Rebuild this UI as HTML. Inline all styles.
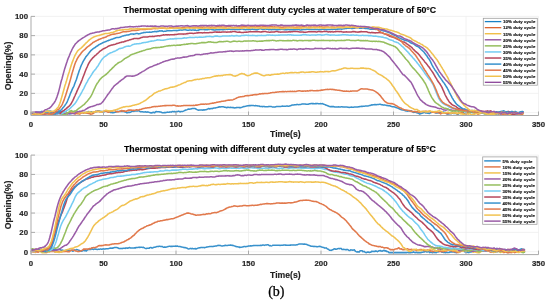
<!DOCTYPE html>
<html><head><meta charset="utf-8"><title>Thermostat opening</title>
<style>
html,body{margin:0;padding:0;background:#fff;width:550px;height:304px;overflow:hidden}
svg{display:block;filter:blur(0.35px)}
text{font-family:"Liberation Sans",Arial,sans-serif;font-weight:bold;fill:#222;stroke:#222;stroke-width:0.15px}
.tk{font-size:7.8px}
.ti{font-size:9.0px;fill:#000;stroke:#000}
.al{font-size:8.6px}
.lg{font-size:4.35px;fill:#111;stroke:#111;stroke-width:0.15px}
.cap{font-family:"Liberation Serif","Times New Roman",serif;font-weight:normal;font-size:14px;fill:#000;stroke:#000;stroke-width:0.25px}
</style></head><body>
<svg width="550" height="304" viewBox="0 0 550 304">
<path d="M103.50,16.40V115.50M176.00,16.40V115.50M248.50,16.40V115.50M321.00,16.40V115.50M393.50,16.40V115.50M466.00,16.40V115.50M538.50,16.40V115.50M31.00,112.60H538.50M31.00,93.36H538.50M31.00,74.12H538.50M31.00,54.88H538.50M31.00,35.64H538.50M31.00,16.40H538.50" stroke="#efefef" stroke-width="0.8" fill="none"/>
<path d="M31.0,112.6 31.7,112.8 32.4,112.8 33.2,112.9 33.9,113.8 34.6,113.9 35.3,114.0 36.0,113.8 36.8,113.5 37.5,113.6 38.2,113.4 38.9,113.4 39.6,113.6 40.4,113.8 41.1,113.6 41.8,112.9 42.5,112.6 43.2,112.8 44.0,112.3 44.7,112.3 45.4,112.2 46.1,111.9 46.8,112.2 47.6,111.9 48.3,111.9 49.0,111.6 49.7,111.3 50.4,111.0 51.2,111.6 51.9,111.5 52.6,112.0 53.3,112.5 54.0,112.7 54.8,112.5 55.5,112.9 56.2,112.2 56.9,112.1 57.6,111.9 58.4,110.9 59.1,111.0 59.8,111.2 60.5,111.3 61.2,111.6 62.0,111.7 62.7,111.6 63.4,112.0 64.1,112.0 64.8,111.8 65.6,111.7 66.3,112.2 67.0,112.5 67.7,112.7 68.4,113.1 69.2,113.1 69.9,113.9 70.6,113.8 71.3,113.3 72.0,112.8 72.8,112.5 73.5,112.0 74.2,112.2 74.9,111.6 75.6,111.7 76.4,112.2 77.1,112.3 77.8,112.2 78.5,112.4 79.2,112.3 80.0,112.2 80.7,112.3 81.4,112.2 82.1,112.3 82.8,112.5 83.6,112.8 84.3,112.5 85.0,112.7 85.7,112.6 86.4,112.7 87.2,112.3 87.9,112.1 88.6,111.5 89.3,111.8 90.0,111.9 90.8,112.2 91.5,111.7 92.2,112.3 92.9,112.5 93.6,112.6 94.4,112.5 95.1,112.2 95.8,111.4 96.5,111.8 97.2,111.1 98.0,111.1 98.7,111.0 99.4,110.8 100.1,111.2 100.8,111.6 101.6,111.4 102.3,111.9 103.0,112.0 103.7,111.6 104.4,111.8 105.2,111.3 105.9,110.7 106.6,111.3 107.3,111.5 108.0,111.8 108.8,111.9 109.5,112.0 110.2,112.1 110.9,112.6 111.6,112.5 112.4,112.7 113.1,112.8 113.8,112.5 114.5,112.4 115.2,112.3 116.0,112.1 116.7,111.5 117.4,111.6 118.1,111.6 118.8,111.5 119.6,111.3 120.3,111.3 121.0,111.4 121.7,111.4 122.4,111.4 123.2,111.2 123.9,111.5 124.6,111.8 125.3,112.1 126.0,112.2 126.8,112.8 127.5,112.7 128.2,112.6 128.9,112.2 129.6,112.5 130.4,112.3 131.1,111.9 131.8,111.4 132.5,111.2 133.2,111.3 134.0,111.4 134.7,110.9 135.4,110.9 136.1,111.0 136.8,110.9 137.6,111.0 138.3,110.8 139.0,110.7 139.7,111.4 140.4,111.7 141.2,111.7 141.9,111.7 142.6,111.8 143.3,112.0 144.0,112.0 144.8,111.9 145.5,111.8 146.2,111.9 146.9,112.3 147.6,111.9 148.4,112.1 149.1,112.4 149.8,112.5 150.5,112.7 151.2,113.0 152.0,112.6 152.7,112.6 153.4,112.3 154.1,112.6 154.8,112.6 155.6,111.8 156.3,111.6 157.0,111.7 157.7,111.8 158.4,111.8 159.2,111.7 159.9,111.9 160.6,112.0 161.3,112.2 162.0,112.7 162.8,112.8 163.5,112.7 164.2,112.6 164.9,112.6 165.6,112.6 166.4,112.4 167.1,112.1 167.8,112.2 168.5,112.2 169.2,112.3 170.0,111.9 170.7,112.0 171.4,112.1 172.1,111.6 172.8,111.5 173.6,111.7 174.3,111.6 175.0,111.6 175.7,112.0 176.4,111.6 177.2,111.6 177.9,111.4 178.6,111.1 179.3,111.4 180.0,111.9 180.8,111.6 181.5,111.4 182.2,111.4 182.9,111.4 183.6,111.1 184.4,110.6 185.1,110.4 185.8,110.0 186.5,109.9 187.2,109.6 188.0,109.2 188.7,109.1 189.4,109.2 190.1,109.1 190.8,109.0 191.6,108.8 192.3,108.4 193.0,108.4 193.7,108.4 194.4,108.4 195.2,108.6 195.9,109.0 196.6,109.4 197.3,109.7 198.0,109.9 198.8,110.2 199.5,110.1 200.2,110.0 200.9,110.0 201.6,109.9 202.4,110.1 203.1,110.1 203.8,109.8 204.5,110.0 205.2,109.8 206.0,109.7 206.7,109.6 207.4,109.2 208.1,108.8 208.8,108.6 209.6,108.9 210.3,108.7 211.0,108.5 211.7,108.6 212.4,108.6 213.2,108.3 213.9,108.1 214.6,108.0 215.3,107.9 216.0,107.7 216.8,107.6 217.5,107.4 218.2,107.1 218.9,107.1 219.6,106.8 220.4,106.9 221.1,106.7 221.8,106.8 222.5,106.8 223.2,106.8 224.0,106.9 224.7,107.3 225.4,107.3 226.1,107.5 226.8,107.7 227.6,107.3 228.3,107.3 229.0,107.4 229.7,107.4 230.4,107.3 231.2,107.5 231.9,107.5 232.6,107.6 233.3,107.6 234.0,107.7 234.8,107.9 235.5,107.8 236.2,107.7 236.9,107.4 237.6,107.5 238.4,107.5 239.1,107.6 239.8,107.6 240.5,107.7 241.2,107.4 242.0,107.2 242.7,106.9 243.4,106.6 244.1,106.6 244.8,106.4 245.6,106.3 246.3,106.1 247.0,105.9 247.7,105.8 248.4,105.7 249.2,105.6 249.9,105.6 250.6,105.6 251.3,105.4 252.0,105.5 252.8,105.5 253.5,105.6 254.2,105.7 254.9,105.8 255.6,105.6 256.4,105.7 257.1,105.7 257.8,105.9 258.5,105.9 259.2,106.1 260.0,106.4 260.7,106.5 261.4,106.4 262.1,106.6 262.8,106.6 263.6,106.4 264.3,106.5 265.0,106.8 265.7,106.8 266.4,106.8 267.2,106.8 267.9,106.8 268.6,106.5 269.3,106.4 270.0,106.5 270.8,106.5 271.5,106.6 272.2,106.9 272.9,107.0 273.6,106.9 274.4,107.1 275.1,107.0 275.8,106.8 276.5,106.6 277.2,106.5 278.0,106.5 278.7,106.5 279.4,106.5 280.1,106.5 280.8,106.4 281.6,106.3 282.3,106.1 283.0,106.2 283.7,106.3 284.4,106.3 285.2,106.2 285.9,106.2 286.6,106.1 287.3,106.0 288.0,106.2 288.8,106.2 289.5,106.1 290.2,105.8 290.9,105.7 291.6,105.2 292.4,104.9 293.1,104.9 293.8,105.0 294.5,104.8 295.2,104.8 296.0,104.8 296.7,104.5 297.4,104.4 298.1,104.6 298.8,104.7 299.6,104.6 300.3,104.5 301.0,104.4 301.7,104.1 302.4,103.9 303.2,104.0 303.9,103.9 304.6,104.0 305.3,104.1 306.0,104.3 306.8,104.2 307.5,104.3 308.2,104.2 308.9,104.0 309.6,103.8 310.4,103.7 311.1,103.5 311.8,103.6 312.5,103.6 313.2,103.6 314.0,103.8 314.7,103.7 315.4,103.6 316.1,103.6 316.8,103.6 317.6,103.5 318.3,103.7 319.0,103.8 319.7,103.7 320.4,103.6 321.2,103.7 321.9,103.7 322.6,103.6 323.3,104.0 324.0,104.3 324.8,104.6 325.5,104.8 326.2,105.3 326.9,105.3 327.6,105.8 328.4,106.0 329.1,106.4 329.8,106.6 330.5,106.8 331.2,106.6 332.0,106.6 332.7,106.6 333.4,106.6 334.1,106.8 334.8,107.0 335.6,107.0 336.3,106.9 337.0,107.0 337.7,106.9 338.4,106.8 339.2,106.9 339.9,106.9 340.6,106.9 341.3,106.8 342.0,106.8 342.8,107.0 343.5,106.9 344.2,107.0 344.9,107.1 345.6,107.0 346.4,107.0 347.1,107.1 347.8,107.2 348.5,107.2 349.2,107.4 350.0,107.3 350.7,107.2 351.4,107.1 352.1,107.2 352.8,107.2 353.6,107.2 354.3,107.1 355.0,107.0 355.7,107.0 356.4,107.0 357.2,106.9 357.9,107.0 358.6,106.8 359.3,106.8 360.0,106.5 360.8,106.4 361.5,106.3 362.2,106.5 362.9,106.3 363.6,106.2 364.4,106.2 365.1,106.1 365.8,105.9 366.5,105.9 367.2,105.9 368.0,105.9 368.7,105.8 369.4,105.6 370.1,105.5 370.8,105.3 371.6,104.8 372.3,104.9 373.0,104.7 373.7,104.7 374.4,104.6 375.2,104.7 375.9,104.5 376.6,104.7 377.3,104.6 378.0,104.4 378.8,104.4 379.5,104.3 380.2,104.3 380.9,104.5 381.6,104.7 382.4,104.8 383.1,105.0 383.8,105.1 384.5,104.9 385.2,105.1 386.0,105.3 386.7,105.5 387.4,105.4 388.1,105.8 388.8,105.7 389.6,105.8 390.3,106.0 391.0,106.3 391.7,106.5 392.4,106.7 393.2,106.8 393.9,106.8 394.6,106.9 395.3,107.2 396.0,107.5 396.8,107.8 397.5,108.0 398.2,108.2 398.9,108.5 399.6,109.0 400.4,109.4 401.1,109.6 401.8,109.9 402.5,110.0 403.2,110.1 404.0,110.3 404.7,110.4 405.4,110.8 406.1,111.0 406.8,111.1 407.6,111.2 408.3,111.1 409.0,110.9 409.7,111.1 410.4,110.9 411.2,110.8 411.9,111.4 412.6,111.9 413.3,112.2 414.0,112.4 414.8,112.0 415.5,112.1 416.2,112.5 416.9,112.7 417.6,112.9 418.4,113.3 419.1,113.7 419.8,114.1 420.5,113.6 421.2,113.4 422.0,113.2 422.7,112.9 423.4,112.7 424.1,112.5 424.8,112.1 425.6,112.9 426.3,113.0 427.0,113.1 427.7,113.2 428.4,113.3 429.2,113.5 429.9,113.2 430.6,112.7 431.3,112.6 432.0,112.2 432.8,112.1 433.5,112.2 434.2,112.0 434.9,112.2 435.6,112.9 436.4,112.9 437.1,112.9 437.8,112.9 438.5,112.8 439.2,112.7 440.0,113.1 440.7,112.1 441.4,112.1 442.1,112.4 442.8,112.3 443.6,112.0 444.3,112.6 445.0,112.3 445.7,113.3 446.4,113.6 447.2,114.1 447.9,113.8 448.6,113.9 449.3,113.8 450.0,113.8 450.8,113.4 451.5,113.6 452.2,113.2 452.9,113.3 453.6,113.5 454.4,113.4 455.1,113.5 455.8,113.4 456.5,113.6 457.2,114.2 458.0,114.3 458.7,113.8 459.4,113.3 460.1,112.4 460.8,112.6 461.6,112.2 462.3,112.2 463.0,112.2 463.7,113.0 464.4,113.4 465.2,113.7 465.9,113.0 466.6,113.3 467.3,113.2 468.0,113.1 468.8,112.7 469.5,113.0 470.2,112.8 470.9,112.5 471.6,112.3 472.4,112.4 473.1,112.8 473.8,112.8 474.5,113.0 475.2,113.1 476.0,113.3 476.7,113.3 477.4,113.2 478.1,113.0 478.8,112.5 479.6,112.3 480.3,112.6 481.0,112.7 481.7,113.0 482.4,112.9 483.2,112.4 483.9,113.4 484.6,113.9 485.3,113.9 486.0,113.3 486.8,112.9 487.5,113.0 488.2,113.9 488.9,113.7 489.6,113.6 490.4,113.6 491.1,113.2 491.8,114.1 492.5,113.8 493.2,113.1 494.0,113.0 494.7,113.2 495.4,113.0 496.1,113.4 496.8,112.8 497.6,112.7 498.3,112.7 499.0,112.5 499.7,111.9 500.4,111.6 501.2,111.4 501.9,111.2 502.6,111.2 503.3,110.8 504.0,110.9 504.8,111.4 505.5,112.2 506.2,112.3 506.9,112.6 507.6,113.2 508.4,113.6 509.1,113.5 509.8,113.6 510.5,112.8 511.2,112.9 512.0,112.7 512.7,112.4 513.4,112.3 514.1,112.1 514.8,111.5 515.6,111.6 516.3,112.0 517.0,112.4 517.7,112.6 518.4,112.6 519.2,112.6 519.9,112.7 520.6,112.6 521.3,112.2 522.0,112.0 522.8,111.8 523.5,111.8" stroke="#3891cc" stroke-width="1.55" fill="none" stroke-linejoin="round"/>
<path d="M31.0,113.1 31.7,113.2 32.4,113.8 33.2,113.8 33.9,113.9 34.6,113.8 35.3,114.3 36.0,113.9 36.8,114.3 37.5,113.9 38.2,114.1 38.9,114.3 39.6,115.0 40.4,114.9 41.1,114.7 41.8,114.4 42.5,115.0 43.2,114.4 44.0,113.4 44.7,112.6 45.4,112.7 46.1,113.1 46.8,113.3 47.6,112.9 48.3,113.6 49.0,114.7 49.7,114.7 50.4,115.0 51.2,114.7 51.9,114.5 52.6,114.5 53.3,114.3 54.0,113.5 54.8,113.7 55.5,113.1 56.2,113.4 56.9,113.7 57.6,113.7 58.4,113.5 59.1,113.6 59.8,113.1 60.5,113.9 61.2,113.8 62.0,113.9 62.7,113.8 63.4,114.2 64.1,113.7 64.8,113.6 65.6,113.4 66.3,113.3 67.0,113.3 67.7,113.6 68.4,112.7 69.2,112.9 69.9,112.3 70.6,112.3 71.3,113.1 72.0,112.6 72.8,112.6 73.5,113.3 74.2,113.4 74.9,113.9 75.6,113.9 76.4,113.0 77.1,113.6 77.8,113.6 78.5,113.7 79.2,114.1 80.0,113.9 80.7,113.3 81.4,113.2 82.1,112.5 82.8,112.8 83.6,113.2 84.3,112.4 85.0,112.4 85.7,113.0 86.4,113.0 87.2,113.0 87.9,113.4 88.6,113.2 89.3,113.7 90.0,113.8 90.8,114.2 91.5,113.9 92.2,113.9 92.9,113.5 93.6,113.0 94.4,112.4 95.1,111.8 95.8,111.2 96.5,111.5 97.2,111.5 98.0,111.2 98.7,111.4 99.4,111.7 100.1,112.0 100.8,111.9 101.6,112.0 102.3,111.6 103.0,111.8 103.7,111.5 104.4,111.3 105.2,111.1 105.9,111.4 106.6,111.5 107.3,111.7 108.0,112.2 108.8,112.2 109.5,111.8 110.2,111.6 110.9,111.2 111.6,111.0 112.4,111.2 113.1,110.7 113.8,110.6 114.5,110.5 115.2,110.9 116.0,111.4 116.7,111.8 117.4,111.6 118.1,111.8 118.8,111.7 119.6,111.6 120.3,111.4 121.0,110.7 121.7,110.5 122.4,110.8 123.2,111.3 123.9,110.7 124.6,111.2 125.3,111.2 126.0,111.1 126.8,111.1 127.5,110.8 128.2,110.1 128.9,110.5 129.6,110.0 130.4,110.1 131.1,110.1 131.8,110.3 132.5,110.3 133.2,110.5 134.0,110.1 134.7,110.4 135.4,110.2 136.1,109.8 136.8,109.7 137.6,109.9 138.3,110.0 139.0,109.8 139.7,109.5 140.4,109.5 141.2,109.4 141.9,109.0 142.6,108.8 143.3,108.5 144.0,108.4 144.8,108.3 145.5,108.0 146.2,108.1 146.9,107.9 147.6,107.8 148.4,107.7 149.1,107.7 149.8,107.5 150.5,107.5 151.2,107.3 152.0,107.0 152.7,106.8 153.4,106.7 154.1,106.5 154.8,106.6 155.6,106.6 156.3,106.4 157.0,106.5 157.7,106.4 158.4,106.3 159.2,106.3 159.9,106.3 160.6,106.0 161.3,106.0 162.0,105.9 162.8,105.8 163.5,105.8 164.2,105.8 164.9,105.6 165.6,105.6 166.4,105.6 167.1,105.5 167.8,105.5 168.5,105.6 169.2,105.5 170.0,105.4 170.7,105.5 171.4,105.6 172.1,105.4 172.8,105.2 173.6,105.3 174.3,105.3 175.0,105.4 175.7,105.7 176.4,105.9 177.2,105.8 177.9,106.1 178.6,106.1 179.3,106.0 180.0,106.0 180.8,106.1 181.5,105.8 182.2,105.8 182.9,105.8 183.6,105.6 184.4,105.5 185.1,105.6 185.8,105.5 186.5,105.4 187.2,105.5 188.0,105.5 188.7,105.5 189.4,105.4 190.1,105.6 190.8,105.5 191.6,105.4 192.3,105.5 193.0,105.4 193.7,105.3 194.4,105.4 195.2,105.3 195.9,105.1 196.6,105.1 197.3,105.2 198.0,104.8 198.8,104.7 199.5,104.6 200.2,104.4 200.9,104.1 201.6,104.2 202.4,104.2 203.1,104.1 203.8,104.2 204.5,104.2 205.2,104.1 206.0,104.0 206.7,104.2 207.4,104.1 208.1,103.9 208.8,103.9 209.6,103.7 210.3,103.4 211.0,103.4 211.7,103.3 212.4,103.1 213.2,103.2 213.9,103.0 214.6,102.8 215.3,102.7 216.0,102.5 216.8,102.2 217.5,102.3 218.2,102.1 218.9,102.0 219.6,101.8 220.4,101.7 221.1,101.4 221.8,101.2 222.5,101.3 223.2,101.2 224.0,101.1 224.7,101.0 225.4,100.9 226.1,100.5 226.8,100.5 227.6,100.3 228.3,100.3 229.0,100.0 229.7,100.2 230.4,100.1 231.2,100.0 231.9,99.9 232.6,99.9 233.3,99.6 234.0,99.2 234.8,98.9 235.5,98.6 236.2,98.3 236.9,97.8 237.6,97.6 238.4,97.3 239.1,97.0 239.8,96.9 240.5,96.7 241.2,96.7 242.0,96.7 242.7,96.6 243.4,96.5 244.1,96.4 244.8,96.0 245.6,95.8 246.3,95.7 247.0,95.6 247.7,95.6 248.4,95.7 249.2,95.5 249.9,95.5 250.6,95.3 251.3,95.2 252.0,95.1 252.8,95.1 253.5,94.8 254.2,94.7 254.9,94.6 255.6,94.6 256.4,94.6 257.1,94.6 257.8,94.5 258.5,94.3 259.2,94.1 260.0,93.8 260.7,93.9 261.4,93.8 262.1,93.7 262.8,93.5 263.6,93.7 264.3,93.5 265.0,93.6 265.7,93.5 266.4,93.5 267.2,93.5 267.9,93.4 268.6,93.3 269.3,93.2 270.0,93.1 270.8,92.8 271.5,92.7 272.2,92.6 272.9,92.4 273.6,92.4 274.4,92.4 275.1,92.4 275.8,92.1 276.5,92.2 277.2,92.1 278.0,92.0 278.7,91.9 279.4,91.8 280.1,91.8 280.8,91.7 281.6,91.8 282.3,91.5 283.0,91.8 283.7,91.6 284.4,91.7 285.2,91.5 285.9,91.6 286.6,91.7 287.3,91.6 288.0,91.4 288.8,91.5 289.5,91.4 290.2,91.3 290.9,91.5 291.6,91.4 292.4,91.3 293.1,91.4 293.8,91.4 294.5,91.3 295.2,91.4 296.0,91.5 296.7,91.3 297.4,91.1 298.1,90.9 298.8,90.8 299.6,90.8 300.3,91.0 301.0,91.1 301.7,91.2 302.4,91.1 303.2,91.3 303.9,91.1 304.6,91.0 305.3,91.1 306.0,91.1 306.8,90.9 307.5,90.7 308.2,90.9 308.9,90.9 309.6,90.6 310.4,90.6 311.1,90.6 311.8,90.5 312.5,90.5 313.2,90.7 314.0,90.8 314.7,90.7 315.4,90.7 316.1,90.7 316.8,90.6 317.6,90.6 318.3,90.7 319.0,90.6 319.7,90.5 320.4,90.4 321.2,90.1 321.9,90.1 322.6,90.1 323.3,89.9 324.0,89.8 324.8,89.8 325.5,89.6 326.2,89.5 326.9,89.5 327.6,89.3 328.4,89.4 329.1,89.4 329.8,89.3 330.5,89.3 331.2,89.4 332.0,89.2 332.7,89.5 333.4,89.6 334.1,89.6 334.8,89.7 335.6,90.0 336.3,89.9 337.0,90.1 337.7,90.2 338.4,90.3 339.2,90.2 339.9,90.4 340.6,90.5 341.3,90.7 342.0,90.7 342.8,91.1 343.5,91.2 344.2,91.1 344.9,91.2 345.6,91.2 346.4,91.1 347.1,91.3 347.8,91.3 348.5,91.2 349.2,91.4 350.0,91.3 350.7,91.1 351.4,91.2 352.1,91.1 352.8,91.0 353.6,91.0 354.3,91.0 355.0,91.0 355.7,91.0 356.4,91.1 357.2,90.9 357.9,90.7 358.6,90.2 359.3,89.9 360.0,89.4 360.8,89.0 361.5,88.8 362.2,88.8 362.9,88.9 363.6,88.9 364.4,89.0 365.1,88.9 365.8,89.0 366.5,89.0 367.2,89.0 368.0,89.2 368.7,89.5 369.4,89.5 370.1,89.7 370.8,89.8 371.6,90.0 372.3,90.1 373.0,90.3 373.7,90.6 374.4,90.9 375.2,91.4 375.9,91.8 376.6,92.3 377.3,92.8 378.0,93.4 378.8,94.2 379.5,94.9 380.2,95.6 380.9,96.5 381.6,97.4 382.4,98.4 383.1,99.3 383.8,100.3 384.5,101.0 385.2,101.7 386.0,102.1 386.7,102.7 387.4,102.9 388.1,103.3 388.8,103.5 389.6,103.5 390.3,103.5 391.0,103.7 391.7,103.6 392.4,103.8 393.2,104.1 393.9,104.3 394.6,104.5 395.3,105.2 396.0,105.5 396.8,105.9 397.5,106.5 398.2,106.9 398.9,107.3 399.6,107.6 400.4,108.0 401.1,108.1 401.8,108.6 402.5,108.9 403.2,109.3 404.0,109.7 404.7,109.8 405.4,109.9 406.1,109.9 406.8,110.2 407.6,110.2 408.3,110.4 409.0,110.5 409.7,110.8 410.4,111.1 411.2,111.4 411.9,111.2 412.6,111.7 413.3,111.8 414.0,111.4 414.8,111.4 415.5,111.8 416.2,112.0 416.9,111.8 417.6,111.8 418.4,112.1 419.1,112.4 419.8,112.0 420.5,111.7 421.2,111.7 422.0,111.5 422.7,111.5 423.4,111.5 424.1,111.5 424.8,111.6 425.6,111.3 426.3,111.2 427.0,111.5 427.7,111.4 428.4,111.7 429.2,111.6 429.9,111.3 430.6,111.6 431.3,111.7 432.0,112.3 432.8,112.3 433.5,111.9 434.2,112.4 434.9,112.6 435.6,112.0 436.4,112.6 437.1,112.2 437.8,112.3 438.5,112.6 439.2,113.0 440.0,113.3 440.7,114.0 441.4,113.0 442.1,112.7 442.8,112.9 443.6,113.1 444.3,112.9 445.0,113.2 445.7,112.8 446.4,112.8 447.2,113.7 447.9,113.5 448.6,113.2 449.3,113.2 450.0,113.4 450.8,113.3 451.5,113.4 452.2,112.9 452.9,112.8 453.6,113.2 454.4,113.1 455.1,113.0 455.8,113.1 456.5,113.3 457.2,113.9 458.0,113.3 458.7,113.0 459.4,112.8 460.1,112.7 460.8,112.6 461.6,112.3 462.3,112.3 463.0,113.7 463.7,113.7 464.4,114.3 465.2,114.5 465.9,114.2 466.6,113.9 467.3,113.4 468.0,112.2 468.8,111.8 469.5,111.8 470.2,111.8 470.9,111.6 471.6,111.4 472.4,111.7 473.1,111.7 473.8,112.0 474.5,112.5 475.2,112.8 476.0,113.4 476.7,113.4 477.4,114.0 478.1,114.3 478.8,113.9 479.6,113.3 480.3,113.5 481.0,112.8 481.7,112.9 482.4,112.6 483.2,112.5 483.9,112.4 484.6,113.0 485.3,112.6 486.0,113.3 486.8,113.5 487.5,113.1 488.2,113.1 488.9,112.9 489.6,113.2 490.4,113.4 491.1,113.8 491.8,113.9 492.5,114.4 493.2,113.8 494.0,113.6 494.7,113.2 495.4,113.3 496.1,112.6 496.8,113.3 497.6,112.8 498.3,113.0 499.0,113.7 499.7,113.7 500.4,112.7 501.2,113.6 501.9,113.6 502.6,113.6 503.3,113.6 504.0,113.3 504.8,112.6 505.5,113.2 506.2,112.7 506.9,112.0 507.6,112.0 508.4,112.7 509.1,113.0 509.8,113.5 510.5,113.8 511.2,114.1 512.0,114.5 512.7,114.5 513.4,113.7 514.1,113.4 514.8,113.5 515.6,113.0 516.3,112.9 517.0,112.8 517.7,113.0 518.4,113.3 519.2,113.6 519.9,113.1 520.6,113.2 521.3,112.8 522.0,112.4 522.8,112.0 523.5,111.7" stroke="#e1794c" stroke-width="1.55" fill="none" stroke-linejoin="round"/>
<path d="M31.0,113.0 31.7,113.1 32.4,113.5 33.2,113.2 33.9,113.4 34.6,113.3 35.3,113.9 36.0,114.3 36.8,114.6 37.5,114.4 38.2,114.9 38.9,115.0 39.6,115.0 40.4,115.0 41.1,115.0 41.8,115.0 42.5,115.0 43.2,115.0 44.0,115.0 44.7,114.9 45.4,114.0 46.1,113.2 46.8,113.3 47.6,113.6 48.3,113.7 49.0,113.2 49.7,113.6 50.4,113.6 51.2,114.4 51.9,114.2 52.6,113.6 53.3,113.0 54.0,112.9 54.8,112.3 55.5,111.9 56.2,112.1 56.9,112.2 57.6,112.6 58.4,112.8 59.1,113.3 59.8,113.6 60.5,113.9 61.2,113.7 62.0,113.9 62.7,113.5 63.4,113.2 64.1,113.2 64.8,112.9 65.6,113.1 66.3,113.3 67.0,113.2 67.7,113.6 68.4,113.0 69.2,113.0 69.9,112.9 70.6,112.0 71.3,111.5 72.0,112.0 72.8,112.0 73.5,112.5 74.2,112.1 74.9,112.5 75.6,112.2 76.4,111.9 77.1,112.3 77.8,112.6 78.5,112.8 79.2,113.1 80.0,112.5 80.7,112.8 81.4,112.9 82.1,112.1 82.8,112.3 83.6,112.6 84.3,113.1 85.0,113.0 85.7,112.7 86.4,111.9 87.2,112.3 87.9,112.3 88.6,112.3 89.3,111.7 90.0,112.1 90.8,112.4 91.5,112.7 92.2,112.0 92.9,111.9 93.6,111.8 94.4,112.1 95.1,112.1 95.8,111.6 96.5,111.5 97.2,111.6 98.0,111.6 98.7,111.4 99.4,111.1 100.1,111.5 100.8,112.1 101.6,112.0 102.3,111.7 103.0,111.4 103.7,111.3 104.4,110.9 105.2,110.5 105.9,110.2 106.6,110.5 107.3,110.6 108.0,111.0 108.8,110.7 109.5,110.9 110.2,110.8 110.9,110.9 111.6,110.9 112.4,110.9 113.1,110.5 113.8,110.5 114.5,110.2 115.2,110.1 116.0,109.8 116.7,109.6 117.4,109.3 118.1,109.0 118.8,108.7 119.6,108.3 120.3,108.2 121.0,107.8 121.7,107.5 122.4,107.4 123.2,107.1 123.9,106.8 124.6,106.9 125.3,106.7 126.0,106.6 126.8,106.5 127.5,106.5 128.2,106.5 128.9,106.6 129.6,106.2 130.4,106.3 131.1,106.0 131.8,105.8 132.5,105.4 133.2,105.3 134.0,105.2 134.7,105.0 135.4,104.8 136.1,104.7 136.8,104.5 137.6,104.3 138.3,104.2 139.0,103.8 139.7,103.5 140.4,103.2 141.2,102.7 141.9,102.3 142.6,101.9 143.3,101.6 144.0,101.1 144.8,100.8 145.5,100.2 146.2,99.9 146.9,99.2 147.6,98.7 148.4,97.9 149.1,97.3 149.8,96.7 150.5,96.3 151.2,95.9 152.0,95.4 152.7,94.7 153.4,94.1 154.1,93.4 154.8,93.0 155.6,92.7 156.3,92.3 157.0,91.9 157.7,91.7 158.4,91.3 159.2,91.0 159.9,90.9 160.6,90.7 161.3,90.4 162.0,90.1 162.8,89.7 163.5,89.5 164.2,89.2 164.9,88.9 165.6,88.7 166.4,88.8 167.1,88.5 167.8,88.4 168.5,88.1 169.2,87.9 170.0,87.5 170.7,87.3 171.4,87.2 172.1,87.1 172.8,87.1 173.6,87.0 174.3,86.8 175.0,86.6 175.7,86.3 176.4,86.0 177.2,85.8 177.9,85.3 178.6,85.1 179.3,84.9 180.0,84.6 180.8,84.2 181.5,83.9 182.2,83.4 182.9,83.2 183.6,82.9 184.4,82.5 185.1,82.4 185.8,82.2 186.5,81.7 187.2,81.2 188.0,81.0 188.7,80.9 189.4,80.7 190.1,80.7 190.8,80.8 191.6,80.8 192.3,80.5 193.0,80.3 193.7,80.1 194.4,79.8 195.2,79.6 195.9,79.6 196.6,79.5 197.3,79.3 198.0,79.3 198.8,79.4 199.5,79.2 200.2,78.9 200.9,78.9 201.6,78.9 202.4,78.6 203.1,78.5 203.8,78.6 204.5,78.4 205.2,78.1 206.0,77.9 206.7,77.9 207.4,77.7 208.1,77.7 208.8,77.7 209.6,77.7 210.3,77.5 211.0,77.4 211.7,77.1 212.4,76.8 213.2,76.6 213.9,76.4 214.6,76.1 215.3,76.1 216.0,76.1 216.8,75.8 217.5,76.0 218.2,75.6 218.9,75.6 219.6,75.7 220.4,75.7 221.1,75.4 221.8,75.6 222.5,75.6 223.2,75.2 224.0,75.1 224.7,75.0 225.4,75.0 226.1,74.7 226.8,74.8 227.6,74.8 228.3,74.8 229.0,74.6 229.7,74.6 230.4,74.6 231.2,74.8 231.9,75.0 232.6,75.5 233.3,75.8 234.0,75.9 234.8,76.1 235.5,76.1 236.2,75.8 236.9,75.6 237.6,75.4 238.4,74.9 239.1,74.5 239.8,74.1 240.5,74.0 241.2,73.6 242.0,73.6 242.7,73.8 243.4,73.9 244.1,73.8 244.8,74.6 245.6,74.8 246.3,75.3 247.0,75.6 247.7,75.7 248.4,75.5 249.2,75.4 249.9,75.1 250.6,74.7 251.3,74.4 252.0,74.0 252.8,73.8 253.5,73.5 254.2,73.2 254.9,73.1 255.6,73.1 256.4,73.1 257.1,73.1 257.8,73.3 258.5,73.6 259.2,73.9 260.0,74.3 260.7,74.5 261.4,75.0 262.1,75.2 262.8,75.6 263.6,75.7 264.3,75.8 265.0,75.6 265.7,75.3 266.4,75.0 267.2,74.9 267.9,75.0 268.6,74.8 269.3,75.2 270.0,75.1 270.8,75.1 271.5,74.6 272.2,74.7 272.9,74.4 273.6,74.4 274.4,74.2 275.1,74.2 275.8,74.2 276.5,74.2 277.2,74.1 278.0,74.1 278.7,74.2 279.4,74.0 280.1,73.8 280.8,73.5 281.6,73.4 282.3,73.3 283.0,73.3 283.7,73.3 284.4,73.4 285.2,73.2 285.9,73.0 286.6,72.9 287.3,73.1 288.0,73.1 288.8,73.0 289.5,72.8 290.2,72.8 290.9,72.6 291.6,72.6 292.4,72.6 293.1,72.7 293.8,72.7 294.5,72.5 295.2,72.5 296.0,72.5 296.7,72.7 297.4,72.7 298.1,72.7 298.8,72.6 299.6,72.6 300.3,72.2 301.0,72.1 301.7,72.1 302.4,72.0 303.2,72.0 303.9,72.2 304.6,72.4 305.3,72.4 306.0,72.3 306.8,72.3 307.5,72.2 308.2,72.2 308.9,72.1 309.6,72.1 310.4,72.1 311.1,71.9 311.8,71.7 312.5,71.8 313.2,71.8 314.0,71.9 314.7,72.0 315.4,72.2 316.1,72.2 316.8,72.3 317.6,72.0 318.3,72.0 319.0,71.9 319.7,71.7 320.4,71.6 321.2,71.7 321.9,71.7 322.6,71.8 323.3,71.9 324.0,71.8 324.8,71.6 325.5,71.6 326.2,71.4 326.9,71.4 327.6,71.6 328.4,71.6 329.1,71.7 329.8,71.6 330.5,71.4 331.2,71.1 332.0,70.9 332.7,70.8 333.4,70.7 334.1,70.9 334.8,70.8 335.6,70.7 336.3,70.4 337.0,70.3 337.7,69.9 338.4,69.7 339.2,69.4 339.9,69.2 340.6,69.2 341.3,69.0 342.0,68.7 342.8,68.6 343.5,68.3 344.2,68.0 344.9,68.0 345.6,68.0 346.4,68.2 347.1,68.6 347.8,68.4 348.5,68.5 349.2,68.5 350.0,68.4 350.7,68.2 351.4,68.3 352.1,68.3 352.8,68.3 353.6,68.4 354.3,68.4 355.0,68.5 355.7,68.4 356.4,68.4 357.2,68.6 357.9,68.5 358.6,68.5 359.3,68.4 360.0,68.3 360.8,68.1 361.5,68.1 362.2,68.1 362.9,68.1 363.6,68.1 364.4,68.3 365.1,68.4 365.8,68.3 366.5,68.6 367.2,68.6 368.0,68.5 368.7,68.5 369.4,68.7 370.1,68.8 370.8,69.2 371.6,69.6 372.3,69.9 373.0,70.3 373.7,70.5 374.4,70.9 375.2,71.3 375.9,71.9 376.6,72.5 377.3,73.1 378.0,73.6 378.8,74.2 379.5,74.4 380.2,74.7 380.9,75.1 381.6,75.5 382.4,75.9 383.1,76.5 383.8,77.0 384.5,77.4 385.2,77.9 386.0,78.4 386.7,79.0 387.4,79.6 388.1,80.1 388.8,80.7 389.6,81.6 390.3,82.4 391.0,83.3 391.7,84.3 392.4,85.5 393.2,86.4 393.9,87.3 394.6,88.5 395.3,89.7 396.0,90.7 396.8,91.6 397.5,92.8 398.2,93.8 398.9,94.8 399.6,96.0 400.4,97.2 401.1,98.4 401.8,99.3 402.5,100.5 403.2,101.3 404.0,102.3 404.7,103.0 405.4,103.7 406.1,104.1 406.8,104.6 407.6,105.0 408.3,105.7 409.0,106.4 409.7,107.0 410.4,107.3 411.2,107.8 411.9,108.1 412.6,108.4 413.3,108.7 414.0,109.2 414.8,109.5 415.5,109.6 416.2,109.6 416.9,109.4 417.6,110.0 418.4,110.5 419.1,110.7 419.8,111.1 420.5,111.4 421.2,111.7 422.0,111.5 422.7,111.4 423.4,111.3 424.1,111.4 424.8,111.2 425.6,111.9 426.3,111.7 427.0,111.7 427.7,111.8 428.4,111.3 429.2,110.9 429.9,111.3 430.6,111.1 431.3,111.4 432.0,111.5 432.8,111.6 433.5,111.7 434.2,111.7 434.9,111.6 435.6,111.6 436.4,111.5 437.1,111.6 437.8,111.1 438.5,111.0 439.2,110.8 440.0,111.2 440.7,111.3 441.4,111.6 442.1,112.0 442.8,112.7 443.6,113.0 444.3,113.0 445.0,112.8 445.7,112.6 446.4,112.5 447.2,112.4 447.9,112.1 448.6,112.3 449.3,112.7 450.0,112.9 450.8,113.2 451.5,113.2 452.2,112.8 452.9,112.7 453.6,113.1 454.4,112.9 455.1,112.9 455.8,112.8 456.5,113.4 457.2,113.0 458.0,113.4 458.7,113.4 459.4,112.9 460.1,113.1 460.8,114.0 461.6,113.6 462.3,114.1 463.0,114.2 463.7,114.0 464.4,114.6 465.2,114.5 465.9,113.8 466.6,113.6 467.3,113.9 468.0,114.0 468.8,114.2 469.5,113.4 470.2,113.8 470.9,114.6 471.6,114.8 472.4,114.5 473.1,114.2 473.8,114.1 474.5,114.2 475.2,114.1 476.0,113.2 476.7,113.2 477.4,113.7 478.1,113.6 478.8,113.5 479.6,113.8 480.3,113.1 481.0,113.1 481.7,112.7 482.4,112.6 483.2,112.7 483.9,113.1 484.6,113.6 485.3,114.2 486.0,114.4 486.8,114.6 487.5,113.7 488.2,114.4 488.9,114.0 489.6,114.0 490.4,114.3 491.1,114.6 491.8,114.7 492.5,115.0 493.2,114.8 494.0,114.6 494.7,114.2 495.4,113.5 496.1,113.6 496.8,113.4 497.6,113.4 498.3,114.2 499.0,114.9 499.7,115.0 500.4,115.0 501.2,115.0 501.9,115.0 502.6,114.6 503.3,114.3 504.0,114.0 504.8,114.6 505.5,114.8 506.2,114.4 506.9,114.6 507.6,114.4 508.4,114.5 509.1,114.1 509.8,113.7 510.5,113.7 511.2,114.3 512.0,114.1 512.7,113.9 513.4,114.4 514.1,114.7 514.8,114.6 515.6,114.5 516.3,114.7 517.0,115.0 517.7,115.0 518.4,115.0 519.2,115.0 519.9,115.0 520.6,115.0 521.3,114.8 522.0,114.1 522.8,114.1 523.5,114.3" stroke="#f1c251" stroke-width="1.55" fill="none" stroke-linejoin="round"/>
<path d="M31.0,113.0 31.7,112.7 32.4,112.5 33.2,112.8 33.9,112.7 34.6,112.8 35.3,112.5 36.0,112.1 36.8,112.1 37.5,112.1 38.2,111.7 38.9,112.7 39.6,112.9 40.4,113.0 41.1,113.1 41.8,113.3 42.5,113.5 43.2,114.2 44.0,114.5 44.7,114.5 45.4,114.2 46.1,114.1 46.8,112.9 47.6,112.5 48.3,112.0 49.0,111.6 49.7,111.7 50.4,112.1 51.2,112.2 51.9,113.1 52.6,113.9 53.3,114.3 54.0,114.2 54.8,114.2 55.5,114.3 56.2,114.0 56.9,114.0 57.6,113.7 58.4,113.0 59.1,113.1 59.8,113.6 60.5,113.5 61.2,113.8 62.0,114.0 62.7,113.8 63.4,114.1 64.1,113.6 64.8,114.1 65.6,113.5 66.3,113.5 67.0,113.8 67.7,114.0 68.4,113.7 69.2,113.7 69.9,112.9 70.6,113.3 71.3,113.6 72.0,113.4 72.8,113.3 73.5,113.6 74.2,113.8 74.9,113.1 75.6,112.6 76.4,112.0 77.1,112.0 77.8,111.8 78.5,111.7 79.2,111.3 80.0,111.6 80.7,111.2 81.4,111.2 82.1,110.8 82.8,110.6 83.6,110.5 84.3,110.2 85.0,109.8 85.7,109.3 86.4,108.8 87.2,108.5 87.9,108.0 88.6,107.5 89.3,107.4 90.0,107.0 90.8,106.7 91.5,106.6 92.2,106.4 92.9,106.2 93.6,106.0 94.4,105.8 95.1,105.4 95.8,105.2 96.5,104.8 97.2,104.5 98.0,104.4 98.7,104.5 99.4,104.1 100.1,104.0 100.8,103.7 101.6,103.0 102.3,102.3 103.0,101.6 103.7,100.5 104.4,99.4 105.2,98.4 105.9,97.4 106.6,96.4 107.3,95.3 108.0,94.3 108.8,93.4 109.5,92.3 110.2,91.4 110.9,90.4 111.6,89.4 112.4,88.3 113.1,87.4 113.8,86.4 114.5,85.7 115.2,85.2 116.0,84.5 116.7,83.9 117.4,83.5 118.1,82.9 118.8,82.1 119.6,81.5 120.3,81.0 121.0,80.4 121.7,79.9 122.4,79.4 123.2,78.9 123.9,78.3 124.6,77.5 125.3,77.0 126.0,76.5 126.8,76.1 127.5,75.9 128.2,75.9 128.9,75.9 129.6,75.9 130.4,76.0 131.1,76.1 131.8,76.2 132.5,76.1 133.2,76.1 134.0,75.9 134.7,75.7 135.4,75.4 136.1,75.2 136.8,75.0 137.6,74.6 138.3,74.3 139.0,73.7 139.7,73.3 140.4,72.7 141.2,72.4 141.9,71.9 142.6,71.6 143.3,71.2 144.0,70.8 144.8,70.3 145.5,69.9 146.2,69.4 146.9,68.9 147.6,68.5 148.4,68.0 149.1,67.6 149.8,67.3 150.5,67.1 151.2,66.8 152.0,66.5 152.7,66.2 153.4,65.8 154.1,65.6 154.8,65.3 155.6,65.1 156.3,64.8 157.0,64.5 157.7,64.0 158.4,63.9 159.2,63.7 159.9,63.3 160.6,63.1 161.3,62.7 162.0,62.4 162.8,62.0 163.5,61.7 164.2,61.4 164.9,61.3 165.6,61.0 166.4,60.8 167.1,60.7 167.8,60.6 168.5,60.3 169.2,60.1 170.0,59.7 170.7,59.4 171.4,59.2 172.1,59.2 172.8,59.1 173.6,59.1 174.3,59.0 175.0,58.6 175.7,58.3 176.4,58.2 177.2,58.1 177.9,57.9 178.6,58.0 179.3,58.1 180.0,58.0 180.8,57.8 181.5,57.7 182.2,57.4 182.9,57.2 183.6,57.1 184.4,57.1 185.1,57.1 185.8,57.0 186.5,56.9 187.2,56.7 188.0,56.5 188.7,56.2 189.4,56.1 190.1,56.0 190.8,55.8 191.6,55.8 192.3,55.7 193.0,55.5 193.7,55.4 194.4,55.2 195.2,54.8 195.9,54.6 196.6,54.5 197.3,54.4 198.0,54.5 198.8,54.5 199.5,54.6 200.2,54.7 200.9,54.7 201.6,54.5 202.4,54.4 203.1,54.2 203.8,54.0 204.5,54.0 205.2,54.0 206.0,53.8 206.7,53.8 207.4,53.9 208.1,53.5 208.8,53.4 209.6,53.2 210.3,53.0 211.0,52.8 211.7,53.0 212.4,52.9 213.2,52.9 213.9,52.8 214.6,52.7 215.3,52.5 216.0,52.4 216.8,52.4 217.5,52.2 218.2,52.2 218.9,52.1 219.6,52.0 220.4,52.0 221.1,52.0 221.8,52.0 222.5,51.9 223.2,51.8 224.0,51.7 224.7,51.8 225.4,51.6 226.1,51.6 226.8,51.5 227.6,51.3 228.3,51.2 229.0,51.2 229.7,51.0 230.4,51.0 231.2,51.1 231.9,51.1 232.6,51.2 233.3,51.4 234.0,51.2 234.8,51.2 235.5,51.1 236.2,51.0 236.9,50.9 237.6,51.0 238.4,51.1 239.1,51.2 239.8,51.1 240.5,51.0 241.2,51.1 242.0,50.9 242.7,50.8 243.4,51.0 244.1,51.0 244.8,50.8 245.6,50.8 246.3,50.7 247.0,50.5 247.7,50.7 248.4,50.7 249.2,50.7 249.9,50.8 250.6,50.7 251.3,50.5 252.0,50.6 252.8,50.5 253.5,50.3 254.2,50.3 254.9,50.2 255.6,49.8 256.4,50.0 257.1,49.9 257.8,49.9 258.5,49.9 259.2,50.0 260.0,49.8 260.7,49.8 261.4,50.1 262.1,50.1 262.8,50.3 263.6,50.2 264.3,50.2 265.0,49.8 265.7,49.8 266.4,49.7 267.2,49.8 267.9,49.8 268.6,49.8 269.3,49.6 270.0,49.7 270.8,49.5 271.5,49.4 272.2,49.4 272.9,49.5 273.6,49.4 274.4,49.6 275.1,49.7 275.8,49.8 276.5,49.8 277.2,49.8 278.0,49.6 278.7,49.6 279.4,49.4 280.1,49.3 280.8,49.2 281.6,49.3 282.3,49.3 283.0,49.5 283.7,49.4 284.4,49.4 285.2,49.5 285.9,49.6 286.6,49.6 287.3,49.8 288.0,49.6 288.8,49.3 289.5,49.3 290.2,49.2 290.9,49.1 291.6,49.2 292.4,49.3 293.1,49.1 293.8,49.0 294.5,49.1 295.2,49.3 296.0,49.3 296.7,49.6 297.4,49.6 298.1,49.3 298.8,48.9 299.6,49.0 300.3,48.8 301.0,49.0 301.7,49.1 302.4,49.3 303.2,49.0 303.9,49.2 304.6,48.9 305.3,48.8 306.0,48.6 306.8,48.8 307.5,48.8 308.2,48.7 308.9,48.7 309.6,49.0 310.4,48.9 311.1,48.9 311.8,49.0 312.5,49.0 313.2,48.9 314.0,48.8 314.7,48.5 315.4,48.3 316.1,48.4 316.8,48.4 317.6,48.4 318.3,48.6 319.0,48.5 319.7,48.4 320.4,48.4 321.2,48.5 321.9,48.4 322.6,48.7 323.3,48.9 324.0,48.8 324.8,48.8 325.5,48.7 326.2,48.4 326.9,48.3 327.6,48.3 328.4,48.3 329.1,48.4 329.8,48.5 330.5,48.5 331.2,48.7 332.0,48.7 332.7,48.6 333.4,48.7 334.1,48.7 334.8,48.6 335.6,48.6 336.3,49.0 337.0,48.9 337.7,48.9 338.4,48.6 339.2,48.6 339.9,48.3 340.6,48.3 341.3,48.3 342.0,48.4 342.8,48.6 343.5,48.5 344.2,48.5 344.9,48.5 345.6,48.5 346.4,48.3 347.1,48.5 347.8,48.5 348.5,48.7 349.2,48.8 350.0,48.8 350.7,48.6 351.4,48.5 352.1,48.3 352.8,48.2 353.6,48.2 354.3,48.3 355.0,48.3 355.7,48.2 356.4,48.1 357.2,48.2 357.9,48.1 358.6,48.3 359.3,48.3 360.0,48.5 360.8,48.4 361.5,48.5 362.2,48.3 362.9,48.6 363.6,48.5 364.4,48.6 365.1,48.8 365.8,49.0 366.5,48.9 367.2,48.9 368.0,49.0 368.7,48.9 369.4,48.9 370.1,49.0 370.8,49.0 371.6,49.1 372.3,49.2 373.0,49.4 373.7,49.4 374.4,49.4 375.2,49.5 375.9,49.6 376.6,49.4 377.3,49.8 378.0,50.0 378.8,49.9 379.5,50.2 380.2,50.5 380.9,50.5 381.6,50.8 382.4,51.2 383.1,51.4 383.8,51.9 384.5,52.5 385.2,53.0 386.0,53.6 386.7,54.4 387.4,55.0 388.1,55.7 388.8,56.3 389.6,57.1 390.3,58.0 391.0,59.0 391.7,59.9 392.4,60.9 393.2,61.7 393.9,62.6 394.6,63.4 395.3,64.4 396.0,65.3 396.8,66.3 397.5,67.2 398.2,68.1 398.9,68.9 399.6,69.9 400.4,71.2 401.1,72.1 401.8,73.1 402.5,73.9 403.2,74.7 404.0,74.9 404.7,75.6 405.4,76.3 406.1,77.0 406.8,77.7 407.6,78.6 408.3,79.4 409.0,80.1 409.7,80.9 410.4,81.6 411.2,82.5 411.9,83.8 412.6,85.2 413.3,86.7 414.0,88.2 414.8,89.7 415.5,91.0 416.2,92.5 416.9,94.0 417.6,95.4 418.4,96.6 419.1,97.7 419.8,98.9 420.5,99.8 421.2,100.4 422.0,101.1 422.7,101.9 423.4,102.5 424.1,102.8 424.8,103.5 425.6,104.0 426.3,104.6 427.0,104.9 427.7,105.3 428.4,105.5 429.2,105.9 429.9,106.0 430.6,106.2 431.3,106.5 432.0,106.6 432.8,106.7 433.5,106.7 434.2,106.9 434.9,107.1 435.6,107.3 436.4,107.6 437.1,107.9 437.8,108.2 438.5,108.3 439.2,108.7 440.0,108.6 440.7,108.5 441.4,108.7 442.1,109.1 442.8,109.4 443.6,110.0 444.3,110.0 445.0,109.9 445.7,110.2 446.4,110.0 447.2,109.7 447.9,109.4 448.6,109.4 449.3,109.7 450.0,110.0 450.8,109.9 451.5,110.1 452.2,110.3 452.9,110.7 453.6,110.2 454.4,110.4 455.1,110.2 455.8,110.0 456.5,110.3 457.2,110.6 458.0,110.5 458.7,110.8 459.4,110.4 460.1,110.6 460.8,110.4 461.6,110.6 462.3,110.5 463.0,110.1 463.7,110.4 464.4,110.9 465.2,110.8 465.9,110.8 466.6,110.6 467.3,110.5 468.0,110.9 468.8,110.6 469.5,110.6 470.2,110.9 470.9,111.2 471.6,111.1 472.4,111.7 473.1,111.5 473.8,111.4 474.5,111.5 475.2,111.1 476.0,111.5 476.7,111.0 477.4,111.0 478.1,111.5 478.8,111.7 479.6,111.3 480.3,111.4 481.0,111.6 481.7,112.0 482.4,112.0 483.2,112.1 483.9,112.0 484.6,112.4 485.3,112.0 486.0,111.9 486.8,111.9 487.5,111.6 488.2,111.7 488.9,111.6 489.6,111.4 490.4,111.7 491.1,112.1 491.8,112.0 492.5,112.4 493.2,112.1 494.0,112.8 494.7,112.7 495.4,112.7 496.1,113.2 496.8,113.2 497.6,113.5 498.3,114.1 499.0,113.2 499.7,113.3 500.4,114.2 501.2,114.1 501.9,113.8 502.6,113.1 503.3,112.6 504.0,113.2 504.8,112.4 505.5,112.1 506.2,112.0 506.9,112.0 507.6,113.1 508.4,112.8 509.1,112.5 509.8,113.2 510.5,112.9 511.2,112.7 512.0,113.1 512.7,112.9 513.4,113.5 514.1,113.0 514.8,112.9 515.6,113.2 516.3,113.2 517.0,112.7 517.7,113.1 518.4,112.9 519.2,113.2 519.9,113.1 520.6,113.0 521.3,113.1 522.0,113.0 522.8,112.7 523.5,112.8" stroke="#9a5da7" stroke-width="1.55" fill="none" stroke-linejoin="round"/>
<path d="M31.0,112.8 31.7,112.7 32.4,112.4 33.2,112.9 33.9,112.8 34.6,113.1 35.3,113.2 36.0,113.5 36.8,113.5 37.5,113.5 38.2,112.9 38.9,113.0 39.6,112.6 40.4,112.9 41.1,113.1 41.8,113.3 42.5,113.1 43.2,113.5 44.0,113.2 44.7,112.9 45.4,112.4 46.1,111.9 46.8,111.2 47.6,110.9 48.3,111.0 49.0,111.4 49.7,111.5 50.4,112.4 51.2,112.6 51.9,112.8 52.6,113.6 53.3,113.3 54.0,114.0 54.8,113.9 55.5,113.0 56.2,112.7 56.9,112.7 57.6,112.9 58.4,112.6 59.1,112.0 59.8,112.7 60.5,113.1 61.2,113.6 62.0,114.0 62.7,114.1 63.4,114.4 64.1,114.6 64.8,114.7 65.6,114.5 66.3,114.0 67.0,113.6 67.7,112.8 68.4,112.4 69.2,111.9 69.9,111.0 70.6,111.0 71.3,110.6 72.0,111.0 72.8,111.2 73.5,111.4 74.2,111.2 74.9,110.9 75.6,110.8 76.4,110.6 77.1,109.9 77.8,109.2 78.5,108.7 79.2,108.1 80.0,107.6 80.7,107.0 81.4,106.6 82.1,106.0 82.8,105.4 83.6,104.9 84.3,104.4 85.0,103.5 85.7,102.7 86.4,102.0 87.2,101.2 87.9,100.3 88.6,99.5 89.3,98.6 90.0,97.6 90.8,96.5 91.5,95.2 92.2,93.8 92.9,92.2 93.6,90.6 94.4,88.8 95.1,87.4 95.8,85.8 96.5,84.5 97.2,83.3 98.0,82.4 98.7,81.3 99.4,80.3 100.1,79.3 100.8,78.6 101.6,77.8 102.3,77.1 103.0,76.6 103.7,76.1 104.4,75.6 105.2,75.0 105.9,74.5 106.6,74.0 107.3,73.3 108.0,72.6 108.8,71.8 109.5,71.0 110.2,70.2 110.9,69.7 111.6,68.9 112.4,68.1 113.1,67.4 113.8,66.8 114.5,66.0 115.2,65.3 116.0,64.6 116.7,64.1 117.4,63.5 118.1,63.0 118.8,62.6 119.6,62.3 120.3,61.9 121.0,61.6 121.7,61.1 122.4,60.5 123.2,59.9 123.9,59.3 124.6,58.7 125.3,58.3 126.0,57.9 126.8,57.6 127.5,57.1 128.2,56.8 128.9,56.3 129.6,55.8 130.4,55.1 131.1,54.8 131.8,54.5 132.5,54.3 133.2,54.0 134.0,53.8 134.7,53.6 135.4,53.2 136.1,53.0 136.8,52.7 137.6,52.4 138.3,52.2 139.0,52.0 139.7,51.7 140.4,51.5 141.2,51.4 141.9,51.0 142.6,50.9 143.3,50.6 144.0,50.4 144.8,50.2 145.5,49.9 146.2,49.6 146.9,49.5 147.6,49.3 148.4,49.3 149.1,49.1 149.8,49.0 150.5,48.7 151.2,48.5 152.0,48.2 152.7,48.0 153.4,47.7 154.1,47.8 154.8,47.7 155.6,47.6 156.3,47.6 157.0,47.8 157.7,47.6 158.4,47.4 159.2,47.5 159.9,47.4 160.6,47.1 161.3,47.1 162.0,47.1 162.8,46.9 163.5,46.7 164.2,46.6 164.9,46.4 165.6,46.3 166.4,46.1 167.1,45.9 167.8,46.0 168.5,45.7 169.2,45.6 170.0,45.7 170.7,45.7 171.4,45.4 172.1,45.4 172.8,45.4 173.6,45.3 174.3,45.3 175.0,45.4 175.7,45.4 176.4,45.3 177.2,45.2 177.9,45.1 178.6,45.2 179.3,45.1 180.0,45.1 180.8,45.1 181.5,44.8 182.2,44.7 182.9,44.6 183.6,44.4 184.4,44.3 185.1,44.4 185.8,44.3 186.5,44.1 187.2,44.1 188.0,44.1 188.7,43.8 189.4,43.7 190.1,43.7 190.8,43.5 191.6,43.4 192.3,43.5 193.0,43.6 193.7,43.7 194.4,43.8 195.2,43.8 195.9,43.8 196.6,43.5 197.3,43.4 198.0,43.3 198.8,43.2 199.5,43.0 200.2,42.9 200.9,42.8 201.6,42.6 202.4,42.6 203.1,42.6 203.8,42.6 204.5,42.6 205.2,42.7 206.0,42.6 206.7,42.5 207.4,42.3 208.1,42.1 208.8,41.8 209.6,41.9 210.3,41.8 211.0,41.9 211.7,42.2 212.4,42.2 213.2,42.2 213.9,42.5 214.6,42.5 215.3,42.5 216.0,42.6 216.8,42.4 217.5,42.2 218.2,42.1 218.9,41.7 219.6,41.5 220.4,41.8 221.1,41.6 221.8,41.7 222.5,41.7 223.2,41.8 224.0,41.5 224.7,41.5 225.4,41.4 226.1,41.3 226.8,41.2 227.6,41.3 228.3,41.4 229.0,41.6 229.7,41.9 230.4,41.9 231.2,41.9 231.9,41.6 232.6,41.5 233.3,41.2 234.0,41.1 234.8,41.2 235.5,41.3 236.2,41.4 236.9,41.5 237.6,41.4 238.4,41.3 239.1,41.2 239.8,41.2 240.5,41.4 241.2,41.4 242.0,41.4 242.7,41.4 243.4,41.3 244.1,41.0 244.8,41.0 245.6,41.1 246.3,41.1 247.0,41.0 247.7,41.1 248.4,40.9 249.2,41.0 249.9,40.9 250.6,40.9 251.3,40.9 252.0,41.0 252.8,40.8 253.5,40.7 254.2,40.9 254.9,40.9 255.6,41.0 256.4,41.2 257.1,41.4 257.8,41.2 258.5,41.2 259.2,41.3 260.0,41.1 260.7,41.2 261.4,41.1 262.1,41.1 262.8,41.1 263.6,40.9 264.3,40.8 265.0,40.8 265.7,40.7 266.4,40.5 267.2,40.7 267.9,40.6 268.6,40.6 269.3,40.6 270.0,40.6 270.8,40.5 271.5,40.4 272.2,40.3 272.9,40.3 273.6,40.5 274.4,40.5 275.1,40.6 275.8,40.9 276.5,40.9 277.2,40.8 278.0,40.8 278.7,40.7 279.4,40.5 280.1,40.4 280.8,40.4 281.6,40.6 282.3,40.7 283.0,40.6 283.7,40.7 284.4,40.7 285.2,40.7 285.9,40.7 286.6,40.8 287.3,40.6 288.0,40.6 288.8,40.6 289.5,40.7 290.2,40.6 290.9,40.7 291.6,40.7 292.4,40.6 293.1,40.3 293.8,40.2 294.5,40.4 295.2,40.5 296.0,40.6 296.7,40.6 297.4,40.9 298.1,40.7 298.8,40.6 299.6,40.4 300.3,40.6 301.0,40.4 301.7,40.6 302.4,40.6 303.2,40.7 303.9,40.6 304.6,40.4 305.3,40.4 306.0,40.5 306.8,40.4 307.5,40.4 308.2,40.6 308.9,40.6 309.6,40.6 310.4,40.6 311.1,40.6 311.8,40.4 312.5,40.2 313.2,40.2 314.0,40.2 314.7,40.2 315.4,40.4 316.1,40.5 316.8,40.5 317.6,40.6 318.3,40.6 319.0,40.5 319.7,40.5 320.4,40.4 321.2,40.4 321.9,40.3 322.6,40.4 323.3,40.3 324.0,40.5 324.8,40.4 325.5,40.5 326.2,40.5 326.9,40.5 327.6,40.4 328.4,40.4 329.1,40.6 329.8,40.6 330.5,40.6 331.2,40.4 332.0,40.4 332.7,40.3 333.4,40.4 334.1,40.4 334.8,40.5 335.6,40.7 336.3,40.7 337.0,40.5 337.7,40.5 338.4,40.4 339.2,40.4 339.9,40.4 340.6,40.4 341.3,40.3 342.0,40.4 342.8,40.5 343.5,40.4 344.2,40.3 344.9,40.5 345.6,40.3 346.4,40.0 347.1,40.0 347.8,40.1 348.5,40.0 349.2,40.1 350.0,40.3 350.7,40.4 351.4,40.4 352.1,40.4 352.8,40.5 353.6,40.5 354.3,40.6 355.0,40.7 355.7,40.5 356.4,40.4 357.2,40.3 357.9,40.2 358.6,40.1 359.3,40.5 360.0,40.6 360.8,40.6 361.5,40.6 362.2,40.7 362.9,40.6 363.6,40.6 364.4,40.7 365.1,40.6 365.8,40.6 366.5,40.7 367.2,40.6 368.0,40.8 368.7,40.9 369.4,41.1 370.1,41.2 370.8,41.3 371.6,41.2 372.3,41.5 373.0,41.3 373.7,41.2 374.4,41.3 375.2,41.5 375.9,41.2 376.6,41.3 377.3,41.4 378.0,41.4 378.8,41.3 379.5,41.4 380.2,41.5 380.9,41.7 381.6,41.7 382.4,42.0 383.1,42.1 383.8,42.3 384.5,42.5 385.2,43.0 386.0,43.1 386.7,43.6 387.4,43.8 388.1,44.1 388.8,44.3 389.6,44.7 390.3,44.8 391.0,45.1 391.7,45.4 392.4,45.6 393.2,45.8 393.9,46.3 394.6,46.5 395.3,46.8 396.0,47.5 396.8,48.0 397.5,48.8 398.2,49.7 398.9,50.6 399.6,51.4 400.4,52.4 401.1,53.1 401.8,54.0 402.5,54.8 403.2,55.7 404.0,56.6 404.7,57.6 405.4,58.5 406.1,59.3 406.8,60.0 407.6,60.8 408.3,61.7 409.0,62.6 409.7,63.6 410.4,64.8 411.2,65.7 411.9,66.6 412.6,67.6 413.3,68.2 414.0,68.9 414.8,69.7 415.5,70.5 416.2,71.2 416.9,72.2 417.6,73.0 418.4,73.9 419.1,74.7 419.8,75.7 420.5,76.6 421.2,77.6 422.0,78.5 422.7,79.5 423.4,80.5 424.1,81.7 424.8,82.7 425.6,84.0 426.3,85.5 427.0,87.2 427.7,88.6 428.4,90.5 429.2,92.2 429.9,93.8 430.6,95.2 431.3,96.7 432.0,97.9 432.8,99.0 433.5,100.0 434.2,101.1 434.9,101.9 435.6,102.6 436.4,103.1 437.1,103.6 437.8,104.0 438.5,104.6 439.2,105.1 440.0,105.7 440.7,106.2 441.4,106.6 442.1,107.1 442.8,107.4 443.6,107.8 444.3,108.3 445.0,108.2 445.7,108.2 446.4,108.5 447.2,108.7 447.9,108.9 448.6,109.6 449.3,110.2 450.0,110.4 450.8,110.7 451.5,110.9 452.2,111.3 452.9,111.0 453.6,110.9 454.4,110.9 455.1,111.3 455.8,111.0 456.5,111.0 457.2,110.7 458.0,111.0 458.7,111.4 459.4,110.9 460.1,110.8 460.8,111.0 461.6,111.0 462.3,111.3 463.0,111.6 463.7,110.9 464.4,110.9 465.2,111.1 465.9,111.3 466.6,111.4 467.3,111.3 468.0,111.3 468.8,111.9 469.5,112.1 470.2,111.7 470.9,111.6 471.6,111.7 472.4,111.7 473.1,112.1 473.8,112.1 474.5,111.9 475.2,112.2 476.0,112.2 476.7,111.9 477.4,112.3 478.1,112.0 478.8,111.5 479.6,111.9 480.3,112.3 481.0,112.6 481.7,112.5 482.4,112.9 483.2,113.2 483.9,113.6 484.6,113.3 485.3,113.4 486.0,113.6 486.8,112.9 487.5,112.8 488.2,112.7 488.9,112.4 489.6,112.8 490.4,112.4 491.1,111.8 491.8,112.6 492.5,112.7 493.2,112.6 494.0,112.3 494.7,113.0 495.4,113.5 496.1,114.0 496.8,113.4 497.6,113.0 498.3,113.2 499.0,113.4 499.7,113.2 500.4,112.8 501.2,112.9 501.9,112.9 502.6,112.7 503.3,112.5 504.0,113.0 504.8,112.4 505.5,112.4 506.2,112.3 506.9,112.4 507.6,113.1 508.4,113.2 509.1,112.7 509.8,112.8 510.5,113.7 511.2,113.3 512.0,113.4 512.7,112.9 513.4,113.1 514.1,113.3 514.8,113.2 515.6,112.7 516.3,113.3 517.0,113.9 517.7,114.4 518.4,114.5 519.2,114.3 519.9,114.4 520.6,114.5 521.3,113.8 522.0,113.6 522.8,112.7 523.5,112.3" stroke="#95be5e" stroke-width="1.55" fill="none" stroke-linejoin="round"/>
<path d="M31.0,113.7 31.7,113.9 32.4,114.1 33.2,114.1 33.9,113.6 34.6,113.6 35.3,113.7 36.0,113.9 36.8,113.4 37.5,112.3 38.2,112.0 38.9,112.6 39.6,112.8 40.4,112.1 41.1,112.2 41.8,111.9 42.5,113.3 43.2,113.5 44.0,113.0 44.7,113.2 45.4,113.5 46.1,113.4 46.8,113.7 47.6,112.9 48.3,112.9 49.0,112.8 49.7,113.0 50.4,113.2 51.2,112.6 51.9,112.3 52.6,113.2 53.3,113.3 54.0,113.3 54.8,113.4 55.5,113.5 56.2,113.5 56.9,113.9 57.6,113.3 58.4,113.7 59.1,113.9 59.8,113.0 60.5,113.6 61.2,113.9 62.0,113.4 62.7,113.2 63.4,112.4 64.1,112.0 64.8,112.2 65.6,111.3 66.3,110.8 67.0,110.4 67.7,110.1 68.4,109.6 69.2,109.3 69.9,108.5 70.6,107.9 71.3,107.1 72.0,106.5 72.8,105.7 73.5,105.1 74.2,104.3 74.9,103.7 75.6,102.6 76.4,101.5 77.1,100.1 77.8,99.1 78.5,97.7 79.2,96.6 80.0,95.4 80.7,94.1 81.4,92.8 82.1,91.5 82.8,90.1 83.6,88.8 84.3,87.4 85.0,85.9 85.7,84.5 86.4,83.2 87.2,81.8 87.9,80.3 88.6,79.2 89.3,78.1 90.0,77.1 90.8,75.9 91.5,74.8 92.2,73.6 92.9,72.5 93.6,71.5 94.4,70.6 95.1,69.7 95.8,69.0 96.5,67.9 97.2,66.8 98.0,65.9 98.7,64.7 99.4,63.4 100.1,62.4 100.8,61.1 101.6,59.9 102.3,59.0 103.0,58.2 103.7,57.5 104.4,56.9 105.2,56.4 105.9,56.0 106.6,55.4 107.3,54.8 108.0,54.2 108.8,53.8 109.5,53.4 110.2,53.0 110.9,52.7 111.6,52.5 112.4,52.2 113.1,51.8 113.8,51.5 114.5,51.4 115.2,51.0 116.0,50.6 116.7,50.1 117.4,49.9 118.1,49.4 118.8,48.9 119.6,48.5 120.3,48.6 121.0,48.3 121.7,48.2 122.4,48.1 123.2,47.7 123.9,47.3 124.6,47.0 125.3,46.7 126.0,46.4 126.8,46.3 127.5,46.2 128.2,46.1 128.9,46.1 129.6,46.2 130.4,45.9 131.1,45.6 131.8,45.2 132.5,44.7 133.2,44.4 134.0,44.3 134.7,44.0 135.4,44.0 136.1,44.0 136.8,43.8 137.6,43.7 138.3,43.7 139.0,43.7 139.7,43.5 140.4,43.5 141.2,43.3 141.9,43.1 142.6,42.8 143.3,42.8 144.0,42.6 144.8,42.5 145.5,42.5 146.2,42.3 146.9,42.2 147.6,42.0 148.4,41.9 149.1,41.5 149.8,41.5 150.5,41.3 151.2,41.1 152.0,41.1 152.7,41.0 153.4,40.9 154.1,40.8 154.8,40.6 155.6,40.4 156.3,40.3 157.0,40.0 157.7,39.8 158.4,39.9 159.2,39.9 159.9,39.9 160.6,40.2 161.3,40.3 162.0,40.3 162.8,40.3 163.5,40.3 164.2,40.0 164.9,39.9 165.6,39.8 166.4,39.6 167.1,39.4 167.8,39.3 168.5,39.2 169.2,39.1 170.0,38.9 170.7,38.8 171.4,39.0 172.1,38.9 172.8,38.8 173.6,39.0 174.3,38.8 175.0,38.6 175.7,38.6 176.4,38.6 177.2,38.6 177.9,38.5 178.6,38.5 179.3,38.4 180.0,38.4 180.8,38.4 181.5,38.4 182.2,38.4 182.9,38.1 183.6,38.1 184.4,37.7 185.1,37.9 185.8,38.0 186.5,38.1 187.2,37.7 188.0,37.7 188.7,37.6 189.4,37.4 190.1,37.3 190.8,37.4 191.6,37.5 192.3,37.4 193.0,37.6 193.7,37.5 194.4,37.5 195.2,37.3 195.9,37.3 196.6,37.3 197.3,37.4 198.0,37.2 198.8,37.2 199.5,37.1 200.2,37.2 200.9,37.1 201.6,37.3 202.4,37.3 203.1,37.2 203.8,37.1 204.5,37.0 205.2,36.9 206.0,36.6 206.7,36.6 207.4,36.5 208.1,36.4 208.8,36.4 209.6,36.3 210.3,36.5 211.0,36.5 211.7,36.7 212.4,36.7 213.2,36.7 213.9,36.5 214.6,36.3 215.3,36.1 216.0,36.1 216.8,36.1 217.5,36.1 218.2,36.3 218.9,36.4 219.6,36.5 220.4,36.4 221.1,36.4 221.8,36.3 222.5,36.1 223.2,35.9 224.0,35.9 224.7,35.9 225.4,36.0 226.1,35.9 226.8,35.9 227.6,36.0 228.3,36.0 229.0,35.9 229.7,35.8 230.4,35.9 231.2,35.8 231.9,35.6 232.6,35.8 233.3,35.9 234.0,35.8 234.8,35.9 235.5,35.8 236.2,35.6 236.9,35.6 237.6,35.8 238.4,35.9 239.1,35.9 239.8,35.9 240.5,36.0 241.2,35.6 242.0,35.5 242.7,35.5 243.4,35.5 244.1,35.3 244.8,35.5 245.6,35.3 246.3,35.3 247.0,35.3 247.7,35.4 248.4,35.2 249.2,35.5 249.9,35.5 250.6,35.6 251.3,35.5 252.0,35.6 252.8,35.3 253.5,35.5 254.2,35.5 254.9,35.5 255.6,35.7 256.4,35.7 257.1,35.6 257.8,35.6 258.5,35.5 259.2,35.5 260.0,35.4 260.7,35.4 261.4,35.3 262.1,35.4 262.8,35.4 263.6,35.6 264.3,35.5 265.0,35.6 265.7,35.5 266.4,35.2 267.2,35.0 267.9,35.1 268.6,35.1 269.3,35.0 270.0,35.1 270.8,35.2 271.5,35.2 272.2,35.1 272.9,35.3 273.6,35.2 274.4,35.2 275.1,35.4 275.8,35.2 276.5,35.2 277.2,35.3 278.0,35.2 278.7,35.0 279.4,35.2 280.1,35.0 280.8,35.0 281.6,35.0 282.3,35.0 283.0,34.9 283.7,35.0 284.4,35.0 285.2,34.9 285.9,35.0 286.6,35.1 287.3,35.0 288.0,34.7 288.8,34.7 289.5,34.9 290.2,34.7 290.9,34.8 291.6,35.1 292.4,35.1 293.1,35.0 293.8,35.3 294.5,35.3 295.2,35.3 296.0,35.3 296.7,35.2 297.4,35.2 298.1,35.2 298.8,35.3 299.6,35.2 300.3,35.3 301.0,35.1 301.7,35.1 302.4,34.7 303.2,34.6 303.9,34.6 304.6,34.7 305.3,34.6 306.0,34.7 306.8,35.0 307.5,35.0 308.2,35.0 308.9,35.0 309.6,35.2 310.4,35.2 311.1,35.1 311.8,35.0 312.5,34.9 313.2,35.0 314.0,34.9 314.7,34.9 315.4,35.1 316.1,35.1 316.8,35.0 317.6,34.8 318.3,34.8 319.0,34.8 319.7,34.7 320.4,34.7 321.2,35.1 321.9,35.1 322.6,35.1 323.3,35.0 324.0,34.9 324.8,34.7 325.5,34.6 326.2,34.4 326.9,34.6 327.6,34.6 328.4,34.7 329.1,34.9 329.8,35.1 330.5,35.1 331.2,35.1 332.0,34.9 332.7,35.0 333.4,34.9 334.1,34.9 334.8,35.1 335.6,35.2 336.3,35.2 337.0,35.3 337.7,35.3 338.4,35.1 339.2,35.2 339.9,34.9 340.6,34.9 341.3,34.9 342.0,34.7 342.8,34.6 343.5,34.8 344.2,34.8 344.9,34.7 345.6,34.8 346.4,34.9 347.1,34.8 347.8,34.9 348.5,35.0 349.2,35.3 350.0,35.2 350.7,35.1 351.4,35.1 352.1,35.1 352.8,35.0 353.6,34.9 354.3,35.2 355.0,35.2 355.7,35.2 356.4,35.1 357.2,35.3 357.9,35.2 358.6,35.4 359.3,35.4 360.0,35.4 360.8,35.4 361.5,35.4 362.2,35.3 362.9,35.2 363.6,35.4 364.4,35.4 365.1,35.5 365.8,35.4 366.5,35.5 367.2,35.5 368.0,35.6 368.7,35.6 369.4,35.7 370.1,35.6 370.8,35.6 371.6,35.8 372.3,35.9 373.0,36.0 373.7,36.3 374.4,36.3 375.2,36.1 375.9,36.2 376.6,36.3 377.3,36.4 378.0,36.5 378.8,36.8 379.5,36.8 380.2,36.8 380.9,36.9 381.6,37.1 382.4,37.1 383.1,37.2 383.8,37.5 384.5,37.7 385.2,37.7 386.0,38.0 386.7,38.1 387.4,38.5 388.1,38.9 388.8,39.4 389.6,39.6 390.3,40.0 391.0,40.1 391.7,40.3 392.4,40.4 393.2,40.8 393.9,41.3 394.6,41.7 395.3,41.9 396.0,42.1 396.8,42.4 397.5,42.6 398.2,42.9 398.9,43.5 399.6,44.2 400.4,44.7 401.1,45.4 401.8,46.1 402.5,46.6 403.2,47.2 404.0,48.1 404.7,48.9 405.4,49.5 406.1,50.3 406.8,51.1 407.6,51.7 408.3,52.6 409.0,53.3 409.7,54.3 410.4,55.1 411.2,55.8 411.9,56.6 412.6,57.4 413.3,58.2 414.0,58.9 414.8,59.9 415.5,60.8 416.2,61.6 416.9,62.5 417.6,63.4 418.4,64.3 419.1,65.2 419.8,66.2 420.5,67.1 421.2,68.0 422.0,69.0 422.7,70.0 423.4,71.1 424.1,72.0 424.8,73.3 425.6,74.3 426.3,75.2 427.0,76.1 427.7,77.2 428.4,77.9 429.2,78.9 429.9,79.8 430.6,80.8 431.3,81.6 432.0,82.8 432.8,84.0 433.5,85.5 434.2,87.1 434.9,88.9 435.6,90.6 436.4,92.6 437.1,94.4 437.8,96.2 438.5,97.8 439.2,99.1 440.0,100.2 440.7,101.4 441.4,102.0 442.1,102.7 442.8,103.4 443.6,103.9 444.3,104.3 445.0,104.7 445.7,105.0 446.4,105.2 447.2,105.6 447.9,106.1 448.6,106.6 449.3,107.1 450.0,107.5 450.8,107.7 451.5,107.9 452.2,108.2 452.9,108.1 453.6,108.2 454.4,108.5 455.1,108.6 455.8,108.7 456.5,109.0 457.2,109.2 458.0,109.1 458.7,109.3 459.4,109.2 460.1,109.3 460.8,109.3 461.6,109.6 462.3,109.8 463.0,110.0 463.7,110.2 464.4,110.2 465.2,110.0 465.9,110.2 466.6,110.2 467.3,110.0 468.0,110.3 468.8,110.9 469.5,110.8 470.2,110.9 470.9,110.9 471.6,110.9 472.4,111.2 473.1,111.2 473.8,111.1 474.5,111.4 475.2,111.3 476.0,111.3 476.7,110.9 477.4,110.8 478.1,111.0 478.8,111.0 479.6,111.0 480.3,111.3 481.0,111.3 481.7,111.9 482.4,112.6 483.2,112.7 483.9,113.0 484.6,113.4 485.3,113.4 486.0,113.3 486.8,113.1 487.5,113.1 488.2,112.6 488.9,112.3 489.6,112.4 490.4,112.1 491.1,112.0 491.8,111.9 492.5,111.8 493.2,112.3 494.0,112.9 494.7,112.9 495.4,113.0 496.1,113.2 496.8,113.6 497.6,113.9 498.3,113.2 499.0,113.0 499.7,112.5 500.4,112.8 501.2,112.8 501.9,112.7 502.6,112.6 503.3,113.5 504.0,113.1 504.8,113.8 505.5,114.0 506.2,113.8 506.9,113.6 507.6,113.2 508.4,113.4 509.1,113.5 509.8,113.2 510.5,112.7 511.2,112.6 512.0,112.5 512.7,113.1 513.4,113.0 514.1,113.5 514.8,114.1 515.6,114.0 516.3,114.3 517.0,114.7 517.7,114.9 518.4,114.5 519.2,113.6 519.9,113.5 520.6,113.7 521.3,113.3 522.0,113.0 522.8,112.1 523.5,111.9" stroke="#74ccf2" stroke-width="1.55" fill="none" stroke-linejoin="round"/>
<path d="M31.0,112.5 31.7,112.9 32.4,113.4 33.2,112.8 33.9,112.6 34.6,113.5 35.3,113.8 36.0,114.4 36.8,114.3 37.5,113.9 38.2,113.8 38.9,114.1 39.6,113.3 40.4,113.1 41.1,112.8 41.8,112.6 42.5,112.4 43.2,112.6 44.0,112.5 44.7,112.4 45.4,112.4 46.1,113.0 46.8,113.2 47.6,112.9 48.3,112.7 49.0,113.2 49.7,113.1 50.4,113.2 51.2,112.6 51.9,112.9 52.6,112.9 53.3,113.2 54.0,112.5 54.8,112.5 55.5,111.7 56.2,112.0 56.9,112.2 57.6,112.6 58.4,112.2 59.1,112.9 59.8,113.0 60.5,113.3 61.2,112.3 62.0,111.7 62.7,110.9 63.4,110.7 64.1,110.3 64.8,109.7 65.6,109.1 66.3,108.6 67.0,107.9 67.7,107.3 68.4,106.7 69.2,106.1 69.9,105.3 70.6,104.5 71.3,103.3 72.0,102.1 72.8,100.7 73.5,99.2 74.2,97.4 74.9,96.0 75.6,94.3 76.4,92.6 77.1,90.9 77.8,89.4 78.5,87.8 79.2,86.3 80.0,84.7 80.7,83.1 81.4,81.4 82.1,79.7 82.8,77.8 83.6,75.8 84.3,74.0 85.0,72.1 85.7,70.2 86.4,68.5 87.2,66.8 87.9,65.2 88.6,63.7 89.3,62.5 90.0,61.3 90.8,60.3 91.5,59.3 92.2,58.6 92.9,57.7 93.6,57.1 94.4,56.3 95.1,55.6 95.8,55.1 96.5,54.5 97.2,53.7 98.0,53.1 98.7,52.5 99.4,51.7 100.1,51.1 100.8,50.6 101.6,50.2 102.3,49.5 103.0,49.1 103.7,48.7 104.4,48.4 105.2,48.1 105.9,47.7 106.6,47.3 107.3,46.9 108.0,46.4 108.8,46.0 109.5,45.8 110.2,45.6 110.9,45.3 111.6,45.0 112.4,44.9 113.1,44.7 113.8,44.5 114.5,44.4 115.2,44.2 116.0,43.9 116.7,43.5 117.4,43.4 118.1,43.2 118.8,43.0 119.6,42.7 120.3,42.6 121.0,42.5 121.7,42.1 122.4,42.0 123.2,42.1 123.9,41.8 124.6,41.3 125.3,41.4 126.0,41.0 126.8,40.8 127.5,40.6 128.2,40.4 128.9,40.2 129.6,39.8 130.4,39.7 131.1,39.4 131.8,39.2 132.5,38.9 133.2,38.9 134.0,38.6 134.7,38.5 135.4,38.5 136.1,38.5 136.8,38.4 137.6,38.6 138.3,38.6 139.0,38.5 139.7,38.2 140.4,37.9 141.2,37.6 141.9,37.4 142.6,37.2 143.3,37.1 144.0,37.0 144.8,37.1 145.5,37.0 146.2,37.0 146.9,37.0 147.6,37.0 148.4,36.7 149.1,36.6 149.8,36.4 150.5,36.4 151.2,36.4 152.0,36.4 152.7,36.3 153.4,36.4 154.1,36.5 154.8,36.3 155.6,36.1 156.3,35.9 157.0,35.9 157.7,35.8 158.4,35.7 159.2,35.8 159.9,35.9 160.6,35.6 161.3,35.4 162.0,35.2 162.8,35.0 163.5,34.8 164.2,34.9 164.9,34.9 165.6,34.8 166.4,34.8 167.1,35.0 167.8,34.8 168.5,34.8 169.2,34.9 170.0,34.8 170.7,34.7 171.4,34.8 172.1,34.8 172.8,34.8 173.6,34.7 174.3,34.6 175.0,34.6 175.7,34.5 176.4,34.4 177.2,34.3 177.9,34.2 178.6,34.1 179.3,34.0 180.0,34.0 180.8,34.0 181.5,34.0 182.2,34.0 182.9,34.1 183.6,34.1 184.4,34.0 185.1,34.0 185.8,34.0 186.5,33.8 187.2,33.6 188.0,33.6 188.7,33.4 189.4,33.2 190.1,33.2 190.8,33.2 191.6,33.2 192.3,33.3 193.0,33.4 193.7,33.4 194.4,33.2 195.2,33.2 195.9,33.1 196.6,32.9 197.3,32.8 198.0,32.9 198.8,32.6 199.5,32.7 200.2,32.8 200.9,32.8 201.6,32.8 202.4,32.9 203.1,32.7 203.8,32.7 204.5,32.6 205.2,32.7 206.0,32.8 206.7,32.8 207.4,32.8 208.1,32.8 208.8,32.7 209.6,32.5 210.3,32.4 211.0,32.5 211.7,32.6 212.4,32.4 213.2,32.3 213.9,32.2 214.6,32.1 215.3,32.0 216.0,32.1 216.8,32.1 217.5,32.1 218.2,32.2 218.9,32.1 219.6,32.1 220.4,32.2 221.1,32.2 221.8,32.0 222.5,32.0 223.2,31.9 224.0,32.0 224.7,32.0 225.4,32.0 226.1,32.0 226.8,32.2 227.6,31.9 228.3,31.9 229.0,32.1 229.7,31.9 230.4,31.8 231.2,31.9 231.9,31.9 232.6,31.5 233.3,31.5 234.0,31.5 234.8,31.6 235.5,31.6 236.2,31.9 236.9,32.1 237.6,32.2 238.4,32.2 239.1,32.1 239.8,32.1 240.5,32.2 241.2,32.4 242.0,32.4 242.7,32.5 243.4,32.6 244.1,32.3 244.8,32.3 245.6,32.2 246.3,32.1 247.0,32.2 247.7,32.1 248.4,31.9 249.2,31.8 249.9,31.8 250.6,31.6 251.3,31.7 252.0,31.7 252.8,31.8 253.5,31.8 254.2,31.7 254.9,31.7 255.6,31.6 256.4,31.7 257.1,31.6 257.8,31.8 258.5,31.8 259.2,31.8 260.0,31.9 260.7,32.0 261.4,31.8 262.1,31.9 262.8,31.6 263.6,31.6 264.3,31.5 265.0,31.6 265.7,31.5 266.4,31.7 267.2,31.9 267.9,31.9 268.6,32.1 269.3,32.2 270.0,32.2 270.8,32.0 271.5,32.1 272.2,32.0 272.9,31.9 273.6,31.9 274.4,31.9 275.1,31.7 275.8,31.6 276.5,31.5 277.2,31.5 278.0,31.7 278.7,31.9 279.4,32.0 280.1,32.1 280.8,32.2 281.6,32.1 282.3,32.0 283.0,32.0 283.7,32.0 284.4,32.0 285.2,32.1 285.9,32.0 286.6,31.9 287.3,32.0 288.0,31.9 288.8,31.7 289.5,31.8 290.2,32.0 290.9,31.8 291.6,31.7 292.4,31.7 293.1,31.5 293.8,31.5 294.5,31.5 295.2,31.6 296.0,31.5 296.7,31.6 297.4,31.5 298.1,31.7 298.8,31.8 299.6,31.9 300.3,31.9 301.0,32.1 301.7,32.0 302.4,32.0 303.2,32.0 303.9,32.2 304.6,32.2 305.3,32.2 306.0,32.2 306.8,32.1 307.5,31.9 308.2,31.8 308.9,31.8 309.6,31.7 310.4,31.8 311.1,31.8 311.8,31.8 312.5,31.7 313.2,31.7 314.0,31.8 314.7,31.7 315.4,31.8 316.1,31.9 316.8,31.9 317.6,31.7 318.3,31.6 319.0,31.5 319.7,31.6 320.4,31.6 321.2,31.7 321.9,31.7 322.6,31.7 323.3,31.6 324.0,31.5 324.8,31.3 325.5,31.4 326.2,31.5 326.9,31.4 327.6,31.7 328.4,32.0 329.1,31.7 329.8,31.7 330.5,31.9 331.2,31.7 332.0,31.6 332.7,31.9 333.4,31.9 334.1,31.7 334.8,31.7 335.6,31.6 336.3,31.6 337.0,31.4 337.7,31.6 338.4,31.5 339.2,31.7 339.9,31.5 340.6,31.6 341.3,31.6 342.0,31.8 342.8,31.9 343.5,32.1 344.2,32.1 344.9,32.0 345.6,32.0 346.4,31.8 347.1,31.9 347.8,32.0 348.5,32.0 349.2,32.0 350.0,32.1 350.7,32.0 351.4,31.9 352.1,31.7 352.8,31.6 353.6,31.6 354.3,31.7 355.0,31.6 355.7,32.0 356.4,32.0 357.2,32.1 357.9,32.2 358.6,32.0 359.3,31.8 360.0,31.9 360.8,31.6 361.5,31.6 362.2,31.8 362.9,31.8 363.6,31.7 364.4,31.8 365.1,31.8 365.8,31.8 366.5,31.8 367.2,31.9 368.0,32.4 368.7,32.5 369.4,32.6 370.1,32.7 370.8,32.7 371.6,32.4 372.3,32.6 373.0,32.6 373.7,32.7 374.4,32.7 375.2,32.9 375.9,32.7 376.6,32.7 377.3,32.7 378.0,32.8 378.8,32.5 379.5,32.6 380.2,32.6 380.9,32.7 381.6,32.7 382.4,32.9 383.1,33.2 383.8,33.5 384.5,33.7 385.2,34.0 386.0,34.3 386.7,34.7 387.4,35.0 388.1,35.3 388.8,35.7 389.6,36.3 390.3,36.5 391.0,36.6 391.7,36.9 392.4,37.1 393.2,37.3 393.9,37.4 394.6,37.8 395.3,38.1 396.0,38.5 396.8,38.9 397.5,39.3 398.2,39.5 398.9,39.9 399.6,40.3 400.4,40.7 401.1,41.2 401.8,41.3 402.5,41.7 403.2,41.9 404.0,42.1 404.7,42.3 405.4,42.8 406.1,43.2 406.8,43.8 407.6,44.3 408.3,44.9 409.0,45.4 409.7,46.0 410.4,46.4 411.2,47.0 411.9,47.6 412.6,48.4 413.3,49.2 414.0,49.9 414.8,50.7 415.5,51.4 416.2,52.0 416.9,52.5 417.6,53.2 418.4,53.9 419.1,54.7 419.8,55.6 420.5,56.6 421.2,57.4 422.0,58.3 422.7,59.2 423.4,59.9 424.1,60.9 424.8,61.9 425.6,62.8 426.3,63.6 427.0,64.4 427.7,65.4 428.4,66.3 429.2,67.3 429.9,68.3 430.6,69.4 431.3,70.4 432.0,71.4 432.8,72.5 433.5,73.6 434.2,74.9 434.9,76.1 435.6,77.4 436.4,78.5 437.1,79.9 437.8,81.0 438.5,82.1 439.2,82.9 440.0,84.0 440.7,85.2 441.4,86.3 442.1,87.6 442.8,89.4 443.6,91.1 444.3,92.8 445.0,94.5 445.7,95.9 446.4,97.2 447.2,98.7 447.9,99.7 448.6,100.8 449.3,101.9 450.0,102.7 450.8,103.4 451.5,104.1 452.2,104.8 452.9,105.1 453.6,105.6 454.4,105.7 455.1,106.1 455.8,106.4 456.5,107.0 457.2,107.7 458.0,108.2 458.7,108.5 459.4,108.9 460.1,109.4 460.8,109.2 461.6,109.3 462.3,109.3 463.0,109.6 463.7,109.8 464.4,109.9 465.2,109.8 465.9,110.2 466.6,110.3 467.3,110.3 468.0,110.4 468.8,110.5 469.5,110.5 470.2,110.8 470.9,110.7 471.6,110.8 472.4,111.1 473.1,111.1 473.8,111.3 474.5,111.4 475.2,111.0 476.0,111.3 476.7,111.6 477.4,111.5 478.1,111.7 478.8,111.3 479.6,111.3 480.3,111.8 481.0,111.5 481.7,111.1 482.4,111.3 483.2,111.4 483.9,111.5 484.6,111.4 485.3,111.3 486.0,111.2 486.8,111.1 487.5,110.9 488.2,111.2 488.9,111.7 489.6,111.5 490.4,110.9 491.1,111.1 491.8,111.8 492.5,112.4 493.2,112.3 494.0,112.2 494.7,112.8 495.4,113.2 496.1,113.7 496.8,113.6 497.6,112.9 498.3,112.9 499.0,112.4 499.7,112.4 500.4,112.6 501.2,112.0 501.9,112.1 502.6,112.8 503.3,113.1 504.0,113.1 504.8,113.0 505.5,112.8 506.2,112.7 506.9,112.0 507.6,111.6 508.4,111.4 509.1,111.8 509.8,112.0 510.5,112.8 511.2,113.5 512.0,114.2 512.7,114.1 513.4,114.7 514.1,114.2 514.8,115.0 515.6,114.5 516.3,114.1 517.0,113.9 517.7,114.8 518.4,114.5 519.2,114.6 519.9,114.1 520.6,113.7 521.3,113.8 522.0,114.0 522.8,113.1 523.5,112.9" stroke="#b6485d" stroke-width="1.55" fill="none" stroke-linejoin="round"/>
<path d="M31.0,112.8 31.7,112.8 32.4,112.7 33.2,113.3 33.9,114.2 34.6,114.3 35.3,114.7 36.0,114.0 36.8,113.4 37.5,113.3 38.2,113.0 38.9,112.9 39.6,112.5 40.4,112.0 41.1,111.9 41.8,111.4 42.5,112.1 43.2,112.3 44.0,112.0 44.7,112.8 45.4,112.6 46.1,112.2 46.8,113.2 47.6,112.8 48.3,113.1 49.0,112.9 49.7,112.6 50.4,113.5 51.2,113.8 51.9,113.1 52.6,113.4 53.3,113.6 54.0,113.9 54.8,113.6 55.5,113.7 56.2,113.1 56.9,113.0 57.6,113.0 58.4,112.6 59.1,111.9 59.8,111.2 60.5,110.3 61.2,109.8 62.0,109.1 62.7,108.1 63.4,107.2 64.1,106.4 64.8,105.5 65.6,104.4 66.3,103.4 67.0,102.1 67.7,100.5 68.4,98.7 69.2,96.9 69.9,95.0 70.6,93.1 71.3,91.7 72.0,89.9 72.8,88.2 73.5,86.8 74.2,85.3 74.9,83.2 75.6,81.5 76.4,79.5 77.1,77.3 77.8,75.1 78.5,72.9 79.2,70.7 80.0,68.8 80.7,66.8 81.4,65.0 82.1,63.6 82.8,62.1 83.6,60.6 84.3,59.5 85.0,58.3 85.7,57.1 86.4,56.2 87.2,55.3 87.9,54.4 88.6,53.4 89.3,52.6 90.0,51.7 90.8,50.7 91.5,50.1 92.2,49.5 92.9,48.9 93.6,48.2 94.4,47.9 95.1,47.5 95.8,47.0 96.5,46.3 97.2,46.0 98.0,45.5 98.7,44.9 99.4,44.4 100.1,44.2 100.8,43.7 101.6,43.4 102.3,43.0 103.0,42.6 103.7,42.4 104.4,42.0 105.2,41.8 105.9,41.5 106.6,41.2 107.3,40.8 108.0,40.7 108.8,40.3 109.5,40.2 110.2,39.8 110.9,39.6 111.6,39.3 112.4,39.2 113.1,38.8 113.8,38.5 114.5,38.4 115.2,38.0 116.0,37.7 116.7,37.6 117.4,37.5 118.1,37.4 118.8,37.4 119.6,37.3 120.3,37.0 121.0,36.8 121.7,36.4 122.4,36.1 123.2,36.0 123.9,35.8 124.6,35.6 125.3,35.4 126.0,35.2 126.8,35.1 127.5,35.0 128.2,34.9 128.9,34.7 129.6,34.5 130.4,34.1 131.1,34.0 131.8,33.9 132.5,33.9 133.2,34.1 134.0,34.1 134.7,33.9 135.4,33.8 136.1,33.6 136.8,33.5 137.6,33.5 138.3,33.9 139.0,33.8 139.7,33.8 140.4,33.5 141.2,33.3 141.9,32.9 142.6,32.9 143.3,32.6 144.0,32.6 144.8,32.4 145.5,32.4 146.2,32.3 146.9,32.3 147.6,32.2 148.4,32.2 149.1,32.3 149.8,32.1 150.5,32.2 151.2,32.3 152.0,32.1 152.7,31.8 153.4,31.7 154.1,31.7 154.8,31.4 155.6,31.6 156.3,31.6 157.0,31.6 157.7,31.3 158.4,31.4 159.2,31.0 159.9,30.8 160.6,30.9 161.3,31.0 162.0,30.8 162.8,31.2 163.5,31.4 164.2,31.3 164.9,31.2 165.6,31.3 166.4,31.1 167.1,30.8 167.8,30.7 168.5,30.7 169.2,30.7 170.0,30.8 170.7,30.8 171.4,30.7 172.1,30.7 172.8,30.6 173.6,30.4 174.3,30.4 175.0,30.5 175.7,30.5 176.4,30.6 177.2,30.6 177.9,30.5 178.6,30.3 179.3,30.3 180.0,30.1 180.8,30.0 181.5,30.1 182.2,30.1 182.9,29.9 183.6,29.7 184.4,29.7 185.1,29.6 185.8,29.9 186.5,30.0 187.2,30.2 188.0,30.2 188.7,30.3 189.4,30.1 190.1,30.0 190.8,30.0 191.6,30.2 192.3,30.1 193.0,30.0 193.7,30.0 194.4,30.3 195.2,30.0 195.9,30.3 196.6,30.4 197.3,30.4 198.0,30.1 198.8,30.2 199.5,29.7 200.2,29.6 200.9,29.3 201.6,29.4 202.4,29.3 203.1,29.5 203.8,29.6 204.5,29.7 205.2,29.6 206.0,29.7 206.7,29.6 207.4,29.6 208.1,29.6 208.8,29.5 209.6,29.4 210.3,29.3 211.0,29.3 211.7,29.5 212.4,29.7 213.2,29.8 213.9,30.0 214.6,30.0 215.3,30.0 216.0,29.8 216.8,29.8 217.5,29.7 218.2,29.7 218.9,29.7 219.6,29.6 220.4,29.6 221.1,29.5 221.8,29.6 222.5,29.6 223.2,29.7 224.0,29.4 224.7,29.5 225.4,29.5 226.1,29.2 226.8,29.2 227.6,29.4 228.3,29.1 229.0,29.1 229.7,29.3 230.4,29.4 231.2,29.3 231.9,29.4 232.6,29.3 233.3,29.3 234.0,29.2 234.8,29.4 235.5,29.5 236.2,29.4 236.9,29.5 237.6,29.6 238.4,29.4 239.1,29.4 239.8,29.4 240.5,29.3 241.2,29.0 242.0,29.0 242.7,29.1 243.4,29.4 244.1,29.4 244.8,29.5 245.6,29.7 246.3,29.6 247.0,29.5 247.7,29.5 248.4,29.5 249.2,29.5 249.9,29.3 250.6,29.4 251.3,29.2 252.0,29.3 252.8,29.1 253.5,29.4 254.2,29.3 254.9,29.5 255.6,29.6 256.4,29.7 257.1,29.7 257.8,29.4 258.5,29.2 259.2,28.9 260.0,28.8 260.7,28.8 261.4,29.0 262.1,29.2 262.8,29.4 263.6,29.3 264.3,29.2 265.0,29.0 265.7,29.1 266.4,29.3 267.2,29.2 267.9,29.3 268.6,29.6 269.3,29.6 270.0,29.5 270.8,29.6 271.5,29.7 272.2,29.5 272.9,29.3 273.6,29.4 274.4,29.3 275.1,29.4 275.8,29.6 276.5,29.7 277.2,29.6 278.0,29.8 278.7,29.6 279.4,29.5 280.1,29.4 280.8,29.4 281.6,29.3 282.3,29.3 283.0,29.5 283.7,29.6 284.4,29.8 285.2,29.7 285.9,29.6 286.6,29.6 287.3,29.6 288.0,29.4 288.8,29.6 289.5,29.7 290.2,29.6 290.9,29.6 291.6,29.6 292.4,29.6 293.1,29.7 293.8,29.6 294.5,29.6 295.2,29.7 296.0,29.5 296.7,29.4 297.4,29.3 298.1,29.5 298.8,29.4 299.6,29.7 300.3,29.9 301.0,29.9 301.7,29.7 302.4,29.7 303.2,29.6 303.9,29.4 304.6,29.4 305.3,29.5 306.0,29.5 306.8,29.3 307.5,29.2 308.2,29.3 308.9,29.4 309.6,29.3 310.4,29.5 311.1,29.6 311.8,29.5 312.5,29.4 313.2,29.5 314.0,29.6 314.7,29.5 315.4,29.5 316.1,29.6 316.8,29.5 317.6,29.4 318.3,29.6 319.0,29.7 319.7,29.5 320.4,29.5 321.2,29.6 321.9,29.3 322.6,29.0 323.3,29.2 324.0,29.3 324.8,29.4 325.5,29.4 326.2,29.6 326.9,29.6 327.6,29.4 328.4,29.4 329.1,29.4 329.8,29.4 330.5,29.4 331.2,29.3 332.0,29.3 332.7,29.5 333.4,29.3 334.1,29.3 334.8,29.3 335.6,29.5 336.3,29.3 337.0,29.3 337.7,29.1 338.4,29.1 339.2,29.0 339.9,29.1 340.6,28.9 341.3,29.1 342.0,29.1 342.8,28.9 343.5,28.8 344.2,28.8 344.9,28.5 345.6,28.4 346.4,28.4 347.1,28.3 347.8,28.2 348.5,28.2 349.2,28.2 350.0,28.2 350.7,28.3 351.4,28.5 352.1,28.4 352.8,28.5 353.6,28.3 354.3,28.1 355.0,28.1 355.7,27.8 356.4,27.6 357.2,27.6 357.9,27.7 358.6,27.7 359.3,28.1 360.0,28.1 360.8,28.1 361.5,28.2 362.2,28.1 362.9,28.0 363.6,28.1 364.4,28.3 365.1,28.4 365.8,28.5 366.5,28.5 367.2,28.6 368.0,28.7 368.7,28.6 369.4,28.9 370.1,29.3 370.8,29.3 371.6,29.2 372.3,29.2 373.0,29.2 373.7,29.1 374.4,29.3 375.2,29.3 375.9,29.5 376.6,29.3 377.3,29.2 378.0,29.1 378.8,29.1 379.5,29.3 380.2,29.6 380.9,30.0 381.6,30.2 382.4,30.5 383.1,30.7 383.8,30.9 384.5,31.1 385.2,31.3 386.0,31.6 386.7,31.8 387.4,32.0 388.1,32.2 388.8,32.6 389.6,32.8 390.3,33.2 391.0,33.4 391.7,34.0 392.4,34.3 393.2,34.7 393.9,34.9 394.6,35.3 395.3,35.5 396.0,35.8 396.8,36.5 397.5,36.8 398.2,37.3 398.9,37.7 399.6,38.0 400.4,38.2 401.1,38.7 401.8,39.0 402.5,39.4 403.2,39.6 404.0,39.9 404.7,40.2 405.4,40.4 406.1,40.6 406.8,40.8 407.6,41.0 408.3,41.1 409.0,41.6 409.7,42.1 410.4,42.7 411.2,43.0 411.9,43.4 412.6,43.6 413.3,43.8 414.0,44.2 414.8,44.8 415.5,45.3 416.2,45.9 416.9,46.2 417.6,46.4 418.4,46.9 419.1,47.4 419.8,48.1 420.5,48.8 421.2,49.6 422.0,50.2 422.7,50.9 423.4,51.5 424.1,52.2 424.8,53.2 425.6,54.2 426.3,55.2 427.0,56.1 427.7,57.4 428.4,58.3 429.2,59.3 429.9,60.5 430.6,61.9 431.3,63.3 432.0,64.8 432.8,66.3 433.5,67.6 434.2,68.7 434.9,69.9 435.6,70.7 436.4,71.9 437.1,72.8 437.8,74.0 438.5,75.2 439.2,76.3 440.0,77.4 440.7,78.4 441.4,79.4 442.1,80.4 442.8,81.5 443.6,82.4 444.3,83.4 445.0,84.5 445.7,85.6 446.4,86.8 447.2,88.0 447.9,89.5 448.6,90.7 449.3,92.3 450.0,93.6 450.8,95.2 451.5,96.4 452.2,97.8 452.9,98.9 453.6,100.2 454.4,101.2 455.1,102.2 455.8,103.2 456.5,104.0 457.2,104.7 458.0,105.4 458.7,105.8 459.4,106.3 460.1,107.0 460.8,107.5 461.6,108.0 462.3,108.5 463.0,108.9 463.7,109.0 464.4,108.9 465.2,109.3 465.9,110.1 466.6,110.6 467.3,110.9 468.0,110.6 468.8,111.2 469.5,111.0 470.2,111.1 470.9,110.8 471.6,110.6 472.4,110.6 473.1,110.7 473.8,110.7 474.5,111.2 475.2,111.4 476.0,111.3 476.7,111.3 477.4,111.1 478.1,111.4 478.8,111.7 479.6,111.7 480.3,112.0 481.0,112.0 481.7,112.4 482.4,112.7 483.2,112.9 483.9,112.9 484.6,112.3 485.3,112.3 486.0,112.5 486.8,112.3 487.5,111.9 488.2,111.6 488.9,111.7 489.6,112.1 490.4,112.3 491.1,112.8 491.8,112.4 492.5,112.8 493.2,113.0 494.0,112.6 494.7,112.4 495.4,112.3 496.1,111.8 496.8,111.8 497.6,111.9 498.3,111.9 499.0,112.0 499.7,112.0 500.4,112.2 501.2,112.4 501.9,112.9 502.6,112.4 503.3,112.6 504.0,112.5 504.8,112.1 505.5,112.0 506.2,112.1 506.9,111.7 507.6,112.0 508.4,112.5 509.1,112.3 509.8,112.5 510.5,112.0 511.2,111.6 512.0,111.4 512.7,111.9 513.4,111.8 514.1,111.7 514.8,112.4 515.6,113.2 516.3,113.4 517.0,113.8 517.7,113.5 518.4,113.1 519.2,112.9 519.9,112.0 520.6,111.8 521.3,111.9 522.0,111.5 522.8,111.6 523.5,111.9" stroke="#3891cc" stroke-width="1.55" fill="none" stroke-linejoin="round"/>
<path d="M31.0,114.5 31.7,114.3 32.4,114.6 33.2,114.1 33.9,114.1 34.6,114.0 35.3,114.5 36.0,114.2 36.8,114.3 37.5,114.0 38.2,113.9 38.9,114.0 39.6,114.3 40.4,113.7 41.1,114.0 41.8,113.9 42.5,114.0 43.2,113.9 44.0,113.8 44.7,113.6 45.4,113.8 46.1,113.6 46.8,113.9 47.6,114.0 48.3,113.7 49.0,113.3 49.7,113.7 50.4,113.9 51.2,114.4 51.9,113.9 52.6,113.7 53.3,113.6 54.0,113.1 54.8,112.6 55.5,111.6 56.2,110.4 56.9,110.2 57.6,109.7 58.4,109.4 59.1,109.0 59.8,108.1 60.5,107.1 61.2,106.2 62.0,104.8 62.7,103.3 63.4,101.6 64.1,99.9 64.8,97.7 65.6,95.6 66.3,93.2 67.0,91.0 67.7,88.7 68.4,86.5 69.2,83.8 69.9,81.4 70.6,78.9 71.3,76.2 72.0,73.5 72.8,71.1 73.5,68.6 74.2,66.3 74.9,64.1 75.6,62.2 76.4,60.6 77.1,59.0 77.8,57.8 78.5,56.8 79.2,55.7 80.0,54.7 80.7,53.8 81.4,52.8 82.1,51.9 82.8,51.2 83.6,50.5 84.3,49.9 85.0,49.4 85.7,48.6 86.4,47.9 87.2,47.1 87.9,46.7 88.6,46.0 89.3,45.7 90.0,45.0 90.8,44.5 91.5,43.8 92.2,43.3 92.9,42.5 93.6,42.2 94.4,41.8 95.1,41.4 95.8,41.0 96.5,40.7 97.2,40.3 98.0,40.0 98.7,39.5 99.4,39.2 100.1,39.0 100.8,38.7 101.6,38.4 102.3,38.1 103.0,38.0 103.7,37.8 104.4,37.6 105.2,37.2 105.9,37.1 106.6,36.6 107.3,36.2 108.0,35.8 108.8,35.6 109.5,35.4 110.2,35.0 110.9,34.7 111.6,34.6 112.4,34.3 113.1,34.2 113.8,34.1 114.5,34.1 115.2,33.9 116.0,33.7 116.7,33.4 117.4,33.4 118.1,33.3 118.8,33.2 119.6,33.0 120.3,32.8 121.0,32.4 121.7,32.2 122.4,31.9 123.2,31.8 123.9,31.7 124.6,31.7 125.3,31.7 126.0,31.6 126.8,31.6 127.5,31.4 128.2,31.4 128.9,31.3 129.6,31.2 130.4,31.0 131.1,30.8 131.8,30.5 132.5,30.6 133.2,30.4 134.0,30.4 134.7,30.4 135.4,30.4 136.1,30.4 136.8,30.2 137.6,30.1 138.3,30.1 139.0,29.9 139.7,29.5 140.4,29.5 141.2,29.4 141.9,29.3 142.6,29.4 143.3,29.3 144.0,29.4 144.8,29.5 145.5,29.5 146.2,29.3 146.9,29.1 147.6,29.1 148.4,28.9 149.1,28.7 149.8,28.9 150.5,29.0 151.2,28.9 152.0,28.7 152.7,28.8 153.4,28.6 154.1,28.5 154.8,28.6 155.6,28.6 156.3,28.4 157.0,28.5 157.7,28.5 158.4,28.3 159.2,28.2 159.9,28.3 160.6,28.2 161.3,28.1 162.0,28.2 162.8,28.1 163.5,28.3 164.2,28.2 164.9,28.1 165.6,28.2 166.4,28.4 167.1,28.2 167.8,28.2 168.5,28.2 169.2,28.1 170.0,27.8 170.7,27.7 171.4,27.8 172.1,28.0 172.8,27.9 173.6,28.0 174.3,28.2 175.0,28.2 175.7,28.0 176.4,28.0 177.2,27.9 177.9,27.9 178.6,27.9 179.3,27.9 180.0,27.9 180.8,27.9 181.5,27.8 182.2,27.6 182.9,27.7 183.6,27.7 184.4,27.5 185.1,27.5 185.8,27.6 186.5,27.3 187.2,27.2 188.0,27.1 188.7,27.1 189.4,27.1 190.1,27.3 190.8,27.3 191.6,27.4 192.3,27.4 193.0,27.4 193.7,27.1 194.4,27.2 195.2,27.2 195.9,27.1 196.6,27.2 197.3,27.3 198.0,27.1 198.8,27.1 199.5,27.2 200.2,27.2 200.9,27.1 201.6,27.1 202.4,27.2 203.1,27.0 203.8,27.1 204.5,27.2 205.2,27.3 206.0,27.2 206.7,27.1 207.4,26.9 208.1,27.1 208.8,27.0 209.6,27.1 210.3,27.2 211.0,27.2 211.7,27.0 212.4,27.1 213.2,27.2 213.9,27.2 214.6,27.2 215.3,27.1 216.0,27.0 216.8,26.6 217.5,26.7 218.2,26.5 218.9,26.7 219.6,26.9 220.4,27.0 221.1,26.8 221.8,27.0 222.5,26.9 223.2,26.9 224.0,26.9 224.7,26.9 225.4,26.9 226.1,26.9 226.8,26.7 227.6,26.6 228.3,26.5 229.0,26.5 229.7,26.5 230.4,26.6 231.2,27.0 231.9,27.3 232.6,27.4 233.3,27.5 234.0,27.4 234.8,27.2 235.5,27.3 236.2,27.1 236.9,26.9 237.6,26.9 238.4,27.1 239.1,26.8 239.8,27.0 240.5,27.0 241.2,26.9 242.0,26.8 242.7,26.9 243.4,26.7 244.1,26.7 244.8,26.7 245.6,26.8 246.3,26.8 247.0,26.9 247.7,27.0 248.4,27.1 249.2,27.0 249.9,26.9 250.6,26.8 251.3,26.7 252.0,26.8 252.8,26.7 253.5,26.9 254.2,26.8 254.9,26.9 255.6,26.9 256.4,26.8 257.1,26.7 257.8,26.8 258.5,26.8 259.2,26.8 260.0,26.8 260.7,26.9 261.4,26.9 262.1,26.9 262.8,26.7 263.6,26.8 264.3,26.6 265.0,26.7 265.7,26.6 266.4,26.8 267.2,26.9 267.9,27.1 268.6,27.0 269.3,27.0 270.0,26.8 270.8,26.7 271.5,26.6 272.2,26.7 272.9,26.9 273.6,26.9 274.4,26.8 275.1,26.9 275.8,26.9 276.5,26.9 277.2,27.0 278.0,27.1 278.7,26.9 279.4,27.2 280.1,27.1 280.8,27.1 281.6,27.2 282.3,27.2 283.0,27.1 283.7,27.1 284.4,27.0 285.2,27.1 285.9,27.1 286.6,27.1 287.3,27.0 288.0,27.0 288.8,27.0 289.5,27.1 290.2,27.1 290.9,27.2 291.6,27.1 292.4,27.0 293.1,27.1 293.8,27.1 294.5,27.2 295.2,27.2 296.0,27.3 296.7,27.1 297.4,27.1 298.1,26.9 298.8,27.0 299.6,26.9 300.3,27.0 301.0,26.9 301.7,26.9 302.4,26.7 303.2,26.6 303.9,26.6 304.6,26.8 305.3,26.9 306.0,27.0 306.8,27.1 307.5,27.2 308.2,27.1 308.9,26.9 309.6,27.0 310.4,27.1 311.1,27.1 311.8,27.1 312.5,27.2 313.2,27.1 314.0,27.1 314.7,27.0 315.4,27.0 316.1,26.9 316.8,26.9 317.6,26.9 318.3,27.0 319.0,27.0 319.7,26.8 320.4,26.9 321.2,26.8 321.9,26.9 322.6,27.0 323.3,27.2 324.0,27.1 324.8,27.2 325.5,27.0 326.2,27.0 326.9,27.1 327.6,27.1 328.4,27.1 329.1,27.3 329.8,27.3 330.5,27.3 331.2,27.0 332.0,26.9 332.7,26.9 333.4,27.1 334.1,27.2 334.8,27.2 335.6,27.4 336.3,27.2 337.0,27.1 337.7,27.1 338.4,27.1 339.2,27.1 339.9,27.0 340.6,26.9 341.3,26.9 342.0,27.0 342.8,27.0 343.5,27.0 344.2,27.1 344.9,27.1 345.6,27.2 346.4,27.3 347.1,27.2 347.8,27.2 348.5,27.2 349.2,27.1 350.0,27.0 350.7,27.0 351.4,27.2 352.1,27.1 352.8,27.1 353.6,27.2 354.3,27.4 355.0,27.3 355.7,27.5 356.4,27.6 357.2,27.5 357.9,27.4 358.6,27.3 359.3,27.2 360.0,27.2 360.8,27.2 361.5,27.3 362.2,27.4 362.9,27.5 363.6,27.4 364.4,27.3 365.1,27.3 365.8,27.1 366.5,27.2 367.2,27.2 368.0,27.2 368.7,27.3 369.4,27.6 370.1,27.7 370.8,27.9 371.6,28.1 372.3,28.3 373.0,28.4 373.7,28.6 374.4,28.7 375.2,28.8 375.9,29.1 376.6,29.3 377.3,29.6 378.0,30.0 378.8,30.6 379.5,31.1 380.2,31.6 380.9,32.1 381.6,32.4 382.4,32.8 383.1,33.1 383.8,33.5 384.5,33.7 385.2,34.0 386.0,34.1 386.7,34.2 387.4,34.3 388.1,34.5 388.8,34.9 389.6,35.1 390.3,35.5 391.0,35.8 391.7,36.0 392.4,36.4 393.2,36.8 393.9,37.0 394.6,37.3 395.3,37.7 396.0,38.0 396.8,38.1 397.5,38.7 398.2,39.2 398.9,39.5 399.6,39.8 400.4,40.5 401.1,41.1 401.8,41.8 402.5,42.7 403.2,43.6 404.0,44.3 404.7,44.8 405.4,45.5 406.1,46.1 406.8,46.5 407.6,46.9 408.3,47.6 409.0,48.0 409.7,48.5 410.4,49.4 411.2,50.5 411.9,51.3 412.6,52.0 413.3,52.8 414.0,53.6 414.8,54.3 415.5,55.2 416.2,56.3 416.9,57.3 417.6,58.4 418.4,59.5 419.1,60.6 419.8,61.7 420.5,62.9 421.2,64.1 422.0,65.4 422.7,66.6 423.4,67.8 424.1,69.0 424.8,70.2 425.6,71.1 426.3,72.4 427.0,73.5 427.7,74.6 428.4,75.6 429.2,76.9 429.9,77.9 430.6,79.1 431.3,80.3 432.0,81.5 432.8,82.8 433.5,84.1 434.2,85.7 434.9,87.2 435.6,88.8 436.4,90.6 437.1,92.5 437.8,94.0 438.5,95.7 439.2,97.3 440.0,98.8 440.7,99.7 441.4,100.8 442.1,101.6 442.8,102.3 443.6,102.8 444.3,103.4 445.0,103.9 445.7,104.2 446.4,104.5 447.2,104.9 447.9,105.2 448.6,105.5 449.3,105.9 450.0,106.3 450.8,106.8 451.5,107.1 452.2,107.6 452.9,108.0 453.6,108.2 454.4,108.4 455.1,108.6 455.8,109.0 456.5,109.2 457.2,109.3 458.0,109.6 458.7,109.7 459.4,109.7 460.1,109.8 460.8,110.1 461.6,110.0 462.3,110.3 463.0,110.5 463.7,110.3 464.4,110.5 465.2,110.7 465.9,110.6 466.6,111.0 467.3,111.1 468.0,110.9 468.8,111.1 469.5,111.0 470.2,110.9 470.9,110.8 471.6,111.0 472.4,111.4 473.1,111.8 473.8,111.9 474.5,112.0 475.2,111.8 476.0,112.1 476.7,111.5 477.4,112.0 478.1,111.9 478.8,111.9 479.6,111.6 480.3,111.1 481.0,111.6 481.7,111.8 482.4,111.6 483.2,112.0 483.9,112.6 484.6,113.0 485.3,113.4 486.0,113.1 486.8,113.0 487.5,112.7 488.2,112.2 488.9,112.3 489.6,112.4 490.4,112.6 491.1,112.3 491.8,112.6 492.5,113.0 493.2,113.2 494.0,112.5 494.7,112.5 495.4,112.9 496.1,112.8 496.8,112.8 497.6,112.4 498.3,112.4 499.0,113.2 499.7,113.3 500.4,113.1 501.2,113.4 501.9,113.1 502.6,114.2 503.3,114.5 504.0,113.9 504.8,113.9 505.5,114.0 506.2,114.6 506.9,114.6 507.6,114.3 508.4,113.7 509.1,113.3 509.8,113.8 510.5,114.0 511.2,113.4 512.0,113.1 512.7,112.7 513.4,112.6 514.1,112.4 514.8,112.5 515.6,112.7 516.3,113.2 517.0,113.5 517.7,113.9 518.4,114.0 519.2,114.8 519.9,114.7 520.6,114.5 521.3,114.1 522.0,113.9 522.8,113.6 523.5,113.4" stroke="#e1794c" stroke-width="1.55" fill="none" stroke-linejoin="round"/>
<path d="M31.0,114.4 31.7,114.4 32.4,114.2 33.2,113.9 33.9,113.5 34.6,113.7 35.3,114.0 36.0,113.8 36.8,113.9 37.5,114.1 38.2,113.6 38.9,114.4 39.6,114.4 40.4,114.0 41.1,113.9 41.8,113.4 42.5,113.2 43.2,113.3 44.0,112.3 44.7,111.8 45.4,111.6 46.1,111.4 46.8,111.6 47.6,111.3 48.3,111.4 49.0,111.8 49.7,111.9 50.4,111.4 51.2,111.4 51.9,111.3 52.6,111.4 53.3,111.3 54.0,111.0 54.8,110.4 55.5,110.0 56.2,109.5 56.9,108.6 57.6,107.8 58.4,106.9 59.1,105.2 59.8,103.5 60.5,101.4 61.2,99.1 62.0,96.2 62.7,93.7 63.4,91.3 64.1,88.8 64.8,86.1 65.6,83.8 66.3,81.6 67.0,79.1 67.7,76.6 68.4,74.3 69.2,72.0 69.9,69.5 70.6,67.2 71.3,65.0 72.0,62.9 72.8,60.9 73.5,59.0 74.2,57.3 74.9,55.6 75.6,54.3 76.4,52.9 77.1,51.8 77.8,50.8 78.5,50.1 79.2,49.5 80.0,48.9 80.7,48.3 81.4,47.8 82.1,47.1 82.8,46.4 83.6,45.5 84.3,45.0 85.0,44.1 85.7,43.5 86.4,42.6 87.2,42.1 87.9,41.3 88.6,40.6 89.3,39.9 90.0,39.4 90.8,38.8 91.5,38.2 92.2,37.9 92.9,37.5 93.6,37.1 94.4,36.8 95.1,36.6 95.8,36.2 96.5,36.1 97.2,35.8 98.0,35.6 98.7,35.4 99.4,35.4 100.1,35.0 100.8,34.9 101.6,34.6 102.3,34.5 103.0,34.2 103.7,34.1 104.4,33.8 105.2,33.6 105.9,33.5 106.6,33.6 107.3,33.5 108.0,33.4 108.8,33.3 109.5,33.2 110.2,32.8 110.9,32.7 111.6,32.5 112.4,32.5 113.1,32.3 113.8,32.0 114.5,31.7 115.2,31.5 116.0,31.0 116.7,30.6 117.4,30.6 118.1,30.3 118.8,30.2 119.6,30.1 120.3,30.1 121.0,30.0 121.7,30.0 122.4,29.8 123.2,29.9 123.9,29.7 124.6,29.6 125.3,29.5 126.0,29.6 126.8,29.5 127.5,29.6 128.2,29.4 128.9,29.3 129.6,28.9 130.4,29.0 131.1,28.8 131.8,28.9 132.5,29.0 133.2,29.1 134.0,29.0 134.7,29.1 135.4,29.0 136.1,28.8 136.8,28.8 137.6,28.8 138.3,28.8 139.0,28.9 139.7,28.8 140.4,28.8 141.2,28.9 141.9,28.7 142.6,28.7 143.3,28.7 144.0,28.6 144.8,28.7 145.5,28.7 146.2,28.6 146.9,28.6 147.6,28.6 148.4,28.6 149.1,28.4 149.8,28.4 150.5,28.4 151.2,28.2 152.0,28.2 152.7,28.1 153.4,28.1 154.1,28.0 154.8,28.1 155.6,28.0 156.3,28.2 157.0,28.4 157.7,28.5 158.4,28.4 159.2,28.4 159.9,28.1 160.6,28.0 161.3,27.9 162.0,28.0 162.8,28.0 163.5,28.1 164.2,28.3 164.9,28.4 165.6,28.5 166.4,28.6 167.1,28.7 167.8,28.5 168.5,28.6 169.2,28.5 170.0,28.4 170.7,28.3 171.4,28.3 172.1,28.2 172.8,28.2 173.6,28.2 174.3,28.3 175.0,28.3 175.7,28.3 176.4,28.3 177.2,28.1 177.9,28.0 178.6,27.9 179.3,28.1 180.0,28.1 180.8,28.4 181.5,28.5 182.2,28.7 182.9,28.5 183.6,28.6 184.4,28.5 185.1,28.3 185.8,28.0 186.5,27.9 187.2,28.0 188.0,28.0 188.7,28.1 189.4,28.2 190.1,28.2 190.8,28.1 191.6,28.0 192.3,28.1 193.0,28.2 193.7,28.1 194.4,28.1 195.2,28.2 195.9,28.1 196.6,28.0 197.3,28.1 198.0,28.2 198.8,28.1 199.5,28.2 200.2,28.3 200.9,28.3 201.6,28.3 202.4,28.4 203.1,28.4 203.8,28.3 204.5,28.1 205.2,28.1 206.0,27.9 206.7,27.9 207.4,28.1 208.1,28.3 208.8,28.3 209.6,28.5 210.3,28.4 211.0,28.3 211.7,28.2 212.4,28.1 213.2,28.1 213.9,28.2 214.6,28.1 215.3,28.2 216.0,28.3 216.8,28.1 217.5,28.0 218.2,28.1 218.9,28.0 219.6,27.9 220.4,27.9 221.1,28.0 221.8,28.0 222.5,28.1 223.2,28.1 224.0,28.3 224.7,28.3 225.4,28.4 226.1,28.2 226.8,28.3 227.6,28.2 228.3,28.0 229.0,27.9 229.7,27.9 230.4,27.9 231.2,27.9 231.9,27.9 232.6,28.0 233.3,28.1 234.0,27.9 234.8,27.9 235.5,28.0 236.2,27.8 236.9,27.9 237.6,28.0 238.4,27.9 239.1,28.1 239.8,28.3 240.5,28.1 241.2,28.2 242.0,28.3 242.7,28.2 243.4,27.9 244.1,28.0 244.8,27.8 245.6,27.8 246.3,27.7 247.0,28.0 247.7,28.0 248.4,28.3 249.2,28.0 249.9,28.2 250.6,28.1 251.3,27.7 252.0,27.5 252.8,27.7 253.5,27.8 254.2,27.7 254.9,28.0 255.6,28.0 256.4,28.1 257.1,27.9 257.8,28.1 258.5,28.1 259.2,28.0 260.0,28.1 260.7,28.0 261.4,27.9 262.1,28.0 262.8,28.1 263.6,28.0 264.3,28.2 265.0,28.2 265.7,28.1 266.4,28.0 267.2,28.0 267.9,28.0 268.6,28.0 269.3,28.0 270.0,28.2 270.8,28.1 271.5,27.9 272.2,27.9 272.9,28.0 273.6,28.0 274.4,27.9 275.1,27.9 275.8,28.0 276.5,27.9 277.2,27.8 278.0,28.0 278.7,28.1 279.4,28.2 280.1,28.2 280.8,28.4 281.6,28.4 282.3,28.6 283.0,28.4 283.7,28.4 284.4,28.4 285.2,28.2 285.9,28.0 286.6,28.0 287.3,28.0 288.0,27.8 288.8,27.9 289.5,27.9 290.2,27.9 290.9,27.8 291.6,27.9 292.4,28.0 293.1,28.1 293.8,28.1 294.5,28.1 295.2,28.2 296.0,28.1 296.7,28.2 297.4,28.2 298.1,28.2 298.8,28.3 299.6,28.2 300.3,28.3 301.0,28.3 301.7,28.3 302.4,28.0 303.2,28.1 303.9,27.8 304.6,27.7 305.3,27.6 306.0,27.8 306.8,27.8 307.5,27.8 308.2,27.9 308.9,28.1 309.6,28.0 310.4,28.0 311.1,28.0 311.8,27.8 312.5,27.8 313.2,27.8 314.0,27.8 314.7,27.9 315.4,28.0 316.1,27.7 316.8,27.8 317.6,27.8 318.3,27.6 319.0,27.6 319.7,27.9 320.4,27.7 321.2,27.7 321.9,28.0 322.6,28.2 323.3,28.1 324.0,28.3 324.8,28.1 325.5,28.0 326.2,27.8 326.9,27.7 327.6,27.6 328.4,27.8 329.1,27.8 329.8,27.8 330.5,27.8 331.2,28.0 332.0,28.0 332.7,27.9 333.4,28.0 334.1,28.1 334.8,28.0 335.6,27.7 336.3,27.7 337.0,27.6 337.7,27.5 338.4,27.4 339.2,27.4 339.9,27.5 340.6,27.6 341.3,27.6 342.0,27.8 342.8,27.8 343.5,27.7 344.2,27.5 344.9,27.5 345.6,27.3 346.4,27.2 347.1,27.1 347.8,27.4 348.5,27.3 349.2,27.3 350.0,27.5 350.7,27.4 351.4,27.2 352.1,27.0 352.8,26.9 353.6,26.7 354.3,26.9 355.0,27.0 355.7,27.2 356.4,27.5 357.2,27.5 357.9,27.4 358.6,27.4 359.3,27.2 360.0,27.0 360.8,27.1 361.5,27.0 362.2,27.0 362.9,27.2 363.6,27.1 364.4,26.9 365.1,27.0 365.8,26.9 366.5,26.8 367.2,26.9 368.0,27.1 368.7,27.3 369.4,27.4 370.1,27.4 370.8,27.4 371.6,27.2 372.3,26.9 373.0,26.8 373.7,26.9 374.4,27.0 375.2,27.2 375.9,27.3 376.6,27.3 377.3,27.2 378.0,27.3 378.8,27.3 379.5,27.6 380.2,27.7 380.9,28.0 381.6,28.1 382.4,28.5 383.1,28.6 383.8,28.8 384.5,28.8 385.2,28.9 386.0,28.9 386.7,29.1 387.4,29.3 388.1,29.6 388.8,29.8 389.6,30.0 390.3,30.3 391.0,30.3 391.7,30.6 392.4,30.8 393.2,31.0 393.9,31.1 394.6,31.5 395.3,31.7 396.0,31.8 396.8,32.0 397.5,32.4 398.2,32.5 398.9,32.9 399.6,33.4 400.4,33.8 401.1,34.1 401.8,34.4 402.5,34.5 403.2,34.7 404.0,35.0 404.7,35.2 405.4,35.6 406.1,36.0 406.8,36.4 407.6,36.5 408.3,36.9 409.0,37.2 409.7,37.5 410.4,37.8 411.2,38.4 411.9,39.1 412.6,39.6 413.3,40.1 414.0,40.4 414.8,40.9 415.5,41.1 416.2,41.5 416.9,41.9 417.6,42.4 418.4,42.8 419.1,43.1 419.8,43.3 420.5,43.8 421.2,44.2 422.0,44.5 422.7,44.9 423.4,45.8 424.1,46.1 424.8,46.4 425.6,46.9 426.3,47.5 427.0,47.8 427.7,48.4 428.4,49.3 429.2,50.0 429.9,50.8 430.6,51.7 431.3,52.5 432.0,53.4 432.8,54.3 433.5,55.3 434.2,56.2 434.9,57.3 435.6,58.1 436.4,59.1 437.1,59.8 437.8,61.0 438.5,62.1 439.2,63.4 440.0,64.4 440.7,65.7 441.4,66.8 442.1,67.9 442.8,69.1 443.6,70.4 444.3,71.6 445.0,72.8 445.7,74.1 446.4,75.3 447.2,76.6 447.9,77.9 448.6,79.4 449.3,80.8 450.0,82.2 450.8,83.7 451.5,85.2 452.2,86.6 452.9,88.0 453.6,89.3 454.4,90.8 455.1,92.3 455.8,93.7 456.5,95.1 457.2,96.6 458.0,97.8 458.7,98.8 459.4,99.9 460.1,100.7 460.8,101.5 461.6,102.4 462.3,103.1 463.0,103.9 463.7,104.9 464.4,105.6 465.2,106.2 465.9,107.1 466.6,107.6 467.3,108.1 468.0,108.7 468.8,109.5 469.5,109.8 470.2,110.4 470.9,110.6 471.6,110.6 472.4,110.5 473.1,110.6 473.8,110.6 474.5,110.2 475.2,110.4 476.0,110.7 476.7,111.1 477.4,111.0 478.1,111.2 478.8,111.4 479.6,112.2 480.3,112.1 481.0,112.2 481.7,112.6 482.4,112.7 483.2,112.9 483.9,113.0 484.6,112.6 485.3,113.2 486.0,113.0 486.8,113.2 487.5,113.6 488.2,113.1 488.9,113.4 489.6,113.9 490.4,113.6 491.1,113.6 491.8,113.3 492.5,112.7 493.2,113.0 494.0,113.2 494.7,112.8 495.4,113.1 496.1,113.4 496.8,113.6 497.6,113.4 498.3,113.5 499.0,113.4 499.7,113.8 500.4,113.2 501.2,112.5 501.9,112.2 502.6,113.0 503.3,113.0 504.0,113.1 504.8,112.3 505.5,113.2 506.2,113.7 506.9,113.8 507.6,113.4 508.4,113.8 509.1,114.0 509.8,114.2 510.5,113.5 511.2,113.0 512.0,112.9 512.7,112.7 513.4,113.0 514.1,112.4 514.8,112.9 515.6,113.3 516.3,113.9 517.0,114.0 517.7,113.8 518.4,113.2 519.2,114.0 519.9,113.8 520.6,113.4 521.3,113.0 522.0,112.9 522.8,113.2 523.5,113.1" stroke="#f1c251" stroke-width="1.55" fill="none" stroke-linejoin="round"/>
<path d="M31.0,112.8 31.7,113.0 32.4,112.9 33.2,112.6 33.9,112.2 34.6,112.4 35.3,112.0 36.0,112.0 36.8,112.5 37.5,112.1 38.2,112.6 38.9,112.1 39.6,112.3 40.4,112.7 41.1,112.6 41.8,112.2 42.5,112.1 43.2,111.3 44.0,111.1 44.7,110.1 45.4,109.8 46.1,109.7 46.8,109.4 47.6,108.9 48.3,108.6 49.0,108.4 49.7,108.0 50.4,107.2 51.2,106.6 51.9,105.6 52.6,104.7 53.3,103.8 54.0,103.0 54.8,101.8 55.5,100.5 56.2,98.9 56.9,97.1 57.6,95.0 58.4,92.6 59.1,89.9 59.8,87.1 60.5,84.1 61.2,81.3 62.0,78.7 62.7,76.0 63.4,73.4 64.1,70.9 64.8,68.4 65.6,66.0 66.3,63.8 67.0,61.8 67.7,59.6 68.4,57.8 69.2,56.1 69.9,54.2 70.6,52.5 71.3,51.1 72.0,49.5 72.8,48.0 73.5,46.8 74.2,45.8 74.9,44.6 75.6,43.7 76.4,43.0 77.1,42.2 77.8,41.5 78.5,41.0 79.2,40.4 80.0,39.9 80.7,39.3 81.4,38.9 82.1,38.4 82.8,38.0 83.6,37.4 84.3,37.1 85.0,36.7 85.7,36.1 86.4,35.7 87.2,35.3 87.9,34.8 88.6,34.5 89.3,34.2 90.0,33.8 90.8,33.5 91.5,33.4 92.2,33.2 92.9,33.0 93.6,32.9 94.4,32.8 95.1,32.5 95.8,32.3 96.5,32.2 97.2,32.0 98.0,31.9 98.7,32.0 99.4,31.9 100.1,31.5 100.8,31.4 101.6,31.2 102.3,30.9 103.0,30.7 103.7,30.7 104.4,30.7 105.2,30.6 105.9,30.4 106.6,30.3 107.3,30.3 108.0,30.1 108.8,30.0 109.5,29.9 110.2,29.7 110.9,29.3 111.6,28.9 112.4,28.8 113.1,28.7 113.8,28.7 114.5,28.9 115.2,28.8 116.0,28.6 116.7,28.8 117.4,28.4 118.1,28.2 118.8,28.2 119.6,28.0 120.3,27.6 121.0,27.6 121.7,27.5 122.4,27.4 123.2,27.4 123.9,27.3 124.6,27.2 125.3,27.1 126.0,27.0 126.8,27.0 127.5,26.9 128.2,26.7 128.9,26.8 129.6,26.6 130.4,26.6 131.1,26.7 131.8,26.7 132.5,26.7 133.2,26.9 134.0,26.7 134.7,26.7 135.4,26.8 136.1,26.6 136.8,26.5 137.6,26.7 138.3,26.6 139.0,26.3 139.7,26.4 140.4,26.3 141.2,26.1 141.9,26.1 142.6,26.0 143.3,26.0 144.0,26.1 144.8,26.0 145.5,26.1 146.2,26.2 146.9,26.2 147.6,26.0 148.4,26.2 149.1,26.2 149.8,26.2 150.5,26.1 151.2,26.1 152.0,26.2 152.7,26.1 153.4,26.2 154.1,26.3 154.8,26.1 155.6,26.1 156.3,26.2 157.0,26.4 157.7,26.5 158.4,26.6 159.2,26.5 159.9,26.4 160.6,26.1 161.3,26.0 162.0,26.0 162.8,26.0 163.5,26.0 164.2,26.2 164.9,26.2 165.6,26.2 166.4,26.2 167.1,26.2 167.8,26.4 168.5,26.1 169.2,26.0 170.0,26.0 170.7,26.0 171.4,25.9 172.1,26.2 172.8,26.5 173.6,26.4 174.3,26.4 175.0,26.3 175.7,26.2 176.4,26.1 177.2,26.2 177.9,26.1 178.6,26.1 179.3,26.0 180.0,25.9 180.8,25.8 181.5,25.8 182.2,25.8 182.9,25.9 183.6,26.0 184.4,26.0 185.1,25.9 185.8,25.7 186.5,25.7 187.2,25.6 188.0,25.8 188.7,26.1 189.4,26.2 190.1,26.3 190.8,26.2 191.6,26.1 192.3,26.0 193.0,25.8 193.7,25.7 194.4,25.7 195.2,25.8 195.9,25.8 196.6,25.8 197.3,25.9 198.0,25.9 198.8,25.9 199.5,25.7 200.2,25.7 200.9,25.4 201.6,25.5 202.4,25.4 203.1,25.5 203.8,25.6 204.5,25.6 205.2,25.5 206.0,25.6 206.7,25.6 207.4,25.7 208.1,25.7 208.8,25.6 209.6,25.5 210.3,25.5 211.0,25.4 211.7,25.3 212.4,25.5 213.2,25.5 213.9,25.4 214.6,25.5 215.3,25.7 216.0,25.7 216.8,25.7 217.5,25.5 218.2,25.4 218.9,25.4 219.6,25.3 220.4,25.4 221.1,25.5 221.8,25.3 222.5,25.3 223.2,25.3 224.0,25.3 224.7,25.6 225.4,25.8 226.1,25.8 226.8,25.7 227.6,25.7 228.3,25.6 229.0,25.6 229.7,25.6 230.4,25.6 231.2,25.5 231.9,25.6 232.6,25.7 233.3,25.4 234.0,25.5 234.8,25.7 235.5,25.6 236.2,25.4 236.9,25.7 237.6,25.9 238.4,25.7 239.1,25.7 239.8,25.7 240.5,25.5 241.2,25.2 242.0,25.1 242.7,25.2 243.4,25.3 244.1,25.3 244.8,25.4 245.6,25.4 246.3,25.4 247.0,25.4 247.7,25.3 248.4,25.3 249.2,25.4 249.9,25.4 250.6,25.4 251.3,25.5 252.0,25.6 252.8,25.5 253.5,25.5 254.2,25.4 254.9,25.3 255.6,25.3 256.4,25.4 257.1,25.4 257.8,25.5 258.5,25.4 259.2,25.4 260.0,25.2 260.7,25.2 261.4,25.2 262.1,25.2 262.8,25.2 263.6,25.3 264.3,25.4 265.0,25.3 265.7,25.4 266.4,25.5 267.2,25.6 267.9,25.6 268.6,25.6 269.3,25.5 270.0,25.2 270.8,25.2 271.5,25.0 272.2,25.1 272.9,24.9 273.6,25.0 274.4,25.0 275.1,25.1 275.8,25.0 276.5,25.1 277.2,25.4 278.0,25.5 278.7,25.5 279.4,25.4 280.1,25.3 280.8,25.1 281.6,25.1 282.3,25.1 283.0,25.4 283.7,25.5 284.4,25.5 285.2,25.4 285.9,25.5 286.6,25.4 287.3,25.4 288.0,25.4 288.8,25.6 289.5,25.5 290.2,25.5 290.9,25.5 291.6,25.5 292.4,25.3 293.1,25.2 293.8,25.3 294.5,25.2 295.2,25.1 296.0,25.1 296.7,25.1 297.4,25.2 298.1,25.3 298.8,25.3 299.6,25.4 300.3,25.2 301.0,25.2 301.7,25.1 302.4,25.3 303.2,25.5 303.9,25.8 304.6,25.7 305.3,25.6 306.0,25.4 306.8,25.1 307.5,25.1 308.2,25.2 308.9,25.3 309.6,25.3 310.4,25.5 311.1,25.3 311.8,25.3 312.5,25.2 313.2,25.2 314.0,25.1 314.7,25.2 315.4,25.1 316.1,25.4 316.8,25.4 317.6,25.4 318.3,25.3 319.0,25.2 319.7,25.1 320.4,25.0 321.2,25.0 321.9,25.2 322.6,25.3 323.3,25.3 324.0,25.3 324.8,25.4 325.5,25.3 326.2,25.2 326.9,25.1 327.6,25.1 328.4,24.9 329.1,24.9 329.8,25.0 330.5,25.0 331.2,25.1 332.0,25.2 332.7,25.1 333.4,25.3 334.1,25.4 334.8,25.5 335.6,25.5 336.3,25.6 337.0,25.4 337.7,25.4 338.4,25.3 339.2,25.3 339.9,25.3 340.6,25.2 341.3,25.3 342.0,25.4 342.8,25.4 343.5,25.3 344.2,25.4 344.9,25.2 345.6,25.1 346.4,25.0 347.1,25.1 347.8,25.2 348.5,25.3 349.2,25.2 350.0,25.4 350.7,25.4 351.4,25.3 352.1,25.3 352.8,25.4 353.6,25.5 354.3,25.7 355.0,25.8 355.7,25.8 356.4,26.0 357.2,26.2 357.9,26.2 358.6,26.2 359.3,26.4 360.0,26.4 360.8,26.3 361.5,26.4 362.2,26.5 362.9,26.6 363.6,26.5 364.4,26.6 365.1,26.6 365.8,26.7 366.5,26.8 367.2,26.9 368.0,27.0 368.7,27.2 369.4,27.3 370.1,27.5 370.8,27.6 371.6,27.9 372.3,28.0 373.0,28.2 373.7,28.3 374.4,28.6 375.2,28.4 375.9,28.5 376.6,28.6 377.3,28.6 378.0,28.8 378.8,29.1 379.5,29.4 380.2,29.5 380.9,29.7 381.6,29.6 382.4,29.7 383.1,29.7 383.8,29.9 384.5,30.1 385.2,30.5 386.0,30.8 386.7,31.0 387.4,31.3 388.1,31.5 388.8,31.7 389.6,31.9 390.3,32.3 391.0,32.7 391.7,33.0 392.4,33.5 393.2,33.8 393.9,34.1 394.6,34.5 395.3,34.9 396.0,35.1 396.8,35.5 397.5,35.8 398.2,36.0 398.9,36.0 399.6,36.1 400.4,36.3 401.1,36.6 401.8,37.0 402.5,37.5 403.2,37.9 404.0,38.4 404.7,38.7 405.4,38.9 406.1,39.3 406.8,39.5 407.6,39.8 408.3,40.2 409.0,40.3 409.7,40.6 410.4,40.9 411.2,41.3 411.9,41.9 412.6,42.4 413.3,43.0 414.0,43.3 414.8,43.7 415.5,44.0 416.2,44.5 416.9,44.7 417.6,45.3 418.4,45.5 419.1,45.8 419.8,46.1 420.5,46.6 421.2,46.9 422.0,47.4 422.7,47.8 423.4,48.5 424.1,49.1 424.8,49.9 425.6,50.6 426.3,51.4 427.0,52.3 427.7,53.3 428.4,54.4 429.2,55.5 429.9,56.6 430.6,57.6 431.3,58.5 432.0,59.3 432.8,60.3 433.5,61.4 434.2,62.4 434.9,63.7 435.6,65.0 436.4,66.3 437.1,67.5 437.8,68.9 438.5,70.0 439.2,71.4 440.0,72.4 440.7,73.4 441.4,74.3 442.1,75.2 442.8,76.2 443.6,77.2 444.3,78.1 445.0,79.1 445.7,79.9 446.4,80.7 447.2,81.3 447.9,82.1 448.6,82.9 449.3,83.6 450.0,84.2 450.8,85.2 451.5,86.1 452.2,87.0 452.9,88.1 453.6,89.3 454.4,90.3 455.1,91.5 455.8,92.6 456.5,93.7 457.2,94.8 458.0,95.9 458.7,96.9 459.4,98.2 460.1,99.5 460.8,100.6 461.6,101.6 462.3,102.4 463.0,102.9 463.7,103.3 464.4,103.7 465.2,104.0 465.9,104.3 466.6,104.8 467.3,105.2 468.0,105.4 468.8,105.7 469.5,106.2 470.2,106.3 470.9,106.6 471.6,106.7 472.4,106.8 473.1,106.8 473.8,106.9 474.5,107.2 475.2,107.8 476.0,108.2 476.7,108.8 477.4,109.3 478.1,109.8 478.8,110.1 479.6,110.6 480.3,110.8 481.0,111.1 481.7,111.3 482.4,111.8 483.2,111.4 483.9,111.6 484.6,111.7 485.3,111.7 486.0,111.8 486.8,112.3 487.5,112.4 488.2,112.6 488.9,112.7 489.6,112.2 490.4,111.7 491.1,111.7 491.8,111.7 492.5,111.7 493.2,111.6 494.0,111.4 494.7,111.9 495.4,112.4 496.1,112.3 496.8,112.4 497.6,112.4 498.3,112.6 499.0,112.9 499.7,113.0 500.4,112.9 501.2,113.3 501.9,112.8 502.6,112.8 503.3,112.5 504.0,112.7 504.8,112.8 505.5,112.7 506.2,113.2 506.9,113.7 507.6,113.7 508.4,113.5 509.1,113.0 509.8,112.8 510.5,113.2 511.2,112.4 512.0,112.5 512.7,113.1 513.4,112.9 514.1,112.6 514.8,112.7 515.6,112.9 516.3,113.7 517.0,114.0 517.7,113.3 518.4,113.5 519.2,113.6 519.9,113.8 520.6,113.4 521.3,112.9 522.0,113.0 522.8,112.6 523.5,112.8" stroke="#9a5da7" stroke-width="1.55" fill="none" stroke-linejoin="round"/>
<path d="M31.00,16.40V115.50H538.50 M31.00,115.50v-4M103.50,115.50v-4M176.00,115.50v-4M248.50,115.50v-4M321.00,115.50v-4M393.50,115.50v-4M466.00,115.50v-4M538.50,115.50v-4M31.00,112.60h4M31.00,93.36h4M31.00,74.12h4M31.00,54.88h4M31.00,35.64h4M31.00,16.40h4" stroke="#ababab" stroke-width="1.0" fill="none"/>
<text x="31.00" y="127.00" text-anchor="middle" class="tk">0</text>
<text x="103.50" y="127.00" text-anchor="middle" class="tk">50</text>
<text x="176.00" y="127.00" text-anchor="middle" class="tk">100</text>
<text x="248.50" y="127.00" text-anchor="middle" class="tk">150</text>
<text x="321.00" y="127.00" text-anchor="middle" class="tk">200</text>
<text x="393.50" y="127.00" text-anchor="middle" class="tk">250</text>
<text x="466.00" y="127.00" text-anchor="middle" class="tk">300</text>
<text x="538.50" y="127.00" text-anchor="middle" class="tk">350</text>
<text x="28.0" y="115.40" text-anchor="end" class="tk">0</text>
<text x="28.0" y="96.16" text-anchor="end" class="tk">20</text>
<text x="28.0" y="76.92" text-anchor="end" class="tk">40</text>
<text x="28.0" y="57.68" text-anchor="end" class="tk">60</text>
<text x="28.0" y="38.44" text-anchor="end" class="tk">80</text>
<text x="28.0" y="19.20" text-anchor="end" class="tk">100</text>
<rect x="483.3" y="18.3" width="54.00" height="66.90" fill="#fff" stroke="#a0a0a0" stroke-width="0.8"/>
<path d="M484.8,21.60H501.3" stroke="#1980c4" stroke-width="1.3"/>
<text x="503.0" y="23.40" class="lg" textLength="32.3" lengthAdjust="spacing">10% duty cycle</text>
<path d="M484.8,27.67H501.3" stroke="#dd6430" stroke-width="1.3"/>
<text x="503.0" y="29.47" class="lg" textLength="32.3" lengthAdjust="spacing">12% duty cycle</text>
<path d="M484.8,33.74H501.3" stroke="#efb936" stroke-width="1.3"/>
<text x="503.0" y="35.54" class="lg" textLength="32.3" lengthAdjust="spacing">15% duty cycle</text>
<path d="M484.8,39.81H501.3" stroke="#8b4499" stroke-width="1.3"/>
<text x="503.0" y="41.61" class="lg" textLength="32.3" lengthAdjust="spacing">20% duty cycle</text>
<path d="M484.8,45.88H501.3" stroke="#85b445" stroke-width="1.3"/>
<text x="503.0" y="47.68" class="lg" textLength="32.3" lengthAdjust="spacing">25% duty cycle</text>
<path d="M484.8,51.95H501.3" stroke="#5fc4f0" stroke-width="1.3"/>
<text x="503.0" y="53.75" class="lg" textLength="32.3" lengthAdjust="spacing">30% duty cycle</text>
<path d="M484.8,58.02H501.3" stroke="#ab2b44" stroke-width="1.3"/>
<text x="503.0" y="59.82" class="lg" textLength="32.3" lengthAdjust="spacing">35% duty cycle</text>
<path d="M484.8,64.09H501.3" stroke="#1980c4" stroke-width="1.3"/>
<text x="503.0" y="65.89" class="lg" textLength="32.3" lengthAdjust="spacing">40% duty cycle</text>
<path d="M484.8,70.16H501.3" stroke="#dd6430" stroke-width="1.3"/>
<text x="503.0" y="71.96" class="lg" textLength="32.3" lengthAdjust="spacing">45% duty cycle</text>
<path d="M484.8,76.23H501.3" stroke="#efb936" stroke-width="1.3"/>
<text x="503.0" y="78.03" class="lg" textLength="32.3" lengthAdjust="spacing">50% duty cycle</text>
<path d="M484.8,82.30H501.3" stroke="#8b4499" stroke-width="1.3"/>
<text x="503.0" y="84.10" class="lg" textLength="32.3" lengthAdjust="spacing">55% duty cycle</text>
<text x="123.6" y="12.7" class="ti" textLength="312.6" lengthAdjust="spacingAndGlyphs">Thermostat opening with different duty cycles at water temperature of 50°C</text>
<text x="270.0" y="136.8" class="al" textLength="30.6" lengthAdjust="spacingAndGlyphs">Time(s)</text>
<text transform="translate(11.2,90.3) rotate(-90)" class="al" textLength="48.6" lengthAdjust="spacingAndGlyphs">Opening(%)</text>
<path d="M103.50,155.10V254.60M176.00,155.10V254.60M248.50,155.10V254.60M321.00,155.10V254.60M393.50,155.10V254.60M466.00,155.10V254.60M538.50,155.10V254.60M31.00,251.70H538.50M31.00,232.38H538.50M31.00,213.06H538.50M31.00,193.74H538.50M31.00,174.42H538.50M31.00,155.10H538.50" stroke="#efefef" stroke-width="0.8" fill="none"/>
<path d="M31.0,250.3 31.7,250.5 32.4,250.3 33.2,251.1 33.9,251.0 34.6,250.3 35.3,250.6 36.0,251.2 36.8,250.9 37.5,250.7 38.2,250.5 38.9,250.8 39.6,250.8 40.4,251.0 41.1,250.4 41.8,250.5 42.5,250.7 43.2,250.2 44.0,249.6 44.7,249.9 45.4,249.2 46.1,249.4 46.8,249.0 47.6,249.0 48.3,249.2 49.0,249.5 49.7,249.3 50.4,249.6 51.2,248.9 51.9,249.0 52.6,249.7 53.3,249.6 54.0,249.7 54.8,249.7 55.5,249.4 56.2,250.1 56.9,249.8 57.6,249.5 58.4,249.4 59.1,249.4 59.8,249.2 60.5,249.9 61.2,250.2 62.0,250.1 62.7,250.3 63.4,250.5 64.1,250.5 64.8,250.9 65.6,250.4 66.3,250.1 67.0,250.9 67.7,250.3 68.4,250.4 69.2,250.2 69.9,250.3 70.6,250.4 71.3,250.6 72.0,250.4 72.8,251.3 73.5,250.8 74.2,250.1 74.9,250.0 75.6,250.1 76.4,249.6 77.1,249.7 77.8,249.8 78.5,250.2 79.2,250.3 80.0,250.9 80.7,250.9 81.4,251.2 82.1,251.1 82.8,250.6 83.6,250.3 84.3,250.7 85.0,250.5 85.7,250.7 86.4,251.0 87.2,250.0 87.9,249.7 88.6,249.5 89.3,249.6 90.0,249.4 90.8,249.5 91.5,248.4 92.2,249.0 92.9,249.3 93.6,249.5 94.4,249.1 95.1,249.0 95.8,249.3 96.5,249.2 97.2,249.5 98.0,249.4 98.7,249.1 99.4,249.4 100.1,249.1 100.8,249.0 101.6,249.2 102.3,249.2 103.0,248.8 103.7,249.0 104.4,249.1 105.2,248.9 105.9,248.8 106.6,248.7 107.3,248.8 108.0,248.7 108.8,248.5 109.5,248.3 110.2,248.3 110.9,248.1 111.6,248.2 112.4,248.1 113.1,248.1 113.8,247.7 114.5,247.5 115.2,247.4 116.0,247.5 116.7,247.6 117.4,247.8 118.1,248.0 118.8,248.4 119.6,248.6 120.3,248.4 121.0,248.6 121.7,248.4 122.4,248.6 123.2,248.3 123.9,248.3 124.6,248.3 125.3,248.4 126.0,247.9 126.8,248.1 127.5,248.1 128.2,248.1 128.9,247.7 129.6,247.6 130.4,247.9 131.1,248.0 131.8,247.9 132.5,247.9 133.2,248.0 134.0,247.9 134.7,247.8 135.4,248.0 136.1,247.5 136.8,247.5 137.6,247.4 138.3,247.4 139.0,247.1 139.7,247.5 140.4,247.2 141.2,247.2 141.9,247.3 142.6,247.4 143.3,247.3 144.0,247.6 144.8,248.1 145.5,248.4 146.2,248.6 146.9,248.2 147.6,248.2 148.4,248.2 149.1,248.3 149.8,247.7 150.5,247.5 151.2,247.5 152.0,248.1 152.7,248.0 153.4,247.4 154.1,247.2 154.8,247.2 155.6,246.9 156.3,246.8 157.0,246.6 157.7,246.5 158.4,246.6 159.2,246.3 159.9,246.3 160.6,246.4 161.3,246.6 162.0,246.4 162.8,246.9 163.5,247.2 164.2,247.1 164.9,247.1 165.6,247.2 166.4,246.9 167.1,246.9 167.8,246.6 168.5,246.4 169.2,246.3 170.0,246.3 170.7,246.5 171.4,246.3 172.1,246.5 172.8,246.3 173.6,246.2 174.3,246.3 175.0,246.2 175.7,246.1 176.4,246.3 177.2,246.1 177.9,246.3 178.6,246.4 179.3,246.5 180.0,246.5 180.8,246.7 181.5,246.9 182.2,247.1 182.9,247.2 183.6,247.5 184.4,247.6 185.1,247.6 185.8,247.7 186.5,248.0 187.2,248.2 188.0,248.8 188.7,248.9 189.4,248.8 190.1,248.6 190.8,248.4 191.6,248.7 192.3,248.4 193.0,248.7 193.7,248.8 194.4,248.7 195.2,248.5 195.9,249.0 196.6,248.8 197.3,248.4 198.0,248.1 198.8,248.0 199.5,247.7 200.2,247.7 200.9,247.5 201.6,247.4 202.4,247.6 203.1,247.4 203.8,247.4 204.5,247.7 205.2,247.4 206.0,247.3 206.7,247.0 207.4,246.9 208.1,246.8 208.8,246.8 209.6,246.6 210.3,246.5 211.0,246.5 211.7,246.4 212.4,246.6 213.2,246.4 213.9,246.2 214.6,246.3 215.3,246.1 216.0,245.9 216.8,245.9 217.5,245.5 218.2,245.4 218.9,245.3 219.6,245.4 220.4,245.5 221.1,245.8 221.8,245.9 222.5,245.9 223.2,245.8 224.0,245.8 224.7,245.5 225.4,245.3 226.1,245.4 226.8,245.5 227.6,245.5 228.3,245.3 229.0,245.3 229.7,245.3 230.4,245.1 231.2,245.1 231.9,245.4 232.6,245.3 233.3,245.6 234.0,245.8 234.8,246.0 235.5,246.4 236.2,246.5 236.9,246.7 237.6,246.8 238.4,246.9 239.1,247.0 239.8,247.5 240.5,247.3 241.2,247.3 242.0,247.1 242.7,246.9 243.4,246.7 244.1,246.5 244.8,246.5 245.6,246.7 246.3,246.5 247.0,246.4 247.7,246.3 248.4,246.0 249.2,245.9 249.9,245.9 250.6,245.7 251.3,245.9 252.0,245.8 252.8,245.8 253.5,245.5 254.2,245.6 254.9,245.4 255.6,245.4 256.4,245.4 257.1,245.6 257.8,245.4 258.5,245.4 259.2,245.4 260.0,245.4 260.7,245.2 261.4,245.4 262.1,245.2 262.8,245.0 263.6,245.1 264.3,245.4 265.0,245.1 265.7,245.0 266.4,245.0 267.2,244.8 267.9,244.7 268.6,245.2 269.3,245.6 270.0,245.6 270.8,245.8 271.5,245.9 272.2,245.6 272.9,245.2 273.6,245.3 274.4,245.2 275.1,245.2 275.8,245.2 276.5,245.2 277.2,245.3 278.0,245.3 278.7,245.3 279.4,245.2 280.1,245.4 280.8,245.3 281.6,245.3 282.3,245.2 283.0,245.3 283.7,245.1 284.4,245.0 285.2,245.1 285.9,245.1 286.6,245.2 287.3,245.3 288.0,245.3 288.8,245.2 289.5,245.2 290.2,245.1 290.9,245.1 291.6,245.0 292.4,245.0 293.1,245.0 293.8,244.9 294.5,245.0 295.2,245.1 296.0,244.9 296.7,244.8 297.4,244.7 298.1,244.4 298.8,244.1 299.6,244.0 300.3,243.9 301.0,243.9 301.7,244.0 302.4,244.1 303.2,244.2 303.9,244.1 304.6,244.1 305.3,244.2 306.0,244.3 306.8,244.5 307.5,244.9 308.2,245.1 308.9,245.4 309.6,245.6 310.4,245.9 311.1,246.2 311.8,246.2 312.5,246.3 313.2,246.4 314.0,246.3 314.7,246.4 315.4,246.5 316.1,246.5 316.8,246.7 317.6,246.7 318.3,246.5 319.0,246.4 319.7,246.3 320.4,246.4 321.2,246.9 321.9,247.1 322.6,247.2 323.3,247.4 324.0,247.6 324.8,248.1 325.5,248.0 326.2,247.9 326.9,248.5 327.6,249.1 328.4,249.2 329.1,249.8 329.8,250.3 330.5,250.3 331.2,250.4 332.0,250.0 332.7,249.8 333.4,249.3 334.1,249.0 334.8,248.8 335.6,249.2 336.3,249.2 337.0,249.1 337.7,248.7 338.4,248.5 339.2,248.6 339.9,248.6 340.6,248.4 341.3,248.6 342.0,249.4 342.8,249.4 343.5,249.3 344.2,249.5 344.9,249.6 345.6,249.8 346.4,249.6 347.1,249.6 347.8,249.5 348.5,250.1 349.2,250.5 350.0,250.5 350.7,249.8 351.4,250.0 352.1,250.0 352.8,250.3 353.6,250.0 354.3,249.7 355.0,250.8 355.7,251.4 356.4,251.7 357.2,252.0 357.9,251.6 358.6,252.0 359.3,252.0 360.0,250.8 360.8,250.8 361.5,250.8 362.2,250.8 362.9,251.7 363.6,251.5 364.4,251.4 365.1,252.2 365.8,252.5 366.5,252.6 367.2,252.0 368.0,252.3 368.7,252.1 369.4,252.5 370.1,252.3 370.8,252.3 371.6,251.3 372.3,251.5 373.0,251.3 373.7,251.4 374.4,251.3 375.2,251.4 375.9,250.9 376.6,251.2 377.3,251.7 378.0,251.4 378.8,250.8 379.5,250.7 380.2,250.5 380.9,251.0 381.6,251.1 382.4,251.1 383.1,250.8 383.8,250.3 384.5,250.4 385.2,251.1 386.0,250.8 386.7,251.6 387.4,251.5 388.1,251.7 388.8,252.6 389.6,252.6 390.3,252.6 391.0,252.6 391.7,252.6 392.4,252.6 393.2,252.6 393.9,252.6 394.6,252.6 395.3,252.6 396.0,252.6 396.8,252.6 397.5,252.6 398.2,252.6 398.9,252.6 399.6,252.6 400.4,252.6 401.1,252.6 401.8,252.6 402.5,252.6 403.2,252.6 404.0,252.6 404.7,252.6 405.4,252.6 406.1,252.6 406.8,252.6 407.6,252.4 408.3,252.6 409.0,252.6 409.7,252.6 410.4,252.6 411.2,252.6 411.9,252.4 412.6,252.5 413.3,251.8 414.0,252.3 414.8,252.6 415.5,252.6 416.2,252.3 416.9,252.6 417.6,252.6 418.4,252.6 419.1,252.6 419.8,252.6 420.5,252.6 421.2,252.6 422.0,252.3 422.7,252.3 423.4,252.1 424.1,252.0 424.8,251.5 425.6,251.6 426.3,251.7 427.0,252.1 427.7,251.7 428.4,251.6 429.2,251.9 429.9,252.6 430.6,252.2 431.3,252.3 432.0,252.6 432.8,252.6 433.5,252.4 434.2,252.6 434.9,252.5 435.6,252.6 436.4,252.6 437.1,251.8 437.8,252.0 438.5,251.7 439.2,251.6 440.0,250.7 440.7,251.4 441.4,251.7 442.1,252.3 442.8,252.3 443.6,252.5 444.3,252.5 445.0,252.6 445.7,252.6 446.4,252.4 447.2,252.4 447.9,252.6 448.6,252.5 449.3,252.4 450.0,251.8 450.8,252.1 451.5,251.7 452.2,252.0 452.9,251.7 453.6,252.0 454.4,252.1 455.1,252.5 455.8,252.0 456.5,252.6 457.2,252.2 458.0,252.0 458.7,251.5 459.4,251.1 460.1,250.8 460.8,251.2 461.6,250.6 462.3,250.6 463.0,250.7 463.7,250.9 464.4,251.6 465.2,251.9 465.9,252.0 466.6,252.3 467.3,252.2 468.0,252.4 468.8,252.6 469.5,252.0 470.2,252.0 470.9,252.1 471.6,251.6 472.4,251.7 473.1,251.3 473.8,250.8 474.5,250.5 475.2,250.4 476.0,249.9 476.7,250.6 477.4,250.8 478.1,250.6 478.8,250.5 479.6,251.3 480.3,251.3 481.0,251.0 481.7,250.8 482.4,250.7 483.2,250.9 483.9,251.1 484.6,250.8 485.3,250.5 486.0,251.1 486.8,251.0 487.5,250.8 488.2,250.6 488.9,250.5 489.6,250.3 490.4,250.3 491.1,250.1 491.8,250.6 492.5,250.8 493.2,251.4 494.0,252.0 494.7,251.6 495.4,252.1 496.1,251.8 496.8,251.7 497.6,251.8 498.3,251.2 499.0,250.1 499.7,250.3 500.4,250.1 501.2,250.7 501.9,250.1 502.6,250.0 503.3,250.4 504.0,250.5 504.8,250.8 505.5,251.1 506.2,250.9 506.9,251.0 507.6,251.4 508.4,251.0 509.1,251.0 509.8,250.7 510.5,250.5 511.2,250.5 512.0,251.1 512.7,250.4 513.4,250.5 514.1,250.5 514.8,251.0 515.6,250.7 516.3,250.8 517.0,250.3 517.7,250.1 518.4,250.4 519.2,250.2 519.9,250.1 520.6,250.6 521.3,250.7 522.0,250.7 522.8,251.5 523.5,251.8 524.2,251.8 524.9,252.4" stroke="#3891cc" stroke-width="1.55" fill="none" stroke-linejoin="round"/>
<path d="M31.0,251.1 31.7,251.2 32.4,251.7 33.2,251.6 33.9,251.8 34.6,251.6 35.3,252.4 36.0,251.7 36.8,252.0 37.5,252.0 38.2,252.3 38.9,251.6 39.6,251.4 40.4,250.6 41.1,250.6 41.8,250.2 42.5,250.3 43.2,249.8 44.0,249.9 44.7,249.9 45.4,249.9 46.1,250.0 46.8,249.9 47.6,249.7 48.3,250.2 49.0,250.6 49.7,250.8 50.4,251.4 51.2,251.5 51.9,251.4 52.6,251.2 53.3,251.5 54.0,251.3 54.8,251.9 55.5,251.7 56.2,251.4 56.9,251.7 57.6,252.0 58.4,251.4 59.1,251.6 59.8,251.5 60.5,251.4 61.2,251.5 62.0,251.6 62.7,251.8 63.4,251.5 64.1,251.6 64.8,251.2 65.6,251.5 66.3,251.4 67.0,251.5 67.7,251.7 68.4,251.5 69.2,251.8 69.9,251.2 70.6,250.4 71.3,250.2 72.0,250.0 72.8,250.1 73.5,250.4 74.2,250.0 74.9,250.7 75.6,250.9 76.4,251.1 77.1,251.4 77.8,251.3 78.5,251.6 79.2,251.4 80.0,251.3 80.7,250.8 81.4,250.7 82.1,250.3 82.8,249.9 83.6,249.0 84.3,249.4 85.0,248.9 85.7,249.2 86.4,249.0 87.2,249.0 87.9,249.0 88.6,249.2 89.3,248.6 90.0,248.8 90.8,248.4 91.5,248.2 92.2,247.7 92.9,247.7 93.6,247.6 94.4,247.7 95.1,247.6 95.8,247.3 96.5,246.9 97.2,246.8 98.0,246.1 98.7,245.7 99.4,245.5 100.1,245.7 100.8,245.6 101.6,245.6 102.3,245.6 103.0,245.5 103.7,245.2 104.4,245.1 105.2,244.9 105.9,244.7 106.6,245.0 107.3,245.0 108.0,244.9 108.8,245.0 109.5,244.9 110.2,244.5 110.9,244.5 111.6,244.2 112.4,244.0 113.1,244.0 113.8,243.9 114.5,243.7 115.2,243.8 116.0,243.8 116.7,243.8 117.4,243.8 118.1,243.8 118.8,243.6 119.6,243.4 120.3,243.1 121.0,242.9 121.7,242.5 122.4,242.3 123.2,242.1 123.9,241.9 124.6,241.3 125.3,241.0 126.0,240.7 126.8,240.1 127.5,239.7 128.2,239.5 128.9,239.0 129.6,238.5 130.4,238.1 131.1,237.6 131.8,236.9 132.5,236.3 133.2,235.7 134.0,235.3 134.7,234.4 135.4,233.6 136.1,233.0 136.8,232.2 137.6,231.5 138.3,230.9 139.0,230.3 139.7,229.7 140.4,229.4 141.2,228.8 141.9,228.6 142.6,228.3 143.3,228.1 144.0,227.4 144.8,227.0 145.5,226.7 146.2,226.3 146.9,225.8 147.6,225.8 148.4,225.5 149.1,225.1 149.8,225.1 150.5,224.8 151.2,224.5 152.0,224.0 152.7,223.7 153.4,223.2 154.1,223.0 154.8,222.5 155.6,222.2 156.3,222.1 157.0,221.9 157.7,221.3 158.4,221.2 159.2,221.2 159.9,221.0 160.6,220.7 161.3,220.7 162.0,220.7 162.8,220.6 163.5,220.2 164.2,220.2 164.9,220.0 165.6,219.9 166.4,219.6 167.1,219.6 167.8,219.6 168.5,219.5 169.2,219.2 170.0,219.1 170.7,218.9 171.4,218.8 172.1,218.8 172.8,218.7 173.6,218.5 174.3,218.2 175.0,217.9 175.7,217.6 176.4,217.4 177.2,217.0 177.9,216.8 178.6,216.5 179.3,216.1 180.0,215.9 180.8,215.6 181.5,215.3 182.2,215.1 182.9,214.8 183.6,214.4 184.4,214.1 185.1,213.9 185.8,213.6 186.5,213.3 187.2,213.1 188.0,213.1 188.7,213.1 189.4,213.3 190.1,213.4 190.8,213.7 191.6,214.0 192.3,214.0 193.0,214.2 193.7,214.5 194.4,214.8 195.2,214.8 195.9,215.3 196.6,215.3 197.3,215.1 198.0,215.0 198.8,215.1 199.5,214.9 200.2,215.0 200.9,214.8 201.6,214.8 202.4,214.6 203.1,214.5 203.8,214.3 204.5,214.5 205.2,214.4 206.0,214.1 206.7,213.8 207.4,213.9 208.1,213.7 208.8,213.6 209.6,213.7 210.3,213.7 211.0,213.5 211.7,213.1 212.4,213.0 213.2,212.8 213.9,212.7 214.6,212.5 215.3,212.6 216.0,212.7 216.8,212.4 217.5,212.3 218.2,212.0 218.9,211.7 219.6,211.3 220.4,211.1 221.1,210.8 221.8,210.7 222.5,210.4 223.2,210.1 224.0,209.7 224.7,209.3 225.4,209.0 226.1,208.5 226.8,208.1 227.6,207.8 228.3,207.5 229.0,207.2 229.7,207.0 230.4,206.9 231.2,206.8 231.9,206.6 232.6,206.4 233.3,206.2 234.0,205.8 234.8,206.0 235.5,206.0 236.2,206.2 236.9,206.2 237.6,206.4 238.4,206.2 239.1,206.2 239.8,206.0 240.5,206.0 241.2,205.9 242.0,205.9 242.7,205.7 243.4,205.5 244.1,205.4 244.8,205.5 245.6,205.5 246.3,205.7 247.0,205.8 247.7,205.8 248.4,205.8 249.2,205.7 249.9,205.4 250.6,205.4 251.3,205.4 252.0,205.2 252.8,205.2 253.5,205.4 254.2,205.4 254.9,205.3 255.6,205.3 256.4,205.3 257.1,205.3 257.8,205.0 258.5,204.9 259.2,204.7 260.0,204.6 260.7,204.3 261.4,204.4 262.1,204.2 262.8,204.1 263.6,203.9 264.3,203.9 265.0,203.8 265.7,203.7 266.4,203.6 267.2,203.6 267.9,203.6 268.6,203.7 269.3,203.7 270.0,203.8 270.8,203.9 271.5,203.8 272.2,203.7 272.9,203.7 273.6,203.6 274.4,203.5 275.1,203.4 275.8,203.3 276.5,203.0 277.2,203.0 278.0,202.9 278.7,203.0 279.4,203.1 280.1,203.1 280.8,203.2 281.6,203.1 282.3,203.1 283.0,203.1 283.7,203.2 284.4,203.1 285.2,203.1 285.9,203.2 286.6,203.0 287.3,202.9 288.0,202.8 288.8,202.8 289.5,202.7 290.2,202.7 290.9,202.9 291.6,202.7 292.4,202.7 293.1,202.6 293.8,202.4 294.5,202.1 295.2,202.1 296.0,202.0 296.7,201.8 297.4,201.5 298.1,201.3 298.8,201.0 299.6,200.7 300.3,200.5 301.0,200.5 301.7,200.5 302.4,200.6 303.2,200.3 303.9,200.3 304.6,200.3 305.3,200.2 306.0,200.1 306.8,200.3 307.5,200.2 308.2,200.3 308.9,200.3 309.6,200.4 310.4,200.6 311.1,200.9 311.8,200.9 312.5,201.3 313.2,201.2 314.0,201.5 314.7,201.5 315.4,201.6 316.1,201.5 316.8,201.9 317.6,202.1 318.3,202.4 319.0,202.8 319.7,203.3 320.4,203.5 321.2,203.7 321.9,204.1 322.6,204.4 323.3,204.7 324.0,205.1 324.8,205.6 325.5,205.9 326.2,206.5 326.9,207.1 327.6,207.8 328.4,208.4 329.1,209.0 329.8,209.5 330.5,209.7 331.2,210.0 332.0,210.6 332.7,211.0 333.4,211.2 334.1,211.6 334.8,212.1 335.6,212.3 336.3,212.7 337.0,213.0 337.7,213.7 338.4,214.1 339.2,214.7 339.9,215.4 340.6,216.1 341.3,216.8 342.0,217.4 342.8,217.9 343.5,218.4 344.2,218.9 344.9,219.6 345.6,220.2 346.4,221.0 347.1,222.0 347.8,222.8 348.5,223.4 349.2,224.5 350.0,225.4 350.7,226.3 351.4,227.3 352.1,228.4 352.8,229.1 353.6,229.9 354.3,230.4 355.0,231.1 355.7,231.7 356.4,232.5 357.2,233.3 357.9,234.2 358.6,235.0 359.3,235.8 360.0,236.4 360.8,237.1 361.5,237.7 362.2,238.4 362.9,238.9 363.6,239.7 364.4,240.4 365.1,240.9 365.8,241.3 366.5,241.9 367.2,242.4 368.0,242.8 368.7,243.5 369.4,244.0 370.1,244.3 370.8,244.6 371.6,245.0 372.3,245.3 373.0,245.4 373.7,245.6 374.4,245.7 375.2,245.9 375.9,246.0 376.6,246.2 377.3,246.4 378.0,246.6 378.8,246.6 379.5,246.6 380.2,246.5 380.9,246.9 381.6,247.2 382.4,247.1 383.1,247.4 383.8,247.8 384.5,248.0 385.2,247.7 386.0,247.7 386.7,247.7 387.4,248.2 388.1,248.1 388.8,248.6 389.6,249.1 390.3,249.8 391.0,249.5 391.7,249.7 392.4,249.6 393.2,249.9 393.9,249.8 394.6,249.3 395.3,248.9 396.0,248.9 396.8,248.8 397.5,248.8 398.2,248.0 398.9,247.8 399.6,248.8 400.4,248.9 401.1,248.7 401.8,249.3 402.5,249.6 403.2,249.6 404.0,249.8 404.7,249.6 405.4,249.2 406.1,249.5 406.8,249.1 407.6,248.8 408.3,249.2 409.0,249.6 409.7,249.6 410.4,249.5 411.2,249.5 411.9,249.3 412.6,250.0 413.3,249.8 414.0,249.8 414.8,249.7 415.5,249.9 416.2,250.2 416.9,250.7 417.6,249.9 418.4,250.1 419.1,249.9 419.8,249.6 420.5,249.4 421.2,249.4 422.0,249.9 422.7,250.3 423.4,250.1 424.1,250.4 424.8,250.7 425.6,250.4 426.3,250.5 427.0,250.1 427.7,250.0 428.4,250.5 429.2,250.4 429.9,250.4 430.6,251.2 431.3,250.9 432.0,250.9 432.8,251.7 433.5,251.4 434.2,251.1 434.9,251.0 435.6,250.8 436.4,251.2 437.1,250.8 437.8,250.6 438.5,250.6 439.2,251.5 440.0,251.3 440.7,251.5 441.4,251.1 442.1,251.8 442.8,251.1 443.6,251.6 444.3,250.9 445.0,251.3 445.7,251.1 446.4,251.0 447.2,250.5 447.9,250.3 448.6,250.3 449.3,250.1 450.0,250.5 450.8,250.7 451.5,250.6 452.2,250.7 452.9,251.5 453.6,251.4 454.4,251.2 455.1,251.7 455.8,251.8 456.5,252.1 457.2,252.6 458.0,252.5 458.7,252.5 459.4,252.1 460.1,251.6 460.8,251.3 461.6,250.7 462.3,249.8 463.0,249.9 463.7,249.8 464.4,250.7 465.2,250.6 465.9,250.4 466.6,250.8 467.3,250.6 468.0,250.5 468.8,250.3 469.5,250.1 470.2,249.6 470.9,249.5 471.6,249.6 472.4,249.6 473.1,249.1 473.8,249.8 474.5,249.2 475.2,249.7 476.0,250.0 476.7,249.7 477.4,249.7 478.1,250.7 478.8,250.5 479.6,251.0 480.3,250.8 481.0,250.8 481.7,250.5 482.4,250.5 483.2,249.9 483.9,249.9 484.6,249.6 485.3,249.9 486.0,250.0 486.8,250.1 487.5,250.7 488.2,250.8 488.9,251.2 489.6,251.6 490.4,252.1 491.1,251.6 491.8,252.1 492.5,251.2 493.2,251.8 494.0,251.7 494.7,251.4 495.4,250.6 496.1,251.5 496.8,251.1 497.6,251.3 498.3,250.7 499.0,251.1 499.7,251.2 500.4,252.0 501.2,251.6 501.9,251.4 502.6,252.0 503.3,252.4 504.0,252.5 504.8,252.3 505.5,252.0 506.2,252.0 506.9,252.1 507.6,251.7 508.4,251.7 509.1,251.4 509.8,251.3 510.5,251.4 511.2,251.8 512.0,251.9 512.7,251.8 513.4,251.6 514.1,251.7 514.8,251.8 515.6,251.9 516.3,251.5 517.0,250.4 517.7,249.8 518.4,250.3 519.2,250.7 519.9,250.2 520.6,250.3 521.3,250.4 522.0,250.3 522.8,250.9 523.5,251.2 524.2,251.2 524.9,251.9" stroke="#e1794c" stroke-width="1.55" fill="none" stroke-linejoin="round"/>
<path d="M31.0,250.9 31.7,250.6 32.4,250.7 33.2,251.6 33.9,251.6 34.6,251.7 35.3,252.0 36.0,251.5 36.8,250.7 37.5,250.3 38.2,250.3 38.9,250.4 39.6,250.8 40.4,251.5 41.1,251.7 41.8,252.6 42.5,252.6 43.2,252.6 44.0,252.6 44.7,252.6 45.4,252.6 46.1,252.6 46.8,252.6 47.6,252.1 48.3,251.9 49.0,252.3 49.7,251.8 50.4,251.0 51.2,251.2 51.9,250.7 52.6,251.1 53.3,251.2 54.0,251.1 54.8,251.6 55.5,252.3 56.2,251.9 56.9,252.1 57.6,252.1 58.4,252.2 59.1,252.5 59.8,252.1 60.5,251.7 61.2,252.3 62.0,251.5 62.7,251.2 63.4,250.9 64.1,250.8 64.8,250.4 65.6,250.2 66.3,249.9 67.0,249.8 67.7,249.4 68.4,249.2 69.2,249.0 69.9,248.7 70.6,248.6 71.3,248.5 72.0,248.3 72.8,248.3 73.5,248.1 74.2,247.7 74.9,247.2 75.6,246.9 76.4,246.8 77.1,246.7 77.8,246.3 78.5,245.9 79.2,245.5 80.0,244.9 80.7,244.3 81.4,243.9 82.1,243.5 82.8,243.2 83.6,242.6 84.3,241.9 85.0,241.2 85.7,240.3 86.4,239.2 87.2,238.0 87.9,236.9 88.6,235.5 89.3,234.3 90.0,232.8 90.8,231.4 91.5,230.0 92.2,228.6 92.9,227.2 93.6,226.1 94.4,225.1 95.1,224.3 95.8,223.6 96.5,222.8 97.2,222.3 98.0,221.6 98.7,220.9 99.4,220.3 100.1,219.9 100.8,219.3 101.6,218.9 102.3,218.4 103.0,217.9 103.7,217.5 104.4,217.1 105.2,216.4 105.9,216.0 106.6,215.4 107.3,214.8 108.0,214.0 108.8,213.6 109.5,213.1 110.2,212.9 110.9,212.6 111.6,212.2 112.4,211.9 113.1,211.6 113.8,211.0 114.5,210.6 115.2,210.3 116.0,209.8 116.7,209.5 117.4,209.1 118.1,208.6 118.8,208.0 119.6,207.3 120.3,206.6 121.0,206.2 121.7,205.7 122.4,205.3 123.2,205.4 123.9,205.1 124.6,204.8 125.3,204.4 126.0,204.0 126.8,203.3 127.5,202.8 128.2,202.4 128.9,202.0 129.6,201.3 130.4,201.1 131.1,200.7 131.8,200.4 132.5,200.2 133.2,199.8 134.0,199.5 134.7,199.4 135.4,199.0 136.1,198.8 136.8,198.9 137.6,198.6 138.3,198.3 139.0,197.9 139.7,197.5 140.4,197.0 141.2,196.8 141.9,196.7 142.6,196.6 143.3,196.6 144.0,196.4 144.8,196.1 145.5,195.8 146.2,195.5 146.9,195.2 147.6,194.9 148.4,194.9 149.1,194.8 149.8,194.6 150.5,194.4 151.2,194.3 152.0,194.0 152.7,193.8 153.4,193.8 154.1,193.5 154.8,193.3 155.6,193.0 156.3,192.6 157.0,192.3 157.7,192.1 158.4,191.9 159.2,191.8 159.9,191.8 160.6,191.3 161.3,191.3 162.0,191.1 162.8,191.0 163.5,190.6 164.2,190.9 164.9,190.6 165.6,190.5 166.4,190.3 167.1,190.2 167.8,189.9 168.5,189.8 169.2,189.5 170.0,189.4 170.7,189.1 171.4,189.0 172.1,188.7 172.8,188.6 173.6,188.6 174.3,188.6 175.0,188.5 175.7,188.5 176.4,188.5 177.2,188.3 177.9,188.1 178.6,188.0 179.3,187.9 180.0,187.8 180.8,187.7 181.5,187.6 182.2,187.4 182.9,187.5 183.6,187.6 184.4,187.5 185.1,187.6 185.8,187.6 186.5,187.4 187.2,187.0 188.0,187.0 188.7,186.8 189.4,186.6 190.1,186.6 190.8,186.5 191.6,186.5 192.3,186.4 193.0,186.3 193.7,186.3 194.4,186.4 195.2,186.4 195.9,186.5 196.6,186.5 197.3,186.4 198.0,186.3 198.8,186.1 199.5,185.9 200.2,186.0 200.9,185.6 201.6,185.6 202.4,185.3 203.1,185.4 203.8,185.2 204.5,185.4 205.2,185.6 206.0,185.7 206.7,185.4 207.4,185.7 208.1,185.5 208.8,185.1 209.6,185.2 210.3,185.0 211.0,184.6 211.7,184.5 212.4,184.5 213.2,184.1 213.9,184.4 214.6,184.6 215.3,184.7 216.0,184.6 216.8,184.6 217.5,184.5 218.2,184.3 218.9,184.3 219.6,184.4 220.4,184.5 221.1,184.3 221.8,184.2 222.5,184.2 223.2,184.1 224.0,184.2 224.7,184.1 225.4,184.2 226.1,184.0 226.8,183.8 227.6,183.5 228.3,183.8 229.0,183.8 229.7,183.7 230.4,183.9 231.2,184.0 231.9,183.8 232.6,183.8 233.3,183.9 234.0,183.7 234.8,183.7 235.5,183.8 236.2,183.8 236.9,183.8 237.6,183.8 238.4,183.6 239.1,183.6 239.8,183.4 240.5,183.3 241.2,183.4 242.0,183.4 242.7,183.5 243.4,183.6 244.1,183.5 244.8,183.4 245.6,183.6 246.3,183.5 247.0,183.3 247.7,183.4 248.4,183.3 249.2,183.0 249.9,182.8 250.6,182.7 251.3,182.7 252.0,182.8 252.8,183.0 253.5,183.2 254.2,183.1 254.9,182.9 255.6,182.7 256.4,182.5 257.1,182.3 257.8,182.4 258.5,182.4 259.2,182.5 260.0,182.6 260.7,182.5 261.4,182.3 262.1,182.5 262.8,182.5 263.6,182.4 264.3,182.4 265.0,182.4 265.7,182.3 266.4,182.3 267.2,182.3 267.9,182.4 268.6,182.4 269.3,182.5 270.0,182.2 270.8,182.0 271.5,182.0 272.2,182.1 272.9,182.1 273.6,182.2 274.4,182.3 275.1,182.2 275.8,182.0 276.5,181.9 277.2,181.9 278.0,181.9 278.7,181.8 279.4,181.7 280.1,181.7 280.8,181.7 281.6,181.8 282.3,181.8 283.0,181.9 283.7,182.0 284.4,182.1 285.2,182.1 285.9,182.1 286.6,182.1 287.3,181.9 288.0,181.9 288.8,181.7 289.5,181.6 290.2,181.6 290.9,181.9 291.6,181.8 292.4,181.9 293.1,182.1 293.8,182.1 294.5,182.0 295.2,181.9 296.0,182.0 296.7,182.0 297.4,182.1 298.1,182.0 298.8,182.2 299.6,181.9 300.3,181.8 301.0,181.7 301.7,181.9 302.4,182.0 303.2,182.2 303.9,182.3 304.6,182.4 305.3,182.2 306.0,182.1 306.8,182.0 307.5,182.0 308.2,182.0 308.9,181.9 309.6,182.0 310.4,181.9 311.1,182.1 311.8,182.1 312.5,182.2 313.2,182.1 314.0,182.2 314.7,182.0 315.4,181.8 316.1,181.9 316.8,182.0 317.6,182.0 318.3,182.0 319.0,182.2 319.7,182.3 320.4,182.4 321.2,182.3 321.9,182.3 322.6,182.3 323.3,182.3 324.0,182.4 324.8,182.6 325.5,182.8 326.2,183.1 326.9,183.3 327.6,183.6 328.4,183.8 329.1,184.2 329.8,184.2 330.5,184.7 331.2,184.9 332.0,185.2 332.7,185.4 333.4,185.8 334.1,186.0 334.8,186.1 335.6,186.3 336.3,186.8 337.0,187.0 337.7,187.4 338.4,187.9 339.2,188.3 339.9,188.6 340.6,189.1 341.3,189.5 342.0,189.8 342.8,190.3 343.5,190.5 344.2,190.9 344.9,191.4 345.6,191.8 346.4,192.1 347.1,192.8 347.8,193.2 348.5,193.4 349.2,193.8 350.0,194.3 350.7,194.8 351.4,195.3 352.1,196.0 352.8,196.7 353.6,197.2 354.3,197.5 355.0,198.1 355.7,198.5 356.4,199.1 357.2,199.8 357.9,200.4 358.6,201.0 359.3,201.8 360.0,202.4 360.8,203.1 361.5,203.9 362.2,204.9 362.9,205.6 363.6,206.3 364.4,207.0 365.1,207.9 365.8,208.5 366.5,209.5 367.2,210.5 368.0,211.4 368.7,212.4 369.4,213.3 370.1,214.3 370.8,215.1 371.6,215.9 372.3,216.7 373.0,217.7 373.7,218.6 374.4,219.5 375.2,220.6 375.9,221.5 376.6,222.3 377.3,223.1 378.0,223.9 378.8,224.3 379.5,224.9 380.2,225.6 380.9,226.5 381.6,227.2 382.4,227.9 383.1,228.6 383.8,229.2 384.5,229.6 385.2,230.3 386.0,231.0 386.7,231.4 387.4,231.8 388.1,232.4 388.8,233.1 389.6,233.7 390.3,234.4 391.0,235.0 391.7,235.7 392.4,236.0 393.2,236.4 393.9,237.0 394.6,237.6 395.3,238.2 396.0,238.9 396.8,239.5 397.5,240.2 398.2,240.8 398.9,241.4 399.6,242.2 400.4,243.2 401.1,244.1 401.8,245.2 402.5,246.4 403.2,247.4 404.0,247.7 404.7,248.2 405.4,249.2 406.1,249.6 406.8,249.7 407.6,250.1 408.3,250.9 409.0,251.4 409.7,251.3 410.4,251.2 411.2,250.9 411.9,250.3 412.6,249.9 413.3,249.4 414.0,249.3 414.8,249.5 415.5,249.5 416.2,249.1 416.9,249.8 417.6,250.2 418.4,250.6 419.1,250.6 419.8,250.2 420.5,250.2 421.2,250.8 422.0,250.4 422.7,249.5 423.4,249.4 424.1,249.6 424.8,250.0 425.6,250.1 426.3,250.4 427.0,250.6 427.7,250.7 428.4,250.3 429.2,249.5 429.9,249.3 430.6,249.2 431.3,248.8 432.0,249.1 432.8,249.3 433.5,249.5 434.2,249.9 434.9,250.0 435.6,250.7 436.4,250.9 437.1,250.9 437.8,250.3 438.5,249.9 439.2,250.2 440.0,250.0 440.7,249.6 441.4,249.8 442.1,249.5 442.8,250.4 443.6,250.6 444.3,250.3 445.0,250.0 445.7,250.5 446.4,249.9 447.2,250.0 447.9,249.9 448.6,249.7 449.3,250.1 450.0,250.4 450.8,249.9 451.5,250.0 452.2,250.4 452.9,250.3 453.6,250.5 454.4,250.6 455.1,250.7 455.8,250.6 456.5,250.8 457.2,251.2 458.0,251.4 458.7,251.9 459.4,252.0 460.1,251.9 460.8,251.6 461.6,251.0 462.3,250.8 463.0,251.3 463.7,250.9 464.4,250.3 465.2,250.0 465.9,250.5 466.6,251.0 467.3,250.9 468.0,250.4 468.8,250.5 469.5,250.9 470.2,250.9 470.9,251.2 471.6,250.8 472.4,251.4 473.1,252.3 473.8,252.1 474.5,251.6 475.2,252.0 476.0,252.3 476.7,252.5 477.4,252.6 478.1,252.6 478.8,252.6 479.6,252.6 480.3,252.1 481.0,251.7 481.7,251.0 482.4,250.7 483.2,250.5 483.9,250.5 484.6,250.6 485.3,250.6 486.0,250.2 486.8,250.5 487.5,250.8 488.2,250.9 488.9,250.9 489.6,250.6 490.4,251.0 491.1,251.2 491.8,251.4 492.5,251.9 493.2,252.4 494.0,252.4 494.7,252.0 495.4,251.9 496.1,251.6 496.8,251.6 497.6,251.3 498.3,251.5 499.0,251.4 499.7,251.8 500.4,252.4 501.2,252.3 501.9,252.0 502.6,251.9 503.3,251.5 504.0,250.9 504.8,251.0 505.5,251.0 506.2,251.8 506.9,252.0 507.6,251.7 508.4,251.8 509.1,252.0 509.8,251.1 510.5,251.0 511.2,250.9 512.0,250.5 512.7,250.3 513.4,249.6 514.1,249.6 514.8,249.5 515.6,249.8 516.3,250.0 517.0,250.3 517.7,251.0 518.4,251.3 519.2,251.0 519.9,251.8 520.6,251.7 521.3,251.3 522.0,251.2 522.8,250.7 523.5,251.0 524.2,251.1 524.9,251.6" stroke="#f1c251" stroke-width="1.55" fill="none" stroke-linejoin="round"/>
<path d="M31.0,250.9 31.7,250.9 32.4,250.4 33.2,250.7 33.9,250.1 34.6,249.9 35.3,250.0 36.0,249.9 36.8,249.6 37.5,249.7 38.2,249.0 38.9,249.1 39.6,249.5 40.4,249.3 41.1,249.3 41.8,250.3 42.5,250.4 43.2,251.1 44.0,251.3 44.7,251.4 45.4,251.8 46.1,251.6 46.8,251.7 47.6,251.4 48.3,251.0 49.0,251.1 49.7,251.0 50.4,250.5 51.2,250.5 51.9,250.6 52.6,250.5 53.3,250.6 54.0,250.7 54.8,250.6 55.5,250.1 56.2,250.1 56.9,250.1 57.6,250.0 58.4,249.3 59.1,249.2 59.8,248.8 60.5,248.5 61.2,247.8 62.0,247.3 62.7,246.7 63.4,246.5 64.1,245.9 64.8,245.5 65.6,245.3 66.3,245.2 67.0,244.6 67.7,244.0 68.4,243.2 69.2,242.2 69.9,241.0 70.6,240.2 71.3,239.1 72.0,238.1 72.8,236.9 73.5,235.9 74.2,234.5 74.9,233.5 75.6,232.1 76.4,230.8 77.1,229.4 77.8,228.1 78.5,226.8 79.2,225.7 80.0,224.7 80.7,223.7 81.4,222.8 82.1,221.6 82.8,220.6 83.6,219.7 84.3,218.5 85.0,217.3 85.7,216.4 86.4,215.4 87.2,214.1 87.9,213.2 88.6,212.4 89.3,211.6 90.0,210.5 90.8,209.5 91.5,208.6 92.2,207.6 92.9,206.6 93.6,205.9 94.4,205.4 95.1,204.8 95.8,204.1 96.5,203.6 97.2,203.2 98.0,202.6 98.7,202.1 99.4,201.5 100.1,201.0 100.8,200.1 101.6,199.3 102.3,198.4 103.0,197.8 103.7,197.1 104.4,196.3 105.2,195.7 105.9,195.1 106.6,194.3 107.3,193.7 108.0,193.3 108.8,192.7 109.5,192.3 110.2,192.1 110.9,191.5 111.6,191.1 112.4,190.9 113.1,190.3 113.8,190.0 114.5,189.7 115.2,189.7 116.0,189.4 116.7,189.3 117.4,189.1 118.1,189.0 118.8,188.6 119.6,188.5 120.3,188.1 121.0,188.0 121.7,187.7 122.4,187.6 123.2,187.3 123.9,187.3 124.6,187.1 125.3,186.8 126.0,186.6 126.8,186.5 127.5,186.3 128.2,186.1 128.9,186.2 129.6,186.1 130.4,186.0 131.1,185.9 131.8,185.8 132.5,185.5 133.2,185.4 134.0,185.3 134.7,185.1 135.4,184.8 136.1,184.8 136.8,184.7 137.6,184.5 138.3,184.3 139.0,184.3 139.7,184.2 140.4,183.7 141.2,183.8 141.9,183.7 142.6,183.6 143.3,183.4 144.0,183.5 144.8,183.3 145.5,183.2 146.2,183.2 146.9,183.1 147.6,183.0 148.4,183.0 149.1,182.8 149.8,182.6 150.5,182.5 151.2,182.5 152.0,182.3 152.7,182.2 153.4,182.2 154.1,182.1 154.8,181.8 155.6,181.7 156.3,181.7 157.0,181.7 157.7,181.4 158.4,181.4 159.2,181.4 159.9,181.2 160.6,181.0 161.3,180.9 162.0,180.9 162.8,180.7 163.5,180.4 164.2,180.5 164.9,180.4 165.6,180.2 166.4,180.3 167.1,180.1 167.8,179.9 168.5,180.0 169.2,179.9 170.0,179.8 170.7,179.9 171.4,180.0 172.1,179.8 172.8,179.8 173.6,179.8 174.3,179.8 175.0,179.5 175.7,179.3 176.4,179.3 177.2,179.3 177.9,179.1 178.6,179.1 179.3,179.0 180.0,179.0 180.8,179.0 181.5,179.0 182.2,179.0 182.9,178.8 183.6,178.5 184.4,178.3 185.1,178.1 185.8,178.1 186.5,178.2 187.2,178.2 188.0,178.2 188.7,178.2 189.4,178.2 190.1,178.1 190.8,178.1 191.6,178.1 192.3,177.8 193.0,177.5 193.7,177.4 194.4,177.4 195.2,177.5 195.9,177.6 196.6,177.6 197.3,177.6 198.0,177.4 198.8,177.2 199.5,177.1 200.2,177.2 200.9,177.2 201.6,177.3 202.4,177.3 203.1,177.2 203.8,177.2 204.5,177.1 205.2,177.0 206.0,176.9 206.7,177.1 207.4,176.9 208.1,177.0 208.8,176.9 209.6,176.9 210.3,176.7 211.0,176.7 211.7,176.7 212.4,176.9 213.2,176.9 213.9,176.9 214.6,176.9 215.3,176.8 216.0,176.5 216.8,176.2 217.5,176.2 218.2,176.1 218.9,176.1 219.6,175.9 220.4,176.1 221.1,175.9 221.8,176.1 222.5,175.9 223.2,176.0 224.0,176.0 224.7,175.9 225.4,175.8 226.1,175.9 226.8,175.8 227.6,175.7 228.3,175.8 229.0,175.9 229.7,175.8 230.4,175.9 231.2,176.0 231.9,176.0 232.6,175.8 233.3,175.6 234.0,175.7 234.8,175.5 235.5,175.2 236.2,175.0 236.9,174.9 237.6,174.8 238.4,174.9 239.1,175.0 239.8,175.2 240.5,175.4 241.2,175.7 242.0,175.7 242.7,175.6 243.4,175.7 244.1,175.5 244.8,175.3 245.6,175.3 246.3,175.4 247.0,175.2 247.7,175.1 248.4,175.0 249.2,175.0 249.9,175.1 250.6,175.2 251.3,175.3 252.0,175.2 252.8,175.0 253.5,174.7 254.2,174.5 254.9,174.5 255.6,174.5 256.4,174.5 257.1,174.6 257.8,174.7 258.5,174.7 259.2,174.6 260.0,174.7 260.7,174.7 261.4,174.4 262.1,174.5 262.8,174.5 263.6,174.4 264.3,174.4 265.0,174.5 265.7,174.5 266.4,174.4 267.2,174.5 267.9,174.5 268.6,174.4 269.3,174.4 270.0,174.5 270.8,174.4 271.5,174.4 272.2,174.4 272.9,174.4 273.6,174.4 274.4,174.3 275.1,174.3 275.8,174.3 276.5,174.4 277.2,174.3 278.0,174.2 278.7,174.1 279.4,174.1 280.1,174.0 280.8,174.0 281.6,174.2 282.3,174.4 283.0,174.4 283.7,174.4 284.4,174.4 285.2,174.3 285.9,174.2 286.6,174.2 287.3,174.2 288.0,174.2 288.8,174.2 289.5,174.1 290.2,174.2 290.9,174.2 291.6,174.2 292.4,174.4 293.1,174.5 293.8,174.4 294.5,174.4 295.2,174.2 296.0,174.2 296.7,174.2 297.4,174.1 298.1,174.2 298.8,174.2 299.6,174.2 300.3,174.3 301.0,174.4 301.7,174.5 302.4,174.7 303.2,174.8 303.9,174.9 304.6,174.8 305.3,174.9 306.0,174.9 306.8,174.7 307.5,174.7 308.2,174.8 308.9,174.9 309.6,174.8 310.4,175.1 311.1,175.0 311.8,174.9 312.5,174.9 313.2,175.0 314.0,174.8 314.7,175.0 315.4,175.2 316.1,175.2 316.8,175.2 317.6,175.4 318.3,175.4 319.0,175.4 319.7,175.4 320.4,175.5 321.2,175.4 321.9,175.4 322.6,175.5 323.3,175.6 324.0,175.8 324.8,176.1 325.5,176.4 326.2,176.4 326.9,176.7 327.6,177.0 328.4,177.4 329.1,177.8 329.8,178.1 330.5,178.3 331.2,178.5 332.0,178.5 332.7,178.6 333.4,178.9 334.1,179.1 334.8,179.3 335.6,179.6 336.3,179.6 337.0,179.7 337.7,180.1 338.4,180.3 339.2,180.4 339.9,180.8 340.6,181.1 341.3,181.3 342.0,181.5 342.8,182.0 343.5,182.4 344.2,182.8 344.9,183.2 345.6,183.5 346.4,183.9 347.1,184.0 347.8,184.2 348.5,184.3 349.2,184.6 350.0,184.6 350.7,184.8 351.4,184.8 352.1,185.1 352.8,185.4 353.6,186.0 354.3,186.7 355.0,187.4 355.7,188.4 356.4,189.1 357.2,189.6 357.9,190.0 358.6,190.4 359.3,190.7 360.0,190.8 360.8,190.8 361.5,191.0 362.2,191.3 362.9,191.5 363.6,191.9 364.4,192.6 365.1,193.1 365.8,193.7 366.5,194.2 367.2,195.0 368.0,195.7 368.7,196.5 369.4,197.3 370.1,198.2 370.8,198.8 371.6,199.5 372.3,200.4 373.0,200.8 373.7,201.2 374.4,201.8 375.2,202.6 375.9,203.0 376.6,203.7 377.3,204.3 378.0,204.9 378.8,205.5 379.5,206.1 380.2,206.7 380.9,207.2 381.6,207.9 382.4,208.4 383.1,209.1 383.8,209.7 384.5,210.4 385.2,211.2 386.0,211.7 386.7,212.5 387.4,213.4 388.1,214.0 388.8,214.8 389.6,215.8 390.3,216.6 391.0,217.5 391.7,218.5 392.4,219.4 393.2,220.2 393.9,221.0 394.6,221.8 395.3,222.6 396.0,223.2 396.8,224.0 397.5,224.7 398.2,225.4 398.9,225.9 399.6,226.6 400.4,227.3 401.1,228.2 401.8,229.4 402.5,230.6 403.2,231.8 404.0,232.9 404.7,234.0 405.4,234.8 406.1,235.6 406.8,236.5 407.6,237.2 408.3,237.7 409.0,238.3 409.7,239.2 410.4,239.9 411.2,240.6 411.9,241.4 412.6,242.0 413.3,242.5 414.0,242.8 414.8,243.3 415.5,243.6 416.2,244.1 416.9,244.4 417.6,244.7 418.4,244.9 419.1,245.1 419.8,245.1 420.5,245.2 421.2,245.4 422.0,245.7 422.7,246.0 423.4,246.1 424.1,246.6 424.8,246.6 425.6,246.6 426.3,246.6 427.0,246.4 427.7,246.4 428.4,246.6 429.2,246.7 429.9,246.6 430.6,246.9 431.3,247.0 432.0,247.0 432.8,247.3 433.5,247.6 434.2,247.7 434.9,247.9 435.6,248.0 436.4,248.0 437.1,248.4 437.8,248.7 438.5,248.7 439.2,248.6 440.0,249.0 440.7,249.2 441.4,248.7 442.1,248.7 442.8,248.5 443.6,248.3 444.3,248.1 445.0,248.4 445.7,248.1 446.4,248.8 447.2,248.9 447.9,248.7 448.6,248.7 449.3,248.5 450.0,248.2 450.8,248.5 451.5,248.4 452.2,248.2 452.9,248.3 453.6,248.2 454.4,248.6 455.1,248.5 455.8,248.9 456.5,249.0 457.2,249.4 458.0,249.8 458.7,250.6 459.4,250.7 460.1,250.7 460.8,250.7 461.6,250.6 462.3,249.9 463.0,250.0 463.7,249.7 464.4,249.4 465.2,249.6 465.9,249.2 466.6,249.6 467.3,250.1 468.0,250.2 468.8,250.5 469.5,251.0 470.2,250.9 470.9,251.2 471.6,251.2 472.4,251.1 473.1,251.4 473.8,251.0 474.5,251.1 475.2,250.8 476.0,251.0 476.7,250.5 477.4,250.5 478.1,249.8 478.8,250.1 479.6,250.0 480.3,249.7 481.0,249.6 481.7,250.7 482.4,250.8 483.2,250.8 483.9,250.8 484.6,250.3 485.3,250.7 486.0,250.8 486.8,250.2 487.5,250.1 488.2,250.1 488.9,250.4 489.6,250.6 490.4,249.9 491.1,250.1 491.8,250.9 492.5,251.2 493.2,251.5 494.0,250.9 494.7,250.7 495.4,251.1 496.1,250.9 496.8,251.1 497.6,251.1 498.3,251.2 499.0,251.0 499.7,250.6 500.4,250.5 501.2,250.3 501.9,250.3 502.6,250.5 503.3,250.2 504.0,250.2 504.8,250.6 505.5,250.7 506.2,250.6 506.9,250.8 507.6,251.3 508.4,251.2 509.1,251.8 509.8,251.3 510.5,251.1 511.2,250.9 512.0,250.4 512.7,249.5 513.4,249.8 514.1,249.5 514.8,249.6 515.6,249.1 516.3,249.2 517.0,249.8 517.7,249.8 518.4,249.7 519.2,249.8 519.9,250.0 520.6,250.3 521.3,250.1 522.0,249.5 522.8,249.3 523.5,249.5 524.2,249.6 524.9,249.8" stroke="#9a5da7" stroke-width="1.55" fill="none" stroke-linejoin="round"/>
<path d="M31.0,249.4 31.7,249.0 32.4,248.7 33.2,248.9 33.9,249.6 34.6,249.6 35.3,249.6 36.0,250.1 36.8,250.3 37.5,250.0 38.2,251.1 38.9,251.0 39.6,251.2 40.4,251.4 41.1,251.3 41.8,251.4 42.5,251.8 43.2,251.6 44.0,251.7 44.7,250.8 45.4,251.1 46.1,251.5 46.8,251.3 47.6,251.1 48.3,251.1 49.0,251.2 49.7,250.7 50.4,250.0 51.2,249.6 51.9,248.9 52.6,248.3 53.3,248.2 54.0,247.7 54.8,248.2 55.5,248.3 56.2,247.9 56.9,247.9 57.6,247.4 58.4,246.4 59.1,245.7 59.8,244.7 60.5,243.6 61.2,242.1 62.0,240.7 62.7,239.2 63.4,237.3 64.1,235.4 64.8,233.7 65.6,231.7 66.3,229.7 67.0,227.9 67.7,226.4 68.4,224.7 69.2,223.3 69.9,222.0 70.6,220.7 71.3,219.1 72.0,217.7 72.8,216.3 73.5,214.9 74.2,213.6 74.9,212.6 75.6,211.4 76.4,210.3 77.1,209.0 77.8,208.1 78.5,207.0 79.2,206.1 80.0,205.2 80.7,204.4 81.4,203.5 82.1,202.4 82.8,201.4 83.6,200.1 84.3,198.9 85.0,197.5 85.7,196.5 86.4,195.7 87.2,195.1 87.9,194.5 88.6,194.0 89.3,193.6 90.0,193.1 90.8,192.6 91.5,192.1 92.2,191.7 92.9,191.4 93.6,190.9 94.4,190.6 95.1,190.3 95.8,190.1 96.5,189.7 97.2,189.5 98.0,189.2 98.7,188.9 99.4,188.6 100.1,188.3 100.8,188.0 101.6,187.5 102.3,187.3 103.0,186.9 103.7,186.6 104.4,186.5 105.2,186.4 105.9,186.1 106.6,186.0 107.3,186.0 108.0,185.5 108.8,185.1 109.5,185.0 110.2,184.6 110.9,184.2 111.6,184.1 112.4,183.9 113.1,183.8 113.8,183.5 114.5,183.4 115.2,183.1 116.0,183.1 116.7,182.7 117.4,182.7 118.1,182.3 118.8,182.0 119.6,181.8 120.3,181.6 121.0,181.4 121.7,181.1 122.4,180.9 123.2,180.7 123.9,180.6 124.6,180.2 125.3,180.2 126.0,180.0 126.8,179.7 127.5,179.6 128.2,179.5 128.9,179.3 129.6,179.1 130.4,179.0 131.1,178.7 131.8,178.6 132.5,178.6 133.2,178.5 134.0,178.4 134.7,178.4 135.4,178.2 136.1,178.1 136.8,177.9 137.6,177.8 138.3,177.4 139.0,177.2 139.7,177.1 140.4,177.1 141.2,176.9 141.9,177.0 142.6,177.1 143.3,176.9 144.0,176.7 144.8,176.7 145.5,176.6 146.2,176.4 146.9,176.2 147.6,176.3 148.4,176.1 149.1,175.8 149.8,175.9 150.5,175.7 151.2,175.4 152.0,175.4 152.7,175.3 153.4,175.1 154.1,175.2 154.8,175.0 155.6,174.8 156.3,174.8 157.0,174.6 157.7,174.6 158.4,174.6 159.2,174.6 159.9,174.4 160.6,174.4 161.3,174.2 162.0,174.2 162.8,174.2 163.5,174.3 164.2,174.0 164.9,174.1 165.6,174.0 166.4,173.8 167.1,173.6 167.8,173.7 168.5,173.5 169.2,173.5 170.0,173.5 170.7,173.4 171.4,173.3 172.1,173.4 172.8,173.4 173.6,173.3 174.3,173.3 175.0,173.3 175.7,173.2 176.4,173.0 177.2,172.9 177.9,172.8 178.6,172.5 179.3,172.4 180.0,172.3 180.8,172.4 181.5,172.4 182.2,172.6 182.9,172.7 183.6,172.7 184.4,172.5 185.1,172.5 185.8,172.6 186.5,172.4 187.2,172.3 188.0,172.3 188.7,172.0 189.4,171.8 190.1,172.0 190.8,172.0 191.6,172.0 192.3,172.3 193.0,172.3 193.7,172.3 194.4,172.2 195.2,172.1 195.9,172.1 196.6,172.2 197.3,172.0 198.0,172.0 198.8,171.8 199.5,171.5 200.2,171.4 200.9,171.5 201.6,171.4 202.4,171.5 203.1,171.6 203.8,171.4 204.5,171.3 205.2,171.4 206.0,171.4 206.7,171.7 207.4,171.7 208.1,171.7 208.8,171.7 209.6,171.5 210.3,171.3 211.0,171.4 211.7,171.3 212.4,171.3 213.2,171.4 213.9,171.4 214.6,171.2 215.3,171.2 216.0,171.2 216.8,171.2 217.5,171.3 218.2,171.5 218.9,171.5 219.6,171.4 220.4,171.3 221.1,171.2 221.8,171.1 222.5,170.9 223.2,170.8 224.0,170.6 224.7,170.7 225.4,170.8 226.1,170.6 226.8,170.7 227.6,170.9 228.3,170.8 229.0,170.8 229.7,171.0 230.4,170.9 231.2,171.0 231.9,171.0 232.6,171.0 233.3,171.0 234.0,171.0 234.8,170.8 235.5,170.7 236.2,170.6 236.9,170.7 237.6,170.7 238.4,170.8 239.1,171.0 239.8,171.1 240.5,170.9 241.2,171.1 242.0,170.8 242.7,170.8 243.4,170.5 244.1,170.5 244.8,170.3 245.6,170.4 246.3,170.0 247.0,170.1 247.7,170.2 248.4,170.0 249.2,170.2 249.9,170.4 250.6,170.7 251.3,170.7 252.0,170.8 252.8,170.7 253.5,170.9 254.2,170.8 254.9,170.9 255.6,170.9 256.4,171.0 257.1,170.6 257.8,170.5 258.5,170.4 259.2,170.1 260.0,170.1 260.7,170.2 261.4,170.2 262.1,170.1 262.8,170.3 263.6,170.4 264.3,170.4 265.0,170.4 265.7,170.3 266.4,170.5 267.2,170.2 267.9,170.2 268.6,170.1 269.3,170.3 270.0,170.2 270.8,170.2 271.5,170.1 272.2,170.1 272.9,170.2 273.6,170.2 274.4,170.3 275.1,170.6 275.8,170.7 276.5,170.6 277.2,170.6 278.0,170.6 278.7,170.5 279.4,170.3 280.1,170.5 280.8,170.4 281.6,170.3 282.3,170.1 283.0,170.2 283.7,170.2 284.4,170.3 285.2,170.2 285.9,170.2 286.6,170.3 287.3,170.2 288.0,170.2 288.8,170.3 289.5,170.6 290.2,170.5 290.9,170.5 291.6,170.4 292.4,170.5 293.1,170.2 293.8,170.3 294.5,170.5 295.2,170.6 296.0,170.5 296.7,170.5 297.4,170.3 298.1,170.3 298.8,170.2 299.6,170.2 300.3,170.2 301.0,170.3 301.7,170.2 302.4,170.4 303.2,170.5 303.9,170.5 304.6,170.7 305.3,170.8 306.0,170.8 306.8,170.9 307.5,170.9 308.2,170.8 308.9,170.8 309.6,170.9 310.4,170.8 311.1,171.0 311.8,170.9 312.5,170.7 313.2,170.7 314.0,170.5 314.7,170.3 315.4,170.5 316.1,170.7 316.8,170.7 317.6,171.0 318.3,171.0 319.0,171.0 319.7,171.0 320.4,171.1 321.2,171.2 321.9,171.4 322.6,171.6 323.3,171.7 324.0,171.9 324.8,172.2 325.5,172.4 326.2,172.8 326.9,173.3 327.6,173.9 328.4,174.1 329.1,174.5 329.8,174.6 330.5,174.6 331.2,174.4 332.0,174.4 332.7,174.7 333.4,174.9 334.1,175.2 334.8,175.4 335.6,175.5 336.3,175.4 337.0,175.7 337.7,175.9 338.4,176.1 339.2,176.4 339.9,176.7 340.6,176.6 341.3,176.6 342.0,177.0 342.8,177.2 343.5,177.4 344.2,177.6 344.9,177.8 345.6,177.9 346.4,178.0 347.1,178.2 347.8,178.3 348.5,178.5 349.2,178.6 350.0,178.8 350.7,178.9 351.4,179.1 352.1,179.2 352.8,179.6 353.6,180.2 354.3,180.7 355.0,181.1 355.7,181.5 356.4,181.7 357.2,182.0 357.9,182.5 358.6,182.8 359.3,183.3 360.0,183.8 360.8,184.2 361.5,184.6 362.2,185.0 362.9,185.5 363.6,185.8 364.4,186.0 365.1,186.3 365.8,186.6 366.5,186.8 367.2,187.4 368.0,187.7 368.7,187.9 369.4,188.5 370.1,188.9 370.8,189.2 371.6,189.8 372.3,190.2 373.0,190.5 373.7,190.9 374.4,191.3 375.2,191.8 375.9,192.2 376.6,192.8 377.3,193.5 378.0,194.1 378.8,194.9 379.5,195.8 380.2,196.6 380.9,197.2 381.6,197.9 382.4,198.6 383.1,199.4 383.8,200.0 384.5,200.6 385.2,201.4 386.0,202.0 386.7,202.7 387.4,203.4 388.1,204.2 388.8,204.9 389.6,205.9 390.3,206.4 391.0,207.1 391.7,207.5 392.4,208.1 393.2,208.9 393.9,209.7 394.6,210.6 395.3,211.7 396.0,212.3 396.8,212.9 397.5,213.8 398.2,214.7 398.9,215.4 399.6,216.2 400.4,216.8 401.1,217.3 401.8,218.1 402.5,218.9 403.2,219.7 404.0,220.4 404.7,221.2 405.4,221.7 406.1,222.4 406.8,223.1 407.6,223.9 408.3,224.6 409.0,225.1 409.7,225.8 410.4,226.4 411.2,227.1 411.9,228.1 412.6,229.2 413.3,230.1 414.0,231.1 414.8,232.1 415.5,232.9 416.2,233.5 416.9,234.4 417.6,235.0 418.4,235.9 419.1,236.5 419.8,237.4 420.5,237.8 421.2,238.6 422.0,239.2 422.7,239.9 423.4,240.5 424.1,241.4 424.8,242.0 425.6,242.6 426.3,243.3 427.0,244.0 427.7,244.5 428.4,245.1 429.2,245.4 429.9,245.7 430.6,246.3 431.3,246.8 432.0,247.1 432.8,247.6 433.5,247.9 434.2,248.2 434.9,248.2 435.6,248.4 436.4,248.2 437.1,247.9 437.8,247.6 438.5,248.0 439.2,247.9 440.0,247.6 440.7,247.9 441.4,248.5 442.1,248.3 442.8,248.7 443.6,248.7 444.3,248.5 445.0,248.9 445.7,248.9 446.4,248.3 447.2,248.4 447.9,248.3 448.6,248.2 449.3,248.7 450.0,248.7 450.8,248.5 451.5,248.7 452.2,249.0 452.9,249.1 453.6,249.0 454.4,249.1 455.1,248.8 455.8,248.3 456.5,248.6 457.2,248.9 458.0,248.9 458.7,249.1 459.4,248.7 460.1,249.1 460.8,249.8 461.6,249.8 462.3,249.4 463.0,250.0 463.7,249.8 464.4,250.4 465.2,250.4 465.9,250.5 466.6,250.8 467.3,251.3 468.0,250.8 468.8,250.7 469.5,250.6 470.2,250.7 470.9,250.5 471.6,250.1 472.4,249.2 473.1,249.4 473.8,249.9 474.5,249.9 475.2,250.1 476.0,250.2 476.7,250.6 477.4,251.2 478.1,251.6 478.8,251.8 479.6,251.7 480.3,251.3 481.0,251.2 481.7,250.8 482.4,250.4 483.2,249.5 483.9,249.3 484.6,249.3 485.3,249.5 486.0,249.6 486.8,249.9 487.5,249.8 488.2,250.3 488.9,250.3 489.6,250.3 490.4,250.1 491.1,250.4 491.8,250.3 492.5,251.0 493.2,250.8 494.0,250.8 494.7,250.6 495.4,251.1 496.1,251.1 496.8,250.8 497.6,250.7 498.3,250.5 499.0,251.1 499.7,251.6 500.4,251.7 501.2,250.6 501.9,250.0 502.6,250.0 503.3,250.4 504.0,250.2 504.8,250.2 505.5,251.0 506.2,251.9 506.9,252.4 507.6,252.6 508.4,252.3 509.1,252.0 509.8,252.1 510.5,251.5 511.2,251.0 512.0,250.9 512.7,250.9 513.4,251.4 514.1,251.9 514.8,251.8 515.6,251.9 516.3,252.0 517.0,251.4 517.7,251.3 518.4,250.5 519.2,250.8 519.9,250.8 520.6,250.9 521.3,251.9 522.0,252.5 522.8,252.6 523.5,252.6 524.2,252.2 524.9,251.6" stroke="#95be5e" stroke-width="1.55" fill="none" stroke-linejoin="round"/>
<path d="M31.0,251.7 31.7,251.5 32.4,251.1 33.2,250.8 33.9,250.3 34.6,250.2 35.3,250.1 36.0,250.4 36.8,250.3 37.5,250.4 38.2,250.1 38.9,250.5 39.6,250.3 40.4,250.6 41.1,250.4 41.8,250.9 42.5,251.0 43.2,251.5 44.0,251.3 44.7,251.2 45.4,251.1 46.1,250.8 46.8,250.5 47.6,250.5 48.3,250.5 49.0,249.9 49.7,250.4 50.4,250.2 51.2,249.8 51.9,249.4 52.6,248.6 53.3,247.6 54.0,246.7 54.8,245.0 55.5,243.3 56.2,241.4 56.9,239.0 57.6,236.4 58.4,233.9 59.1,231.4 59.8,228.9 60.5,226.6 61.2,224.7 62.0,222.9 62.7,221.5 63.4,220.2 64.1,219.1 64.8,217.9 65.6,216.7 66.3,215.3 67.0,213.9 67.7,212.6 68.4,211.1 69.2,209.6 69.9,208.2 70.6,206.9 71.3,205.4 72.0,203.8 72.8,202.4 73.5,200.9 74.2,199.2 74.9,197.5 75.6,196.1 76.4,194.8 77.1,193.8 77.8,193.0 78.5,192.4 79.2,191.8 80.0,191.2 80.7,190.6 81.4,189.9 82.1,189.2 82.8,188.8 83.6,188.2 84.3,187.8 85.0,187.6 85.7,187.4 86.4,186.8 87.2,186.5 87.9,185.9 88.6,185.3 89.3,185.0 90.0,184.6 90.8,184.3 91.5,183.9 92.2,183.6 92.9,183.2 93.6,182.8 94.4,182.5 95.1,182.2 95.8,181.6 96.5,181.2 97.2,181.0 98.0,180.6 98.7,180.4 99.4,180.3 100.1,180.1 100.8,179.9 101.6,179.7 102.3,179.6 103.0,179.3 103.7,179.3 104.4,178.9 105.2,178.9 105.9,178.7 106.6,178.7 107.3,178.6 108.0,178.4 108.8,178.2 109.5,177.9 110.2,177.7 110.9,177.6 111.6,177.5 112.4,177.4 113.1,177.5 113.8,177.3 114.5,177.1 115.2,176.9 116.0,176.7 116.7,176.5 117.4,176.3 118.1,176.2 118.8,176.3 119.6,176.2 120.3,176.1 121.0,176.1 121.7,176.1 122.4,175.9 123.2,175.9 123.9,175.7 124.6,175.7 125.3,175.5 126.0,175.6 126.8,175.3 127.5,175.2 128.2,175.2 128.9,175.2 129.6,175.0 130.4,174.9 131.1,174.8 131.8,174.5 132.5,174.4 133.2,174.4 134.0,174.4 134.7,174.6 135.4,174.5 136.1,174.3 136.8,174.1 137.6,174.1 138.3,173.8 139.0,173.8 139.7,173.7 140.4,173.6 141.2,173.3 141.9,173.2 142.6,172.9 143.3,172.8 144.0,172.8 144.8,172.5 145.5,172.4 146.2,172.4 146.9,172.3 147.6,172.2 148.4,172.3 149.1,172.2 149.8,172.1 150.5,172.1 151.2,172.1 152.0,172.0 152.7,172.1 153.4,172.0 154.1,171.8 154.8,171.8 155.6,171.8 156.3,171.7 157.0,171.7 157.7,171.7 158.4,171.4 159.2,171.3 159.9,171.0 160.6,170.8 161.3,170.9 162.0,170.9 162.8,170.9 163.5,170.9 164.2,170.8 164.9,170.5 165.6,170.3 166.4,170.4 167.1,170.3 167.8,170.4 168.5,170.6 169.2,170.7 170.0,170.6 170.7,170.5 171.4,170.3 172.1,170.1 172.8,170.1 173.6,170.1 174.3,170.1 175.0,170.1 175.7,170.1 176.4,170.1 177.2,170.1 177.9,169.9 178.6,169.9 179.3,169.8 180.0,169.8 180.8,169.5 181.5,169.6 182.2,169.3 182.9,169.1 183.6,169.3 184.4,169.3 185.1,169.3 185.8,169.3 186.5,169.5 187.2,169.4 188.0,169.4 188.7,169.2 189.4,169.3 190.1,169.2 190.8,169.1 191.6,169.1 192.3,169.1 193.0,169.1 193.7,168.8 194.4,168.9 195.2,168.8 195.9,168.8 196.6,168.7 197.3,169.0 198.0,168.7 198.8,168.5 199.5,168.4 200.2,168.4 200.9,168.2 201.6,168.2 202.4,168.4 203.1,168.6 203.8,168.7 204.5,168.7 205.2,168.8 206.0,168.6 206.7,168.5 207.4,168.4 208.1,168.4 208.8,168.4 209.6,168.4 210.3,168.2 211.0,168.4 211.7,168.3 212.4,168.1 213.2,168.1 213.9,168.1 214.6,168.0 215.3,167.8 216.0,167.9 216.8,168.1 217.5,168.2 218.2,168.3 218.9,168.6 219.6,168.6 220.4,168.5 221.1,168.2 221.8,168.1 222.5,168.2 223.2,168.2 224.0,168.3 224.7,168.5 225.4,168.5 226.1,168.5 226.8,168.4 227.6,168.2 228.3,168.2 229.0,168.2 229.7,168.0 230.4,168.1 231.2,168.3 231.9,168.0 232.6,168.2 233.3,168.3 234.0,168.3 234.8,168.1 235.5,168.2 236.2,168.3 236.9,168.2 237.6,168.2 238.4,168.3 239.1,168.4 239.8,168.1 240.5,168.1 241.2,168.0 242.0,168.0 242.7,168.1 243.4,168.1 244.1,168.2 244.8,168.3 245.6,168.3 246.3,168.2 247.0,168.1 247.7,168.1 248.4,168.1 249.2,167.8 249.9,167.7 250.6,167.5 251.3,167.7 252.0,167.7 252.8,167.9 253.5,168.0 254.2,168.1 254.9,167.9 255.6,168.0 256.4,168.1 257.1,168.3 257.8,168.4 258.5,168.5 259.2,168.4 260.0,168.3 260.7,168.2 261.4,168.3 262.1,168.3 262.8,168.3 263.6,168.3 264.3,168.3 265.0,168.2 265.7,168.0 266.4,168.1 267.2,168.1 267.9,168.2 268.6,168.1 269.3,168.1 270.0,168.0 270.8,167.8 271.5,167.7 272.2,167.8 272.9,167.9 273.6,167.8 274.4,167.8 275.1,168.0 275.8,168.1 276.5,168.1 277.2,168.5 278.0,168.5 278.7,168.4 279.4,168.2 280.1,168.3 280.8,168.2 281.6,168.3 282.3,168.3 283.0,168.3 283.7,168.1 284.4,167.8 285.2,167.7 285.9,167.6 286.6,167.7 287.3,167.9 288.0,168.1 288.8,168.1 289.5,168.1 290.2,168.1 290.9,167.9 291.6,167.9 292.4,167.9 293.1,168.0 293.8,167.9 294.5,168.0 295.2,168.0 296.0,168.1 296.7,167.9 297.4,167.9 298.1,167.9 298.8,167.9 299.6,168.0 300.3,168.0 301.0,168.2 301.7,168.2 302.4,168.3 303.2,168.2 303.9,168.3 304.6,168.1 305.3,168.2 306.0,168.1 306.8,168.1 307.5,168.2 308.2,168.3 308.9,168.3 309.6,168.2 310.4,168.4 311.1,168.5 311.8,168.5 312.5,168.5 313.2,168.6 314.0,168.5 314.7,168.7 315.4,168.6 316.1,168.5 316.8,168.5 317.6,168.5 318.3,168.3 319.0,168.2 319.7,168.3 320.4,168.3 321.2,168.5 321.9,168.6 322.6,168.8 323.3,169.1 324.0,169.3 324.8,169.4 325.5,169.4 326.2,169.5 326.9,169.6 327.6,169.8 328.4,170.1 329.1,170.4 329.8,170.7 330.5,171.0 331.2,171.2 332.0,171.3 332.7,171.5 333.4,171.7 334.1,171.9 334.8,172.0 335.6,172.2 336.3,172.3 337.0,172.3 337.7,172.4 338.4,172.5 339.2,172.6 339.9,172.8 340.6,172.8 341.3,173.1 342.0,173.2 342.8,173.5 343.5,173.8 344.2,174.1 344.9,174.2 345.6,174.3 346.4,174.3 347.1,174.3 347.8,174.5 348.5,174.8 349.2,175.2 350.0,175.5 350.7,175.7 351.4,176.0 352.1,176.1 352.8,176.3 353.6,176.3 354.3,176.7 355.0,177.1 355.7,177.5 356.4,177.8 357.2,178.3 357.9,178.6 358.6,178.9 359.3,179.3 360.0,179.7 360.8,180.2 361.5,180.5 362.2,180.9 362.9,181.1 363.6,181.5 364.4,182.0 365.1,182.3 365.8,182.5 366.5,182.9 367.2,183.2 368.0,183.4 368.7,183.5 369.4,183.8 370.1,184.0 370.8,184.2 371.6,184.4 372.3,184.9 373.0,185.1 373.7,185.4 374.4,185.8 375.2,186.0 375.9,186.4 376.6,186.6 377.3,187.1 378.0,187.5 378.8,187.9 379.5,188.1 380.2,188.5 380.9,188.8 381.6,189.1 382.4,189.5 383.1,190.0 383.8,190.5 384.5,191.0 385.2,191.6 386.0,192.0 386.7,192.6 387.4,193.2 388.1,193.7 388.8,194.3 389.6,195.1 390.3,195.7 391.0,196.3 391.7,197.1 392.4,198.0 393.2,198.6 393.9,199.4 394.6,200.5 395.3,201.1 396.0,202.0 396.8,203.1 397.5,204.1 398.2,205.2 398.9,206.3 399.6,207.3 400.4,208.4 401.1,209.1 401.8,209.9 402.5,210.9 403.2,211.6 404.0,212.1 404.7,213.1 405.4,213.8 406.1,214.4 406.8,215.1 407.6,215.9 408.3,216.5 409.0,217.1 409.7,217.7 410.4,218.2 411.2,218.5 411.9,219.0 412.6,219.6 413.3,220.5 414.0,221.2 414.8,222.1 415.5,222.8 416.2,223.4 416.9,224.0 417.6,224.7 418.4,225.5 419.1,226.7 419.8,227.8 420.5,228.8 421.2,229.7 422.0,230.8 422.7,231.6 423.4,232.6 424.1,233.6 424.8,234.9 425.6,236.1 426.3,237.1 427.0,238.1 427.7,239.2 428.4,239.9 429.2,240.5 429.9,241.3 430.6,242.0 431.3,242.5 432.0,243.0 432.8,243.8 433.5,244.2 434.2,244.6 434.9,245.0 435.6,245.6 436.4,245.6 437.1,245.9 437.8,245.8 438.5,246.0 439.2,245.9 440.0,246.2 440.7,246.2 441.4,246.5 442.1,246.6 442.8,246.9 443.6,247.4 444.3,247.6 445.0,247.3 445.7,247.4 446.4,247.4 447.2,247.7 447.9,247.7 448.6,247.9 449.3,248.2 450.0,248.4 450.8,248.6 451.5,248.6 452.2,248.6 452.9,248.3 453.6,248.0 454.4,248.1 455.1,248.3 455.8,248.5 456.5,248.8 457.2,248.8 458.0,248.6 458.7,248.9 459.4,248.9 460.1,249.0 460.8,249.0 461.6,248.9 462.3,248.0 463.0,247.8 463.7,247.9 464.4,248.1 465.2,247.9 465.9,248.1 466.6,248.3 467.3,248.9 468.0,248.6 468.8,248.5 469.5,248.5 470.2,249.0 470.9,248.9 471.6,249.0 472.4,248.8 473.1,249.4 473.8,249.4 474.5,249.7 475.2,249.4 476.0,249.7 476.7,249.6 477.4,249.5 478.1,248.7 478.8,249.4 479.6,249.6 480.3,249.5 481.0,249.5 481.7,249.9 482.4,250.2 483.2,250.6 483.9,250.2 484.6,249.7 485.3,249.5 486.0,249.6 486.8,249.7 487.5,249.2 488.2,249.2 488.9,249.6 489.6,250.3 490.4,250.2 491.1,250.6 491.8,250.4 492.5,250.6 493.2,250.5 494.0,249.9 494.7,249.1 495.4,248.8 496.1,248.4 496.8,249.0 497.6,249.5 498.3,249.9 499.0,250.1 499.7,250.5 500.4,250.4 501.2,250.3 501.9,250.4 502.6,250.2 503.3,250.7 504.0,251.0 504.8,250.9 505.5,251.3 506.2,251.0 506.9,250.9 507.6,251.3 508.4,251.6 509.1,251.9 509.8,252.2 510.5,252.3 511.2,252.4 512.0,252.0 512.7,251.7 513.4,250.3 514.1,249.8 514.8,249.8 515.6,249.8 516.3,250.5 517.0,250.1 517.7,250.5 518.4,250.6 519.2,250.3 519.9,249.2 520.6,249.1 521.3,248.9 522.0,249.6 522.8,249.2 523.5,249.3 524.2,249.5 524.9,249.8" stroke="#74ccf2" stroke-width="1.55" fill="none" stroke-linejoin="round"/>
<path d="M31.0,252.1 31.7,251.3 32.4,250.1 33.2,249.8 33.9,249.8 34.6,249.7 35.3,249.2 36.0,249.3 36.8,249.4 37.5,249.9 38.2,249.8 38.9,250.1 39.6,249.8 40.4,250.4 41.1,250.6 41.8,250.9 42.5,251.0 43.2,251.2 44.0,251.1 44.7,250.6 45.4,249.9 46.1,249.0 46.8,248.8 47.6,248.7 48.3,248.8 49.0,248.0 49.7,247.5 50.4,246.7 51.2,245.2 51.9,243.4 52.6,241.5 53.3,239.1 54.0,236.6 54.8,234.0 55.5,231.3 56.2,228.5 56.9,226.1 57.6,223.7 58.4,221.6 59.1,219.7 59.8,218.0 60.5,216.1 61.2,214.5 62.0,212.9 62.7,211.1 63.4,209.3 64.1,207.5 64.8,205.5 65.6,203.4 66.3,201.2 67.0,199.1 67.7,197.0 68.4,195.2 69.2,193.7 69.9,192.5 70.6,191.4 71.3,190.6 72.0,189.7 72.8,188.9 73.5,188.3 74.2,187.5 74.9,186.7 75.6,186.2 76.4,185.6 77.1,184.9 77.8,184.4 78.5,184.0 79.2,183.3 80.0,182.9 80.7,182.4 81.4,181.9 82.1,181.4 82.8,181.0 83.6,180.5 84.3,180.1 85.0,179.8 85.7,179.4 86.4,179.1 87.2,178.9 87.9,178.7 88.6,178.5 89.3,178.1 90.0,178.0 90.8,177.7 91.5,177.3 92.2,177.1 92.9,177.2 93.6,176.9 94.4,176.6 95.1,176.5 95.8,176.4 96.5,176.2 97.2,176.1 98.0,176.2 98.7,176.2 99.4,176.1 100.1,175.8 100.8,175.7 101.6,175.5 102.3,175.3 103.0,175.3 103.7,175.3 104.4,175.1 105.2,174.9 105.9,174.8 106.6,174.3 107.3,174.2 108.0,173.9 108.8,173.9 109.5,173.7 110.2,173.8 110.9,173.8 111.6,173.8 112.4,173.6 113.1,173.4 113.8,173.3 114.5,173.0 115.2,173.1 116.0,172.8 116.7,172.8 117.4,172.7 118.1,172.6 118.8,172.3 119.6,172.4 120.3,172.5 121.0,172.3 121.7,172.3 122.4,172.2 123.2,172.0 123.9,171.7 124.6,171.5 125.3,171.3 126.0,171.2 126.8,171.2 127.5,170.9 128.2,170.8 128.9,170.7 129.6,170.7 130.4,170.5 131.1,170.4 131.8,170.4 132.5,170.2 133.2,170.1 134.0,170.2 134.7,170.3 135.4,170.0 136.1,170.1 136.8,170.1 137.6,169.8 138.3,169.7 139.0,169.8 139.7,169.7 140.4,169.5 141.2,169.6 141.9,169.6 142.6,169.6 143.3,169.6 144.0,169.5 144.8,169.3 145.5,169.2 146.2,169.0 146.9,168.7 147.6,168.7 148.4,168.6 149.1,168.4 149.8,168.3 150.5,168.3 151.2,168.2 152.0,168.2 152.7,168.3 153.4,168.1 154.1,168.1 154.8,168.1 155.6,168.1 156.3,168.0 157.0,168.0 157.7,167.9 158.4,167.8 159.2,167.7 159.9,167.6 160.6,167.6 161.3,167.5 162.0,167.4 162.8,167.5 163.5,167.5 164.2,167.5 164.9,167.4 165.6,167.5 166.4,167.3 167.1,167.2 167.8,167.1 168.5,167.1 169.2,166.9 170.0,166.9 170.7,166.9 171.4,167.1 172.1,167.2 172.8,167.2 173.6,167.2 174.3,167.1 175.0,166.9 175.7,166.8 176.4,166.7 177.2,166.8 177.9,167.0 178.6,166.9 179.3,167.0 180.0,167.2 180.8,167.2 181.5,167.1 182.2,167.3 182.9,167.2 183.6,167.0 184.4,167.0 185.1,166.9 185.8,166.7 186.5,166.8 187.2,166.9 188.0,166.8 188.7,166.8 189.4,167.0 190.1,166.8 190.8,166.6 191.6,166.6 192.3,166.5 193.0,166.3 193.7,166.4 194.4,166.5 195.2,166.7 195.9,166.6 196.6,166.8 197.3,167.0 198.0,167.0 198.8,167.0 199.5,167.1 200.2,167.0 200.9,166.8 201.6,166.7 202.4,166.6 203.1,166.7 203.8,166.5 204.5,166.4 205.2,166.5 206.0,166.5 206.7,166.5 207.4,166.6 208.1,166.6 208.8,166.7 209.6,166.7 210.3,166.7 211.0,166.9 211.7,167.0 212.4,167.0 213.2,166.9 213.9,166.7 214.6,166.4 215.3,166.2 216.0,166.0 216.8,166.1 217.5,166.2 218.2,166.4 218.9,166.6 219.6,166.6 220.4,166.6 221.1,166.6 221.8,166.6 222.5,166.6 223.2,166.6 224.0,166.8 224.7,166.8 225.4,166.9 226.1,166.9 226.8,166.9 227.6,166.7 228.3,166.7 229.0,166.6 229.7,166.6 230.4,166.5 231.2,166.4 231.9,166.4 232.6,166.5 233.3,166.6 234.0,166.6 234.8,166.7 235.5,166.9 236.2,166.8 236.9,166.9 237.6,166.8 238.4,166.7 239.1,166.6 239.8,166.5 240.5,166.4 241.2,166.5 242.0,166.4 242.7,166.7 243.4,166.8 244.1,166.9 244.8,166.8 245.6,166.7 246.3,166.6 247.0,166.5 247.7,166.6 248.4,166.6 249.2,166.7 249.9,166.6 250.6,166.6 251.3,166.3 252.0,166.4 252.8,166.4 253.5,166.5 254.2,166.7 254.9,166.8 255.6,166.8 256.4,166.8 257.1,166.9 257.8,166.9 258.5,167.0 259.2,167.0 260.0,166.9 260.7,166.9 261.4,166.6 262.1,166.3 262.8,166.3 263.6,166.3 264.3,166.3 265.0,166.4 265.7,166.4 266.4,166.5 267.2,166.5 267.9,166.6 268.6,166.7 269.3,166.7 270.0,166.7 270.8,166.7 271.5,166.6 272.2,166.6 272.9,166.5 273.6,166.5 274.4,166.7 275.1,166.6 275.8,166.7 276.5,166.7 277.2,166.5 278.0,166.1 278.7,166.2 279.4,166.0 280.1,166.0 280.8,166.2 281.6,166.4 282.3,166.4 283.0,166.5 283.7,166.7 284.4,166.9 285.2,166.8 285.9,166.9 286.6,166.9 287.3,166.9 288.0,166.7 288.8,166.8 289.5,166.8 290.2,166.6 290.9,166.6 291.6,166.7 292.4,166.7 293.1,166.6 293.8,166.9 294.5,167.0 295.2,166.9 296.0,167.0 296.7,166.9 297.4,166.7 298.1,166.7 298.8,166.8 299.6,166.5 300.3,166.6 301.0,166.8 301.7,166.7 302.4,166.6 303.2,166.8 303.9,166.7 304.6,166.8 305.3,166.6 306.0,166.7 306.8,166.5 307.5,166.5 308.2,166.5 308.9,166.6 309.6,166.6 310.4,166.9 311.1,167.0 311.8,167.0 312.5,167.0 313.2,167.1 314.0,167.0 314.7,167.0 315.4,167.0 316.1,167.0 316.8,167.1 317.6,167.0 318.3,166.9 319.0,166.8 319.7,166.8 320.4,166.8 321.2,166.9 321.9,167.1 322.6,167.1 323.3,167.3 324.0,167.5 324.8,167.8 325.5,168.1 326.2,168.4 326.9,168.7 327.6,169.1 328.4,169.5 329.1,169.8 329.8,170.1 330.5,170.4 331.2,170.6 332.0,170.9 332.7,170.9 333.4,171.1 334.1,171.2 334.8,171.3 335.6,171.1 336.3,171.2 337.0,171.2 337.7,171.4 338.4,171.4 339.2,171.8 339.9,172.0 340.6,172.3 341.3,172.4 342.0,172.5 342.8,172.4 343.5,172.5 344.2,172.6 344.9,172.7 345.6,172.8 346.4,173.2 347.1,173.2 347.8,173.3 348.5,173.6 349.2,173.9 350.0,173.9 350.7,174.1 351.4,174.3 352.1,174.4 352.8,174.6 353.6,175.1 354.3,175.4 355.0,175.7 355.7,175.9 356.4,176.2 357.2,176.3 357.9,176.5 358.6,176.8 359.3,177.1 360.0,177.3 360.8,177.6 361.5,178.0 362.2,178.5 362.9,178.6 363.6,178.8 364.4,179.1 365.1,179.1 365.8,179.1 366.5,179.4 367.2,179.7 368.0,180.0 368.7,180.2 369.4,180.4 370.1,180.5 370.8,180.8 371.6,181.1 372.3,181.4 373.0,182.0 373.7,182.3 374.4,182.6 375.2,182.8 375.9,183.1 376.6,183.1 377.3,183.4 378.0,183.7 378.8,184.0 379.5,184.2 380.2,184.6 380.9,185.1 381.6,185.4 382.4,185.8 383.1,186.3 383.8,186.7 384.5,186.9 385.2,187.3 386.0,187.5 386.7,188.0 387.4,188.4 388.1,188.9 388.8,189.6 389.6,190.2 390.3,190.7 391.0,191.2 391.7,191.7 392.4,192.2 393.2,192.7 393.9,193.2 394.6,193.7 395.3,194.4 396.0,195.0 396.8,195.8 397.5,196.6 398.2,197.5 398.9,198.3 399.6,199.1 400.4,200.1 401.1,201.3 401.8,202.6 402.5,203.7 403.2,204.8 404.0,205.8 404.7,206.7 405.4,207.5 406.1,208.2 406.8,208.8 407.6,209.4 408.3,210.1 409.0,210.5 409.7,211.2 410.4,211.8 411.2,212.4 411.9,213.0 412.6,213.9 413.3,214.6 414.0,215.5 414.8,216.1 415.5,216.8 416.2,217.3 416.9,218.0 417.6,218.8 418.4,219.5 419.1,220.1 419.8,220.6 420.5,221.0 421.2,221.6 422.0,222.2 422.7,222.9 423.4,223.6 424.1,224.3 424.8,225.0 425.6,225.8 426.3,226.5 427.0,227.4 427.7,228.1 428.4,228.7 429.2,229.4 429.9,229.9 430.6,230.5 431.3,231.0 432.0,231.6 432.8,232.3 433.5,233.3 434.2,234.2 434.9,235.3 435.6,236.4 436.4,237.5 437.1,238.5 437.8,239.4 438.5,240.1 439.2,240.8 440.0,241.5 440.7,242.0 441.4,242.5 442.1,243.2 442.8,243.7 443.6,244.1 444.3,244.5 445.0,244.8 445.7,244.9 446.4,245.2 447.2,245.3 447.9,245.5 448.6,245.6 449.3,246.0 450.0,246.1 450.8,246.2 451.5,246.3 452.2,246.3 452.9,246.3 453.6,246.8 454.4,246.5 455.1,246.6 455.8,246.7 456.5,246.5 457.2,246.5 458.0,246.3 458.7,246.4 459.4,246.6 460.1,247.0 460.8,247.4 461.6,247.7 462.3,247.5 463.0,247.5 463.7,247.7 464.4,247.7 465.2,247.8 465.9,248.1 466.6,247.9 467.3,247.8 468.0,247.9 468.8,247.8 469.5,248.3 470.2,248.3 470.9,248.2 471.6,248.3 472.4,248.6 473.1,248.7 473.8,248.9 474.5,249.0 475.2,249.2 476.0,249.3 476.7,249.2 477.4,248.8 478.1,249.2 478.8,249.1 479.6,248.9 480.3,248.9 481.0,248.5 481.7,248.6 482.4,248.7 483.2,248.2 483.9,248.5 484.6,248.4 485.3,248.9 486.0,249.3 486.8,249.7 487.5,250.0 488.2,250.5 488.9,250.3 489.6,250.2 490.4,249.9 491.1,249.8 491.8,250.1 492.5,250.2 493.2,249.8 494.0,250.0 494.7,250.3 495.4,250.4 496.1,250.4 496.8,249.8 497.6,250.0 498.3,249.7 499.0,249.6 499.7,250.0 500.4,250.1 501.2,250.2 501.9,250.2 502.6,250.6 503.3,250.5 504.0,250.0 504.8,250.0 505.5,249.8 506.2,249.7 506.9,249.7 507.6,249.4 508.4,249.4 509.1,249.8 509.8,249.4 510.5,249.5 511.2,249.5 512.0,249.7 512.7,250.3 513.4,250.5 514.1,250.5 514.8,250.2 515.6,249.7 516.3,249.8 517.0,250.2 517.7,249.8 518.4,249.7 519.2,249.8 519.9,250.1 520.6,250.5 521.3,250.2 522.0,249.9 522.8,249.5 523.5,249.7 524.2,249.9 524.9,250.0" stroke="#b6485d" stroke-width="1.55" fill="none" stroke-linejoin="round"/>
<path d="M31.0,250.3 31.7,250.3 32.4,250.7 33.2,250.6 33.9,250.7 34.6,250.8 35.3,250.5 36.0,250.3 36.8,251.0 37.5,250.6 38.2,250.5 38.9,250.3 39.6,249.9 40.4,250.2 41.1,249.6 41.8,249.6 42.5,250.1 43.2,250.5 44.0,250.4 44.7,251.2 45.4,251.5 46.1,250.6 46.8,250.7 47.6,250.6 48.3,250.1 49.0,249.8 49.7,249.2 50.4,248.2 51.2,247.7 51.9,246.4 52.6,244.4 53.3,242.7 54.0,240.4 54.8,237.9 55.5,235.2 56.2,232.5 56.9,229.6 57.6,226.9 58.4,224.0 59.1,221.4 59.8,218.9 60.5,216.4 61.2,213.8 62.0,211.3 62.7,208.6 63.4,206.1 64.1,203.9 64.8,202.0 65.6,200.3 66.3,198.9 67.0,197.9 67.7,197.1 68.4,196.3 69.2,195.4 69.9,194.7 70.6,193.6 71.3,192.5 72.0,191.3 72.8,190.3 73.5,189.2 74.2,188.3 74.9,187.4 75.6,186.7 76.4,185.9 77.1,185.2 77.8,184.6 78.5,184.0 79.2,183.5 80.0,182.7 80.7,182.4 81.4,181.8 82.1,181.2 82.8,180.8 83.6,180.6 84.3,180.1 85.0,179.7 85.7,179.1 86.4,178.6 87.2,178.1 87.9,177.7 88.6,177.3 89.3,177.1 90.0,176.4 90.8,176.2 91.5,175.7 92.2,175.4 92.9,175.1 93.6,175.1 94.4,174.9 95.1,174.8 95.8,174.8 96.5,174.8 97.2,174.5 98.0,174.5 98.7,174.2 99.4,173.9 100.1,173.6 100.8,173.5 101.6,173.2 102.3,173.3 103.0,173.2 103.7,173.0 104.4,172.9 105.2,172.8 105.9,172.7 106.6,172.7 107.3,172.5 108.0,172.5 108.8,172.6 109.5,172.4 110.2,172.1 110.9,172.1 111.6,171.9 112.4,171.7 113.1,171.6 113.8,171.7 114.5,171.4 115.2,171.3 116.0,171.2 116.7,171.1 117.4,170.8 118.1,170.7 118.8,170.9 119.6,170.7 120.3,170.7 121.0,170.6 121.7,170.6 122.4,170.3 123.2,170.4 123.9,170.3 124.6,170.5 125.3,170.6 126.0,170.6 126.8,170.4 127.5,170.1 128.2,169.9 128.9,169.7 129.6,169.5 130.4,169.4 131.1,169.3 131.8,169.1 132.5,169.0 133.2,168.8 134.0,168.9 134.7,168.9 135.4,168.9 136.1,168.9 136.8,168.8 137.6,168.6 138.3,168.7 139.0,168.3 139.7,168.3 140.4,168.3 141.2,168.1 141.9,167.7 142.6,167.7 143.3,167.6 144.0,167.5 144.8,167.6 145.5,167.8 146.2,168.1 146.9,167.9 147.6,167.9 148.4,167.9 149.1,167.9 149.8,167.5 150.5,167.4 151.2,167.2 152.0,167.0 152.7,166.9 153.4,167.0 154.1,166.9 154.8,166.9 155.6,166.8 156.3,166.7 157.0,166.7 157.7,166.8 158.4,166.9 159.2,167.2 159.9,167.3 160.6,167.1 161.3,167.3 162.0,167.3 162.8,167.1 163.5,167.1 164.2,167.3 164.9,167.1 165.6,167.0 166.4,167.1 167.1,167.0 167.8,166.8 168.5,166.7 169.2,166.5 170.0,166.6 170.7,166.7 171.4,166.7 172.1,166.7 172.8,166.8 173.6,166.8 174.3,166.9 175.0,166.9 175.7,166.7 176.4,166.6 177.2,166.7 177.9,166.6 178.6,166.5 179.3,166.5 180.0,166.5 180.8,166.5 181.5,166.5 182.2,166.5 182.9,166.3 183.6,166.6 184.4,166.5 185.1,166.3 185.8,166.2 186.5,166.4 187.2,166.2 188.0,166.1 188.7,166.4 189.4,166.5 190.1,166.5 190.8,166.4 191.6,166.3 192.3,166.2 193.0,166.1 193.7,166.0 194.4,166.0 195.2,166.3 195.9,166.3 196.6,166.2 197.3,166.3 198.0,166.4 198.8,166.5 199.5,166.4 200.2,166.4 200.9,166.6 201.6,166.4 202.4,166.4 203.1,166.6 203.8,166.8 204.5,166.5 205.2,166.5 206.0,166.4 206.7,166.4 207.4,166.3 208.1,166.4 208.8,166.4 209.6,166.5 210.3,166.4 211.0,166.4 211.7,166.3 212.4,166.4 213.2,166.3 213.9,166.4 214.6,166.4 215.3,166.3 216.0,166.1 216.8,166.0 217.5,166.1 218.2,166.1 218.9,166.1 219.6,166.4 220.4,166.3 221.1,166.3 221.8,166.2 222.5,166.3 223.2,166.0 224.0,166.1 224.7,166.0 225.4,166.0 226.1,165.9 226.8,166.2 227.6,166.2 228.3,166.2 229.0,166.1 229.7,166.1 230.4,165.8 231.2,165.7 231.9,165.8 232.6,165.9 233.3,165.9 234.0,166.0 234.8,166.0 235.5,165.9 236.2,165.9 236.9,165.9 237.6,165.9 238.4,165.9 239.1,166.2 239.8,166.3 240.5,166.3 241.2,166.5 242.0,166.5 242.7,166.4 243.4,166.4 244.1,166.4 244.8,166.1 245.6,166.1 246.3,166.0 247.0,166.0 247.7,166.1 248.4,166.2 249.2,166.3 249.9,166.3 250.6,166.2 251.3,166.0 252.0,166.0 252.8,166.2 253.5,166.3 254.2,166.4 254.9,166.3 255.6,166.3 256.4,166.1 257.1,166.2 257.8,166.4 258.5,166.4 259.2,166.4 260.0,166.3 260.7,166.1 261.4,165.8 262.1,165.8 262.8,165.8 263.6,166.0 264.3,165.9 265.0,166.2 265.7,166.2 266.4,166.3 267.2,166.1 267.9,166.3 268.6,166.3 269.3,166.6 270.0,166.4 270.8,166.5 271.5,166.4 272.2,166.3 272.9,166.1 273.6,166.2 274.4,166.1 275.1,166.0 275.8,166.1 276.5,166.0 277.2,166.0 278.0,166.1 278.7,166.1 279.4,166.1 280.1,166.2 280.8,166.2 281.6,166.1 282.3,166.2 283.0,166.3 283.7,166.2 284.4,166.2 285.2,166.3 285.9,166.3 286.6,166.1 287.3,166.3 288.0,166.3 288.8,166.4 289.5,166.4 290.2,166.5 290.9,166.5 291.6,166.6 292.4,166.6 293.1,166.5 293.8,166.6 294.5,166.4 295.2,166.2 296.0,166.1 296.7,166.2 297.4,166.3 298.1,166.4 298.8,166.6 299.6,166.5 300.3,166.6 301.0,166.6 301.7,166.6 302.4,166.4 303.2,166.7 303.9,166.7 304.6,166.6 305.3,166.6 306.0,166.7 306.8,166.6 307.5,166.5 308.2,166.6 308.9,166.4 309.6,166.4 310.4,166.3 311.1,166.1 311.8,166.1 312.5,166.2 313.2,166.3 314.0,166.3 314.7,166.5 315.4,166.6 316.1,166.6 316.8,166.7 317.6,166.7 318.3,166.7 319.0,166.7 319.7,166.6 320.4,166.6 321.2,166.9 321.9,166.8 322.6,166.9 323.3,167.1 324.0,167.0 324.8,167.1 325.5,167.1 326.2,167.1 326.9,167.0 327.6,167.1 328.4,167.0 329.1,167.0 329.8,167.1 330.5,167.2 331.2,167.2 332.0,167.5 332.7,167.7 333.4,167.9 334.1,167.9 334.8,168.1 335.6,168.1 336.3,168.3 337.0,168.5 337.7,168.6 338.4,168.9 339.2,169.0 339.9,169.0 340.6,169.3 341.3,169.5 342.0,169.6 342.8,169.8 343.5,170.1 344.2,170.1 344.9,170.3 345.6,170.5 346.4,170.5 347.1,170.5 347.8,170.6 348.5,170.6 349.2,170.6 350.0,170.8 350.7,171.2 351.4,171.5 352.1,171.8 352.8,171.9 353.6,172.3 354.3,172.5 355.0,172.6 355.7,172.8 356.4,173.0 357.2,173.2 357.9,173.4 358.6,173.7 359.3,174.0 360.0,174.2 360.8,174.3 361.5,174.7 362.2,174.8 362.9,175.2 363.6,175.5 364.4,175.9 365.1,175.9 365.8,176.1 366.5,176.3 367.2,176.4 368.0,176.6 368.7,176.9 369.4,177.1 370.1,177.2 370.8,177.6 371.6,177.8 372.3,178.1 373.0,178.4 373.7,178.5 374.4,178.9 375.2,179.4 375.9,179.8 376.6,180.1 377.3,180.5 378.0,180.7 378.8,180.8 379.5,180.9 380.2,181.2 380.9,181.6 381.6,181.9 382.4,182.2 383.1,182.6 383.8,182.8 384.5,183.1 385.2,183.4 386.0,183.6 386.7,183.9 387.4,184.4 388.1,184.9 388.8,185.1 389.6,185.4 390.3,185.9 391.0,186.3 391.7,186.7 392.4,187.2 393.2,187.8 393.9,188.2 394.6,188.7 395.3,189.1 396.0,189.7 396.8,190.2 397.5,190.7 398.2,191.3 398.9,191.7 399.6,192.2 400.4,192.8 401.1,193.3 401.8,193.7 402.5,194.7 403.2,195.3 404.0,195.9 404.7,196.9 405.4,197.6 406.1,198.2 406.8,199.3 407.6,200.3 408.3,201.3 409.0,202.5 409.7,203.9 410.4,204.9 411.2,206.0 411.9,207.0 412.6,207.9 413.3,208.6 414.0,209.4 414.8,210.1 415.5,211.0 416.2,211.5 416.9,212.0 417.6,212.6 418.4,213.3 419.1,213.7 419.8,214.6 420.5,215.7 421.2,216.4 422.0,217.1 422.7,217.7 423.4,218.4 424.1,218.8 424.8,219.5 425.6,220.2 426.3,220.9 427.0,221.4 427.7,222.1 428.4,222.6 429.2,223.1 429.9,223.5 430.6,224.2 431.3,224.7 432.0,225.4 432.8,226.1 433.5,227.0 434.2,227.9 434.9,228.8 435.6,229.2 436.4,229.8 437.1,230.4 437.8,230.8 438.5,231.3 439.2,232.2 440.0,232.6 440.7,233.2 441.4,234.1 442.1,235.1 442.8,236.1 443.6,237.4 444.3,238.5 445.0,239.5 445.7,240.4 446.4,240.9 447.2,241.7 447.9,242.3 448.6,242.7 449.3,243.2 450.0,243.7 450.8,244.0 451.5,244.3 452.2,244.5 452.9,244.7 453.6,244.8 454.4,244.8 455.1,245.0 455.8,245.2 456.5,245.3 457.2,245.4 458.0,245.7 458.7,245.8 459.4,245.9 460.1,246.0 460.8,246.1 461.6,246.0 462.3,246.1 463.0,246.1 463.7,246.3 464.4,246.3 465.2,246.6 465.9,246.5 466.6,246.4 467.3,246.4 468.0,246.8 468.8,246.9 469.5,246.9 470.2,247.2 470.9,247.6 471.6,247.5 472.4,247.6 473.1,247.4 473.8,247.7 474.5,248.1 475.2,247.8 476.0,247.9 476.7,248.2 477.4,248.1 478.1,247.9 478.8,248.1 479.6,248.1 480.3,248.4 481.0,248.0 481.7,248.3 482.4,248.1 483.2,247.8 483.9,247.7 484.6,247.9 485.3,248.3 486.0,248.5 486.8,248.6 487.5,249.0 488.2,249.1 488.9,249.0 489.6,249.2 490.4,249.6 491.1,250.0 491.8,249.6 492.5,249.5 493.2,249.6 494.0,249.4 494.7,249.3 495.4,248.7 496.1,248.9 496.8,249.0 497.6,249.2 498.3,249.3 499.0,249.3 499.7,249.3 500.4,249.8 501.2,250.3 501.9,250.4 502.6,250.5 503.3,250.2 504.0,250.1 504.8,250.3 505.5,249.5 506.2,250.0 506.9,250.2 507.6,250.3 508.4,250.7 509.1,250.8 509.8,250.3 510.5,250.7 511.2,250.3 512.0,249.8 512.7,249.1 513.4,249.5 514.1,249.5 514.8,249.5 515.6,250.2 516.3,250.7 517.0,250.6 517.7,250.3 518.4,249.8 519.2,250.2 519.9,250.3 520.6,249.8 521.3,248.9 522.0,249.4 522.8,249.9 523.5,249.9 524.2,249.8 524.9,250.2" stroke="#3891cc" stroke-width="1.55" fill="none" stroke-linejoin="round"/>
<path d="M31.0,251.5 31.7,251.2 32.4,251.5 33.2,251.6 33.9,251.0 34.6,251.0 35.3,250.9 36.0,250.4 36.8,251.0 37.5,251.2 38.2,251.1 38.9,250.9 39.6,250.8 40.4,250.7 41.1,250.9 41.8,250.6 42.5,250.1 43.2,250.3 44.0,250.0 44.7,249.6 45.4,249.3 46.1,249.7 46.8,250.0 47.6,249.6 48.3,248.8 49.0,248.0 49.7,246.9 50.4,245.1 51.2,243.4 51.9,241.4 52.6,239.0 53.3,236.3 54.0,233.7 54.8,230.8 55.5,227.9 56.2,225.1 56.9,222.2 57.6,219.3 58.4,216.4 59.1,213.6 59.8,210.8 60.5,208.0 61.2,205.4 62.0,203.3 62.7,201.3 63.4,200.1 64.1,198.8 64.8,197.8 65.6,196.7 66.3,195.8 67.0,194.8 67.7,194.0 68.4,193.0 69.2,191.8 69.9,190.6 70.6,189.5 71.3,188.3 72.0,187.2 72.8,186.4 73.5,185.5 74.2,184.6 74.9,184.0 75.6,183.3 76.4,182.3 77.1,181.7 77.8,181.0 78.5,180.3 79.2,179.8 80.0,179.4 80.7,178.9 81.4,178.2 82.1,177.8 82.8,177.1 83.6,176.6 84.3,176.2 85.0,175.9 85.7,175.4 86.4,175.0 87.2,174.5 87.9,174.1 88.6,173.8 89.3,173.5 90.0,173.2 90.8,172.9 91.5,172.7 92.2,172.3 92.9,172.2 93.6,172.1 94.4,172.0 95.1,172.0 95.8,172.0 96.5,171.8 97.2,171.8 98.0,171.6 98.7,171.4 99.4,171.1 100.1,171.0 100.8,170.8 101.6,170.8 102.3,170.7 103.0,170.9 103.7,170.8 104.4,170.7 105.2,170.6 105.9,170.4 106.6,170.2 107.3,170.2 108.0,170.0 108.8,169.7 109.5,169.8 110.2,169.7 110.9,169.6 111.6,169.7 112.4,169.7 113.1,169.6 113.8,169.6 114.5,169.5 115.2,169.4 116.0,169.3 116.7,169.2 117.4,169.1 118.1,168.9 118.8,168.9 119.6,168.9 120.3,168.9 121.0,168.9 121.7,168.8 122.4,168.9 123.2,168.7 123.9,168.6 124.6,168.5 125.3,168.6 126.0,168.4 126.8,168.4 127.5,168.4 128.2,168.5 128.9,168.3 129.6,168.2 130.4,168.2 131.1,167.8 131.8,167.7 132.5,167.7 133.2,167.7 134.0,167.7 134.7,167.8 135.4,167.7 136.1,167.7 136.8,167.5 137.6,167.5 138.3,167.5 139.0,167.4 139.7,167.4 140.4,167.6 141.2,167.6 141.9,167.5 142.6,167.5 143.3,167.6 144.0,167.4 144.8,167.1 145.5,167.2 146.2,167.2 146.9,166.8 147.6,166.7 148.4,166.7 149.1,166.4 149.8,166.3 150.5,166.4 151.2,166.6 152.0,166.7 152.7,166.8 153.4,166.8 154.1,166.9 154.8,166.8 155.6,166.9 156.3,166.7 157.0,166.6 157.7,166.5 158.4,166.6 159.2,166.4 159.9,166.6 160.6,166.7 161.3,166.6 162.0,166.4 162.8,166.6 163.5,166.4 164.2,166.4 164.9,166.5 165.6,166.6 166.4,166.4 167.1,166.5 167.8,166.7 168.5,166.7 169.2,166.6 170.0,166.5 170.7,166.5 171.4,166.3 172.1,166.1 172.8,166.1 173.6,166.0 174.3,165.8 175.0,166.1 175.7,166.2 176.4,166.2 177.2,166.2 177.9,166.5 178.6,166.1 179.3,166.0 180.0,166.1 180.8,166.1 181.5,166.1 182.2,166.2 182.9,166.3 183.6,166.1 184.4,166.2 185.1,166.1 185.8,166.1 186.5,166.1 187.2,166.2 188.0,166.2 188.7,166.2 189.4,166.1 190.1,166.0 190.8,165.9 191.6,165.9 192.3,165.7 193.0,165.9 193.7,166.1 194.4,166.0 195.2,166.0 195.9,166.1 196.6,166.1 197.3,166.0 198.0,165.9 198.8,166.0 199.5,165.9 200.2,166.0 200.9,165.9 201.6,166.1 202.4,166.0 203.1,166.1 203.8,166.1 204.5,166.2 205.2,166.2 206.0,166.2 206.7,166.2 207.4,166.0 208.1,166.1 208.8,166.0 209.6,165.9 210.3,165.9 211.0,166.2 211.7,166.1 212.4,166.2 213.2,166.2 213.9,166.5 214.6,166.1 215.3,166.0 216.0,165.8 216.8,165.9 217.5,165.6 218.2,165.8 218.9,165.8 219.6,166.1 220.4,166.2 221.1,166.2 221.8,166.0 222.5,165.9 223.2,165.8 224.0,165.7 224.7,165.4 225.4,165.8 226.1,165.9 226.8,166.0 227.6,165.8 228.3,166.0 229.0,165.8 229.7,165.7 230.4,165.5 231.2,165.4 231.9,165.6 232.6,165.7 233.3,165.7 234.0,165.6 234.8,165.8 235.5,165.5 236.2,165.4 236.9,165.4 237.6,165.5 238.4,165.4 239.1,165.7 239.8,165.8 240.5,165.8 241.2,165.9 242.0,166.0 242.7,166.0 243.4,166.2 244.1,166.2 244.8,166.0 245.6,165.8 246.3,165.7 247.0,165.6 247.7,165.7 248.4,165.7 249.2,165.8 249.9,165.9 250.6,165.8 251.3,165.7 252.0,165.6 252.8,165.5 253.5,165.5 254.2,165.5 254.9,165.6 255.6,165.7 256.4,165.7 257.1,165.9 257.8,165.8 258.5,165.9 259.2,165.8 260.0,165.9 260.7,165.7 261.4,165.7 262.1,165.7 262.8,165.5 263.6,165.5 264.3,165.5 265.0,165.4 265.7,165.3 266.4,165.4 267.2,165.6 267.9,165.5 268.6,165.7 269.3,165.7 270.0,165.8 270.8,165.6 271.5,165.6 272.2,165.6 272.9,165.7 273.6,165.7 274.4,165.7 275.1,166.0 275.8,166.0 276.5,166.0 277.2,165.9 278.0,166.0 278.7,165.8 279.4,165.7 280.1,165.6 280.8,165.6 281.6,165.6 282.3,165.7 283.0,165.7 283.7,165.7 284.4,165.9 285.2,165.8 285.9,166.0 286.6,166.0 287.3,166.1 288.0,165.8 288.8,165.8 289.5,165.8 290.2,165.6 290.9,165.5 291.6,165.6 292.4,165.7 293.1,165.5 293.8,165.6 294.5,165.7 295.2,165.6 296.0,165.6 296.7,165.8 297.4,165.9 298.1,165.8 298.8,165.7 299.6,165.5 300.3,165.3 301.0,165.2 301.7,165.3 302.4,165.4 303.2,165.5 303.9,165.6 304.6,165.6 305.3,165.6 306.0,165.6 306.8,165.7 307.5,165.6 308.2,165.6 308.9,165.6 309.6,165.7 310.4,165.5 311.1,165.5 311.8,165.6 312.5,165.5 313.2,165.5 314.0,165.6 314.7,165.6 315.4,165.7 316.1,165.6 316.8,165.6 317.6,165.5 318.3,165.5 319.0,165.4 319.7,165.6 320.4,165.5 321.2,165.8 321.9,165.7 322.6,165.6 323.3,165.4 324.0,165.4 324.8,165.3 325.5,165.5 326.2,165.6 326.9,165.7 327.6,165.8 328.4,165.9 329.1,165.9 329.8,166.1 330.5,166.2 331.2,166.3 332.0,166.1 332.7,166.1 333.4,166.1 334.1,166.1 334.8,166.0 335.6,166.1 336.3,166.1 337.0,166.0 337.7,166.1 338.4,166.3 339.2,166.4 339.9,166.6 340.6,166.7 341.3,166.7 342.0,166.7 342.8,166.7 343.5,167.0 344.2,167.2 344.9,167.5 345.6,167.6 346.4,167.8 347.1,168.0 347.8,168.2 348.5,168.4 349.2,168.5 350.0,168.8 350.7,168.9 351.4,169.0 352.1,169.1 352.8,169.4 353.6,169.5 354.3,169.7 355.0,170.0 355.7,170.2 356.4,170.4 357.2,170.7 357.9,171.0 358.6,171.2 359.3,171.3 360.0,171.5 360.8,171.8 361.5,172.1 362.2,172.4 362.9,172.8 363.6,173.1 364.4,173.0 365.1,173.0 365.8,173.0 366.5,173.2 367.2,173.3 368.0,173.8 368.7,174.1 369.4,174.5 370.1,174.6 370.8,174.8 371.6,175.0 372.3,175.2 373.0,175.5 373.7,175.7 374.4,176.0 375.2,176.1 375.9,176.4 376.6,176.5 377.3,176.6 378.0,176.9 378.8,177.1 379.5,177.4 380.2,177.7 380.9,178.3 381.6,178.7 382.4,179.1 383.1,179.5 383.8,179.9 384.5,180.2 385.2,180.5 386.0,180.7 386.7,180.9 387.4,181.2 388.1,181.4 388.8,181.8 389.6,182.0 390.3,182.4 391.0,182.8 391.7,183.2 392.4,183.5 393.2,184.0 393.9,184.1 394.6,184.3 395.3,184.5 396.0,184.9 396.8,185.1 397.5,185.6 398.2,186.0 398.9,186.6 399.6,187.3 400.4,188.0 401.1,188.6 401.8,189.3 402.5,189.9 403.2,190.4 404.0,190.9 404.7,191.6 405.4,192.4 406.1,193.2 406.8,194.1 407.6,195.1 408.3,196.2 409.0,197.2 409.7,198.2 410.4,199.2 411.2,200.3 411.9,201.2 412.6,202.1 413.3,203.1 414.0,204.1 414.8,205.1 415.5,206.1 416.2,207.2 416.9,208.2 417.6,209.0 418.4,209.8 419.1,210.4 419.8,211.1 420.5,211.9 421.2,212.6 422.0,213.4 422.7,214.2 423.4,214.8 424.1,215.4 424.8,216.0 425.6,216.5 426.3,217.0 427.0,217.7 427.7,218.3 428.4,218.9 429.2,219.5 429.9,220.0 430.6,220.5 431.3,221.2 432.0,221.8 432.8,222.4 433.5,222.9 434.2,223.5 434.9,224.0 435.6,224.5 436.4,224.9 437.1,225.4 437.8,226.1 438.5,226.9 439.2,227.4 440.0,228.2 440.7,229.0 441.4,229.5 442.1,230.1 442.8,230.8 443.6,231.4 444.3,232.2 445.0,233.1 445.7,234.0 446.4,235.2 447.2,236.5 447.9,237.7 448.6,238.8 449.3,239.9 450.0,240.7 450.8,241.3 451.5,241.8 452.2,242.3 452.9,242.9 453.6,243.3 454.4,243.7 455.1,244.2 455.8,244.4 456.5,244.4 457.2,244.5 458.0,244.7 458.7,244.9 459.4,245.0 460.1,245.1 460.8,245.5 461.6,245.5 462.3,245.6 463.0,245.8 463.7,246.1 464.4,246.1 465.2,246.0 465.9,246.1 466.6,246.1 467.3,246.1 468.0,246.0 468.8,246.4 469.5,246.5 470.2,246.6 470.9,246.9 471.6,247.0 472.4,246.8 473.1,246.9 473.8,247.0 474.5,247.2 475.2,247.2 476.0,247.6 476.7,247.9 477.4,248.1 478.1,248.3 478.8,248.6 479.6,248.5 480.3,248.7 481.0,248.6 481.7,248.8 482.4,248.7 483.2,249.0 483.9,249.3 484.6,249.5 485.3,250.1 486.0,250.3 486.8,249.9 487.5,250.5 488.2,250.2 488.9,249.8 489.6,250.0 490.4,249.4 491.1,249.4 491.8,249.8 492.5,249.3 493.2,249.5 494.0,249.9 494.7,249.8 495.4,250.4 496.1,250.9 496.8,250.6 497.6,250.8 498.3,250.7 499.0,250.6 499.7,250.9 500.4,250.8 501.2,250.7 501.9,250.6 502.6,250.9 503.3,251.2 504.0,251.1 504.8,251.2 505.5,252.0 506.2,251.9 506.9,252.5 507.6,252.6 508.4,252.6 509.1,252.6 509.8,252.5 510.5,252.4 511.2,252.6 512.0,252.4 512.7,251.7 513.4,251.9 514.1,252.0 514.8,252.6 515.6,252.3 516.3,252.0 517.0,251.8 517.7,251.9 518.4,251.4 519.2,250.8 519.9,250.8 520.6,250.7 521.3,250.4 522.0,249.9 522.8,249.6 523.5,249.6 524.2,249.9 524.9,250.4" stroke="#e1794c" stroke-width="1.55" fill="none" stroke-linejoin="round"/>
<path d="M31.0,252.1 31.7,251.7 32.4,250.9 33.2,250.8 33.9,250.4 34.6,250.6 35.3,249.9 36.0,249.9 36.8,250.1 37.5,250.3 38.2,250.4 38.9,250.4 39.6,250.6 40.4,250.1 41.1,249.5 41.8,249.8 42.5,249.3 43.2,249.1 44.0,249.0 44.7,248.5 45.4,248.2 46.1,248.0 46.8,248.0 47.6,247.4 48.3,246.8 49.0,246.2 49.7,245.4 50.4,243.6 51.2,241.8 51.9,239.8 52.6,237.2 53.3,234.3 54.0,231.1 54.8,228.0 55.5,224.5 56.2,220.7 56.9,217.3 57.6,213.7 58.4,210.0 59.1,206.6 59.8,204.0 60.5,201.6 61.2,200.0 62.0,198.5 62.7,197.6 63.4,196.5 64.1,195.7 64.8,194.7 65.6,193.6 66.3,192.3 67.0,191.1 67.7,189.8 68.4,188.6 69.2,187.8 69.9,186.7 70.6,185.8 71.3,184.7 72.0,183.8 72.8,182.8 73.5,182.1 74.2,181.5 74.9,180.7 75.6,179.9 76.4,179.3 77.1,178.6 77.8,177.9 78.5,177.3 79.2,176.9 80.0,176.3 80.7,175.7 81.4,175.1 82.1,174.7 82.8,174.2 83.6,173.7 84.3,173.3 85.0,173.0 85.7,172.5 86.4,172.1 87.2,171.8 87.9,171.5 88.6,171.3 89.3,171.0 90.0,170.8 90.8,170.4 91.5,170.2 92.2,170.0 92.9,169.7 93.6,169.6 94.4,169.6 95.1,169.4 95.8,169.2 96.5,169.2 97.2,169.0 98.0,169.0 98.7,168.8 99.4,168.8 100.1,168.7 100.8,168.7 101.6,168.5 102.3,168.6 103.0,168.4 103.7,168.4 104.4,168.2 105.2,168.2 105.9,168.1 106.6,168.1 107.3,168.0 108.0,168.2 108.8,168.3 109.5,168.3 110.2,168.0 110.9,168.0 111.6,167.6 112.4,167.5 113.1,167.2 113.8,167.3 114.5,167.3 115.2,167.5 116.0,167.6 116.7,167.7 117.4,167.5 118.1,167.7 118.8,167.6 119.6,167.5 120.3,167.3 121.0,167.4 121.7,167.3 122.4,167.0 123.2,167.0 123.9,166.9 124.6,167.0 125.3,166.9 126.0,166.9 126.8,167.1 127.5,167.2 128.2,167.1 128.9,167.0 129.6,167.2 130.4,167.2 131.1,167.2 131.8,167.3 132.5,167.3 133.2,167.1 134.0,167.2 134.7,167.1 135.4,166.8 136.1,166.7 136.8,166.6 137.6,166.2 138.3,166.1 139.0,166.1 139.7,166.1 140.4,166.0 141.2,166.2 141.9,166.2 142.6,166.4 143.3,166.5 144.0,166.7 144.8,166.7 145.5,166.6 146.2,166.5 146.9,166.5 147.6,166.3 148.4,166.3 149.1,166.6 149.8,166.6 150.5,166.5 151.2,166.5 152.0,166.3 152.7,166.3 153.4,166.2 154.1,166.1 154.8,166.2 155.6,166.2 156.3,165.9 157.0,166.1 157.7,166.3 158.4,166.0 159.2,166.1 159.9,166.3 160.6,166.3 161.3,166.3 162.0,166.5 162.8,166.4 163.5,166.4 164.2,166.3 164.9,166.4 165.6,166.2 166.4,166.2 167.1,166.3 167.8,166.0 168.5,165.9 169.2,165.9 170.0,166.0 170.7,165.7 171.4,165.8 172.1,165.8 172.8,165.9 173.6,165.8 174.3,165.8 175.0,165.7 175.7,165.6 176.4,165.6 177.2,165.6 177.9,165.7 178.6,165.8 179.3,165.8 180.0,165.5 180.8,165.4 181.5,165.6 182.2,165.5 182.9,165.7 183.6,165.7 184.4,166.1 185.1,165.9 185.8,165.8 186.5,165.7 187.2,165.8 188.0,165.6 188.7,165.6 189.4,165.8 190.1,165.9 190.8,165.8 191.6,165.7 192.3,165.8 193.0,165.8 193.7,165.8 194.4,165.7 195.2,166.0 195.9,166.0 196.6,166.0 197.3,165.8 198.0,166.0 198.8,165.6 199.5,165.6 200.2,165.6 200.9,165.6 201.6,165.5 202.4,165.6 203.1,165.5 203.8,165.3 204.5,165.4 205.2,165.3 206.0,165.3 206.7,165.3 207.4,165.6 208.1,165.3 208.8,165.6 209.6,165.6 210.3,165.4 211.0,165.1 211.7,165.2 212.4,165.0 213.2,165.0 213.9,165.3 214.6,165.5 215.3,165.5 216.0,165.6 216.8,165.6 217.5,165.6 218.2,165.5 218.9,165.5 219.6,165.5 220.4,165.5 221.1,165.5 221.8,165.4 222.5,165.2 223.2,165.3 224.0,165.4 224.7,165.3 225.4,165.5 226.1,165.7 226.8,165.6 227.6,165.5 228.3,165.6 229.0,165.7 229.7,165.7 230.4,165.6 231.2,165.8 231.9,165.7 232.6,165.6 233.3,165.5 234.0,165.6 234.8,165.5 235.5,165.4 236.2,165.4 236.9,165.5 237.6,165.5 238.4,165.5 239.1,165.5 239.8,165.6 240.5,165.6 241.2,165.7 242.0,165.7 242.7,165.7 243.4,165.5 244.1,165.4 244.8,165.4 245.6,165.2 246.3,165.3 247.0,165.3 247.7,165.3 248.4,165.4 249.2,165.4 249.9,165.2 250.6,165.2 251.3,165.3 252.0,165.2 252.8,165.4 253.5,165.6 254.2,165.5 254.9,165.6 255.6,165.7 256.4,165.8 257.1,165.8 257.8,165.8 258.5,165.4 259.2,165.4 260.0,165.4 260.7,165.3 261.4,165.3 262.1,165.5 262.8,165.4 263.6,165.3 264.3,165.5 265.0,165.6 265.7,165.7 266.4,165.8 267.2,165.6 267.9,165.5 268.6,165.3 269.3,165.4 270.0,165.5 270.8,165.5 271.5,165.3 272.2,165.4 272.9,165.4 273.6,165.4 274.4,165.7 275.1,165.8 275.8,165.7 276.5,165.6 277.2,165.6 278.0,165.3 278.7,165.3 279.4,165.3 280.1,165.3 280.8,165.1 281.6,165.5 282.3,165.4 283.0,165.4 283.7,165.5 284.4,165.5 285.2,165.6 285.9,165.6 286.6,165.5 287.3,165.3 288.0,165.4 288.8,165.1 289.5,165.1 290.2,165.0 290.9,165.0 291.6,165.1 292.4,165.3 293.1,165.4 293.8,165.5 294.5,165.8 295.2,165.6 296.0,165.8 296.7,165.7 297.4,165.6 298.1,165.7 298.8,165.7 299.6,165.5 300.3,165.4 301.0,165.5 301.7,165.4 302.4,165.4 303.2,165.3 303.9,165.5 304.6,165.4 305.3,165.2 306.0,165.3 306.8,165.4 307.5,165.3 308.2,165.3 308.9,165.6 309.6,165.4 310.4,165.4 311.1,165.4 311.8,165.5 312.5,165.3 313.2,165.5 314.0,165.4 314.7,165.3 315.4,165.3 316.1,165.4 316.8,165.3 317.6,165.5 318.3,165.4 319.0,165.5 319.7,165.4 320.4,165.4 321.2,165.3 321.9,165.4 322.6,165.3 323.3,165.4 324.0,165.4 324.8,165.5 325.5,165.7 326.2,165.7 326.9,165.8 327.6,165.8 328.4,165.9 329.1,165.9 329.8,166.0 330.5,166.0 331.2,166.1 332.0,166.1 332.7,165.9 333.4,165.8 334.1,165.7 334.8,165.7 335.6,165.7 336.3,165.9 337.0,165.9 337.7,165.8 338.4,165.9 339.2,166.0 339.9,166.1 340.6,166.1 341.3,166.3 342.0,166.2 342.8,166.4 343.5,166.4 344.2,166.7 344.9,166.9 345.6,167.4 346.4,167.5 347.1,167.8 347.8,167.9 348.5,168.4 349.2,168.5 350.0,168.6 350.7,168.8 351.4,169.1 352.1,169.4 352.8,169.6 353.6,169.9 354.3,170.2 355.0,170.5 355.7,170.7 356.4,171.0 357.2,171.3 357.9,171.6 358.6,172.0 359.3,172.3 360.0,172.3 360.8,172.5 361.5,172.5 362.2,172.7 362.9,172.8 363.6,173.1 364.4,173.4 365.1,173.7 365.8,173.9 366.5,174.1 367.2,174.4 368.0,174.7 368.7,175.0 369.4,175.3 370.1,175.6 370.8,175.7 371.6,176.1 372.3,176.5 373.0,176.7 373.7,177.1 374.4,177.3 375.2,177.4 375.9,177.5 376.6,177.7 377.3,177.9 378.0,178.5 378.8,178.8 379.5,179.2 380.2,179.6 380.9,180.0 381.6,180.1 382.4,180.3 383.1,180.6 383.8,180.9 384.5,181.0 385.2,181.5 386.0,181.7 386.7,181.9 387.4,182.1 388.1,182.3 388.8,182.5 389.6,182.9 390.3,183.3 391.0,183.7 391.7,184.0 392.4,184.2 393.2,184.6 393.9,185.1 394.6,185.6 395.3,186.0 396.0,186.7 396.8,186.9 397.5,187.4 398.2,187.6 398.9,188.1 399.6,188.4 400.4,189.0 401.1,189.3 401.8,189.7 402.5,190.1 403.2,190.5 404.0,191.0 404.7,191.5 405.4,192.1 406.1,192.6 406.8,193.2 407.6,193.7 408.3,194.2 409.0,195.0 409.7,195.7 410.4,196.6 411.2,197.3 411.9,198.2 412.6,199.0 413.3,200.0 414.0,200.9 414.8,202.0 415.5,203.2 416.2,204.2 416.9,205.2 417.6,206.1 418.4,206.8 419.1,207.3 419.8,207.9 420.5,208.4 421.2,208.9 422.0,209.7 422.7,210.7 423.4,211.3 424.1,212.1 424.8,212.9 425.6,213.6 426.3,213.9 427.0,214.5 427.7,215.2 428.4,215.8 429.2,216.4 429.9,217.1 430.6,217.7 431.3,218.1 432.0,218.5 432.8,219.0 433.5,219.6 434.2,220.1 434.9,220.7 435.6,221.5 436.4,222.1 437.1,222.8 437.8,223.2 438.5,223.9 439.2,224.5 440.0,225.1 440.7,225.5 441.4,226.1 442.1,226.5 442.8,226.9 443.6,227.4 444.3,228.1 445.0,228.8 445.7,229.5 446.4,230.2 447.2,231.0 447.9,231.6 448.6,232.2 449.3,232.8 450.0,233.6 450.8,234.2 451.5,234.9 452.2,235.7 452.9,236.7 453.6,237.5 454.4,238.4 455.1,239.2 455.8,239.9 456.5,240.4 457.2,241.0 458.0,241.8 458.7,242.4 459.4,243.1 460.1,243.8 460.8,244.4 461.6,244.5 462.3,244.7 463.0,245.0 463.7,245.1 464.4,245.3 465.2,245.7 465.9,245.6 466.6,245.6 467.3,245.8 468.0,245.8 468.8,245.9 469.5,246.0 470.2,246.1 470.9,246.3 471.6,246.5 472.4,246.5 473.1,246.1 473.8,246.0 474.5,246.7 475.2,246.7 476.0,247.0 476.7,247.5 477.4,247.7 478.1,247.9 478.8,248.0 479.6,248.1 480.3,248.4 481.0,248.3 481.7,247.9 482.4,248.0 483.2,248.0 483.9,248.8 484.6,248.5 485.3,248.5 486.0,249.1 486.8,249.6 487.5,249.5 488.2,249.2 488.9,248.9 489.6,249.5 490.4,249.4 491.1,249.1 491.8,249.1 492.5,249.6 493.2,250.1 494.0,250.3 494.7,249.9 495.4,250.4 496.1,250.6 496.8,250.9 497.6,250.5 498.3,249.7 499.0,249.6 499.7,249.6 500.4,249.0 501.2,248.9 501.9,249.0 502.6,249.9 503.3,250.5 504.0,250.8 504.8,251.2 505.5,251.6 506.2,251.0 506.9,251.3 507.6,250.6 508.4,250.7 509.1,250.7 509.8,250.8 510.5,251.0 511.2,251.5 512.0,251.2 512.7,251.9 513.4,251.3 514.1,251.4 514.8,251.3 515.6,251.0 516.3,251.4 517.0,252.4 517.7,252.1 518.4,252.5 519.2,252.4 519.9,251.3 520.6,251.4 521.3,251.5 522.0,251.1 522.8,251.0 523.5,250.7 524.2,250.7 524.9,251.3" stroke="#f1c251" stroke-width="1.55" fill="none" stroke-linejoin="round"/>
<path d="M31.0,250.5 31.7,250.6 32.4,250.5 33.2,249.8 33.9,250.0 34.6,249.7 35.3,249.6 36.0,249.3 36.8,249.1 37.5,249.2 38.2,249.0 38.9,248.3 39.6,248.1 40.4,247.7 41.1,247.7 41.8,247.7 42.5,247.3 43.2,247.3 44.0,247.0 44.7,246.5 45.4,246.0 46.1,245.2 46.8,244.5 47.6,243.4 48.3,242.0 49.0,240.0 49.7,237.8 50.4,235.0 51.2,232.0 51.9,228.9 52.6,225.8 53.3,222.6 54.0,219.7 54.8,216.9 55.5,213.9 56.2,211.0 56.9,208.0 57.6,205.4 58.4,202.7 59.1,200.5 59.8,198.7 60.5,197.0 61.2,195.5 62.0,194.0 62.7,192.9 63.4,191.4 64.1,190.3 64.8,189.1 65.6,188.0 66.3,186.9 67.0,186.0 67.7,184.9 68.4,184.0 69.2,183.1 69.9,182.3 70.6,181.5 71.3,180.8 72.0,179.9 72.8,179.1 73.5,178.4 74.2,177.8 74.9,177.1 75.6,176.7 76.4,176.2 77.1,175.6 77.8,174.8 78.5,174.4 79.2,173.8 80.0,173.4 80.7,172.8 81.4,172.5 82.1,172.1 82.8,171.7 83.6,171.2 84.3,170.9 85.0,170.5 85.7,170.1 86.4,169.7 87.2,169.5 87.9,169.2 88.6,168.9 89.3,168.7 90.0,168.4 90.8,168.1 91.5,168.1 92.2,167.9 92.9,167.7 93.6,167.5 94.4,167.5 95.1,167.3 95.8,167.4 96.5,167.3 97.2,167.2 98.0,167.1 98.7,167.1 99.4,167.1 100.1,167.2 100.8,167.3 101.6,167.3 102.3,167.1 103.0,167.1 103.7,167.0 104.4,167.1 105.2,167.2 105.9,167.2 106.6,167.1 107.3,167.0 108.0,166.9 108.8,166.5 109.5,166.6 110.2,166.5 110.9,166.5 111.6,166.5 112.4,166.7 113.1,166.6 113.8,166.7 114.5,166.6 115.2,166.5 116.0,166.3 116.7,166.2 117.4,166.2 118.1,166.2 118.8,166.3 119.6,166.4 120.3,166.6 121.0,166.5 121.7,166.5 122.4,166.5 123.2,166.4 123.9,166.3 124.6,166.1 125.3,166.2 126.0,166.1 126.8,165.9 127.5,165.8 128.2,166.2 128.9,166.1 129.6,166.3 130.4,166.6 131.1,166.6 131.8,166.4 132.5,166.5 133.2,166.4 134.0,166.4 134.7,166.4 135.4,166.3 136.1,166.4 136.8,166.1 137.6,165.9 138.3,165.9 139.0,166.0 139.7,165.8 140.4,165.9 141.2,166.0 141.9,166.0 142.6,165.9 143.3,166.0 144.0,166.0 144.8,165.8 145.5,165.7 146.2,165.9 146.9,165.9 147.6,165.9 148.4,165.9 149.1,165.9 149.8,165.8 150.5,165.7 151.2,165.7 152.0,165.9 152.7,165.9 153.4,165.9 154.1,165.9 154.8,165.6 155.6,165.6 156.3,165.5 157.0,165.5 157.7,165.4 158.4,165.6 159.2,165.5 159.9,165.6 160.6,165.7 161.3,165.9 162.0,165.8 162.8,165.6 163.5,165.6 164.2,165.5 164.9,165.5 165.6,165.5 166.4,165.7 167.1,165.5 167.8,165.6 168.5,165.4 169.2,165.5 170.0,165.4 170.7,165.3 171.4,165.5 172.1,165.5 172.8,165.3 173.6,165.5 174.3,165.7 175.0,165.6 175.7,165.6 176.4,165.7 177.2,165.4 177.9,165.3 178.6,165.2 179.3,165.3 180.0,165.3 180.8,165.6 181.5,165.5 182.2,165.4 182.9,165.2 183.6,165.4 184.4,165.3 185.1,165.2 185.8,165.4 186.5,165.5 187.2,165.3 188.0,165.3 188.7,165.4 189.4,165.3 190.1,165.2 190.8,165.1 191.6,165.1 192.3,165.2 193.0,165.2 193.7,165.2 194.4,165.4 195.2,165.4 195.9,165.4 196.6,165.5 197.3,165.4 198.0,165.4 198.8,165.4 199.5,165.1 200.2,165.1 200.9,165.0 201.6,164.9 202.4,164.9 203.1,165.2 203.8,165.2 204.5,165.2 205.2,165.2 206.0,165.2 206.7,165.1 207.4,165.3 208.1,165.2 208.8,165.2 209.6,165.3 210.3,165.2 211.0,165.0 211.7,164.9 212.4,164.8 213.2,164.8 213.9,164.8 214.6,164.8 215.3,164.9 216.0,165.0 216.8,165.1 217.5,165.1 218.2,165.0 218.9,165.1 219.6,165.1 220.4,164.9 221.1,165.1 221.8,165.1 222.5,165.0 223.2,164.8 224.0,164.7 224.7,164.7 225.4,164.9 226.1,164.9 226.8,164.9 227.6,165.0 228.3,164.9 229.0,164.8 229.7,164.9 230.4,165.0 231.2,165.0 231.9,164.9 232.6,164.9 233.3,164.8 234.0,164.9 234.8,164.8 235.5,164.8 236.2,164.8 236.9,164.9 237.6,165.0 238.4,165.1 239.1,165.2 239.8,165.3 240.5,165.2 241.2,165.2 242.0,165.4 242.7,165.2 243.4,165.1 244.1,165.1 244.8,164.9 245.6,164.8 246.3,164.8 247.0,164.8 247.7,164.9 248.4,165.0 249.2,165.0 249.9,165.1 250.6,165.1 251.3,165.0 252.0,165.0 252.8,165.0 253.5,164.8 254.2,164.9 254.9,165.1 255.6,164.8 256.4,165.0 257.1,164.9 257.8,164.9 258.5,164.8 259.2,164.9 260.0,164.7 260.7,164.6 261.4,164.5 262.1,164.4 262.8,164.6 263.6,164.6 264.3,164.9 265.0,164.9 265.7,164.9 266.4,164.8 267.2,165.0 267.9,164.8 268.6,164.8 269.3,164.9 270.0,164.9 270.8,164.8 271.5,164.8 272.2,164.8 272.9,164.7 273.6,164.7 274.4,164.7 275.1,164.6 275.8,164.5 276.5,164.5 277.2,164.4 278.0,164.3 278.7,164.3 279.4,164.4 280.1,164.3 280.8,164.4 281.6,164.4 282.3,164.6 283.0,164.5 283.7,164.5 284.4,164.3 285.2,164.3 285.9,164.1 286.6,164.3 287.3,164.4 288.0,164.5 288.8,164.6 289.5,164.7 290.2,164.5 290.9,164.5 291.6,164.6 292.4,164.7 293.1,164.6 293.8,164.7 294.5,164.8 295.2,164.8 296.0,164.7 296.7,164.9 297.4,164.9 298.1,164.9 298.8,165.1 299.6,165.1 300.3,165.1 301.0,165.2 301.7,165.2 302.4,165.2 303.2,165.2 303.9,164.9 304.6,164.8 305.3,164.8 306.0,164.6 306.8,164.6 307.5,164.8 308.2,164.7 308.9,164.9 309.6,165.1 310.4,165.2 311.1,165.4 311.8,165.4 312.5,165.4 313.2,165.2 314.0,165.0 314.7,164.9 315.4,165.0 316.1,165.0 316.8,165.1 317.6,165.2 318.3,165.2 319.0,165.2 319.7,165.0 320.4,165.0 321.2,165.0 321.9,165.0 322.6,165.1 323.3,165.1 324.0,165.2 324.8,165.3 325.5,165.4 326.2,165.6 326.9,165.6 327.6,165.6 328.4,165.6 329.1,165.6 329.8,165.5 330.5,165.5 331.2,165.4 332.0,165.4 332.7,165.3 333.4,165.1 334.1,165.0 334.8,165.0 335.6,165.1 336.3,165.2 337.0,165.4 337.7,165.5 338.4,165.7 339.2,165.5 339.9,165.4 340.6,165.3 341.3,165.4 342.0,165.4 342.8,165.4 343.5,165.8 344.2,166.0 344.9,166.2 345.6,166.5 346.4,166.7 347.1,166.8 347.8,166.9 348.5,167.0 349.2,167.1 350.0,167.3 350.7,167.4 351.4,167.6 352.1,167.7 352.8,168.1 353.6,168.4 354.3,168.7 355.0,169.1 355.7,169.5 356.4,169.6 357.2,169.9 357.9,170.0 358.6,170.0 359.3,170.2 360.0,170.3 360.8,170.4 361.5,170.7 362.2,171.0 362.9,171.1 363.6,171.2 364.4,171.3 365.1,171.4 365.8,171.7 366.5,172.1 367.2,172.4 368.0,172.6 368.7,172.8 369.4,172.9 370.1,172.9 370.8,173.1 371.6,173.3 372.3,173.4 373.0,173.7 373.7,174.0 374.4,174.3 375.2,174.6 375.9,175.1 376.6,175.3 377.3,175.7 378.0,176.0 378.8,176.3 379.5,176.4 380.2,176.8 380.9,177.0 381.6,177.4 382.4,177.7 383.1,178.0 383.8,178.3 384.5,178.6 385.2,178.6 386.0,179.0 386.7,179.3 387.4,179.6 388.1,180.1 388.8,180.4 389.6,180.7 390.3,181.2 391.0,181.4 391.7,181.6 392.4,181.9 393.2,182.3 393.9,182.5 394.6,182.8 395.3,183.3 396.0,183.9 396.8,184.2 397.5,184.9 398.2,185.4 398.9,185.8 399.6,186.2 400.4,186.5 401.1,186.9 401.8,187.5 402.5,188.1 403.2,188.6 404.0,189.2 404.7,189.6 405.4,190.0 406.1,190.5 406.8,191.2 407.6,191.8 408.3,192.7 409.0,193.2 409.7,193.8 410.4,194.3 411.2,194.8 411.9,195.2 412.6,195.6 413.3,196.2 414.0,196.6 414.8,197.3 415.5,198.0 416.2,198.9 416.9,199.6 417.6,200.7 418.4,201.5 419.1,202.5 419.8,203.3 420.5,203.9 421.2,204.4 422.0,205.1 422.7,205.7 423.4,206.5 424.1,207.3 424.8,208.4 425.6,209.3 426.3,210.1 427.0,211.1 427.7,212.1 428.4,212.8 429.2,213.5 429.9,214.0 430.6,214.7 431.3,215.2 432.0,215.6 432.8,216.3 433.5,216.8 434.2,217.1 434.9,217.5 435.6,218.0 436.4,218.4 437.1,219.0 437.8,219.6 438.5,220.1 439.2,220.9 440.0,221.4 440.7,222.0 441.4,222.5 442.1,223.2 442.8,223.6 443.6,224.2 444.3,224.9 445.0,225.6 445.7,226.3 446.4,226.8 447.2,227.5 447.9,228.2 448.6,229.0 449.3,229.7 450.0,230.6 450.8,231.4 451.5,231.9 452.2,232.5 452.9,233.1 453.6,233.8 454.4,234.8 455.1,235.9 455.8,236.9 456.5,237.7 457.2,238.8 458.0,239.5 458.7,240.1 459.4,240.9 460.1,241.6 460.8,242.2 461.6,242.9 462.3,243.4 463.0,244.0 463.7,244.6 464.4,245.0 465.2,245.2 465.9,245.7 466.6,245.7 467.3,245.7 468.0,246.0 468.8,246.0 469.5,245.8 470.2,246.1 470.9,246.2 471.6,246.3 472.4,246.5 473.1,246.7 473.8,246.9 474.5,246.7 475.2,246.8 476.0,246.7 476.7,246.6 477.4,246.5 478.1,246.9 478.8,246.9 479.6,247.4 480.3,247.4 481.0,247.7 481.7,247.8 482.4,247.5 483.2,247.3 483.9,247.6 484.6,247.5 485.3,247.3 486.0,247.5 486.8,247.6 487.5,247.6 488.2,247.6 488.9,247.8 489.6,247.9 490.4,248.1 491.1,248.2 491.8,248.2 492.5,248.5 493.2,248.4 494.0,247.9 494.7,248.4 495.4,248.7 496.1,248.7 496.8,248.6 497.6,248.5 498.3,248.8 499.0,249.0 499.7,248.4 500.4,248.8 501.2,249.1 501.9,249.0 502.6,249.2 503.3,249.3 504.0,249.3 504.8,249.3 505.5,249.9 506.2,249.9 506.9,250.1 507.6,249.6 508.4,249.6 509.1,250.0 509.8,250.0 510.5,249.6 511.2,249.4 512.0,249.2 512.7,249.1 513.4,248.8 514.1,248.1 514.8,248.3 515.6,248.6 516.3,248.8 517.0,249.0 517.7,249.6 518.4,250.1 519.2,250.3 519.9,250.3 520.6,250.4 521.3,250.3 522.0,250.1 522.8,249.9 523.5,250.0 524.2,250.0 524.9,249.7" stroke="#9a5da7" stroke-width="1.55" fill="none" stroke-linejoin="round"/>
<path d="M31.00,155.10V254.60H538.50 M31.00,254.60v-4M103.50,254.60v-4M176.00,254.60v-4M248.50,254.60v-4M321.00,254.60v-4M393.50,254.60v-4M466.00,254.60v-4M538.50,254.60v-4M31.00,251.70h4M31.00,232.38h4M31.00,213.06h4M31.00,193.74h4M31.00,174.42h4M31.00,155.10h4" stroke="#ababab" stroke-width="1.0" fill="none"/>
<text x="31.00" y="266.00" text-anchor="middle" class="tk">0</text>
<text x="103.50" y="266.00" text-anchor="middle" class="tk">50</text>
<text x="176.00" y="266.00" text-anchor="middle" class="tk">100</text>
<text x="248.50" y="266.00" text-anchor="middle" class="tk">150</text>
<text x="321.00" y="266.00" text-anchor="middle" class="tk">200</text>
<text x="393.50" y="266.00" text-anchor="middle" class="tk">250</text>
<text x="466.00" y="266.00" text-anchor="middle" class="tk">300</text>
<text x="538.50" y="266.00" text-anchor="middle" class="tk">350</text>
<text x="28.0" y="254.50" text-anchor="end" class="tk">0</text>
<text x="28.0" y="235.18" text-anchor="end" class="tk">20</text>
<text x="28.0" y="215.86" text-anchor="end" class="tk">40</text>
<text x="28.0" y="196.54" text-anchor="end" class="tk">60</text>
<text x="28.0" y="177.22" text-anchor="end" class="tk">80</text>
<text x="28.0" y="157.90" text-anchor="end" class="tk">100</text>
<rect x="482.7" y="156.9" width="54.30" height="67.40" fill="#fff" stroke="#a0a0a0" stroke-width="0.8"/>
<path d="M484.2,160.90H500.7" stroke="#1980c4" stroke-width="1.3"/>
<text x="502.6" y="162.70" class="lg" textLength="29.8" lengthAdjust="spacing">5% duty cycle</text>
<path d="M484.2,166.92H500.7" stroke="#dd6430" stroke-width="1.3"/>
<text x="502.6" y="168.72" class="lg" textLength="32.3" lengthAdjust="spacing">10% duty cycle</text>
<path d="M484.2,172.94H500.7" stroke="#efb936" stroke-width="1.3"/>
<text x="502.6" y="174.74" class="lg" textLength="32.3" lengthAdjust="spacing">15% duty cycle</text>
<path d="M484.2,178.96H500.7" stroke="#8b4499" stroke-width="1.3"/>
<text x="502.6" y="180.76" class="lg" textLength="32.3" lengthAdjust="spacing">20% duty cycle</text>
<path d="M484.2,184.98H500.7" stroke="#85b445" stroke-width="1.3"/>
<text x="502.6" y="186.78" class="lg" textLength="32.3" lengthAdjust="spacing">25% duty cycle</text>
<path d="M484.2,191.00H500.7" stroke="#5fc4f0" stroke-width="1.3"/>
<text x="502.6" y="192.80" class="lg" textLength="32.3" lengthAdjust="spacing">30% duty cycle</text>
<path d="M484.2,197.02H500.7" stroke="#ab2b44" stroke-width="1.3"/>
<text x="502.6" y="198.82" class="lg" textLength="32.3" lengthAdjust="spacing">35% duty cycle</text>
<path d="M484.2,203.04H500.7" stroke="#1980c4" stroke-width="1.3"/>
<text x="502.6" y="204.84" class="lg" textLength="32.3" lengthAdjust="spacing">40% duty cycle</text>
<path d="M484.2,209.06H500.7" stroke="#dd6430" stroke-width="1.3"/>
<text x="502.6" y="210.86" class="lg" textLength="32.3" lengthAdjust="spacing">45% duty cycle</text>
<path d="M484.2,215.08H500.7" stroke="#efb936" stroke-width="1.3"/>
<text x="502.6" y="216.88" class="lg" textLength="32.3" lengthAdjust="spacing">50% duty cycle</text>
<path d="M484.2,221.10H500.7" stroke="#8b4499" stroke-width="1.3"/>
<text x="502.6" y="222.90" class="lg" textLength="32.3" lengthAdjust="spacing">55% duty cycle</text>
<text x="124.0" y="151.6" class="ti" textLength="311.8" lengthAdjust="spacingAndGlyphs">Thermostat opening with different duty cycles at water temperature of 55°C</text>
<text x="270.0" y="277.5" class="al" textLength="30.6" lengthAdjust="spacingAndGlyphs">Time(s)</text>
<text transform="translate(11.2,229.3) rotate(-90)" class="al" textLength="48.6" lengthAdjust="spacingAndGlyphs">Opening(%)</text>
<text x="276.3" y="296.0" text-anchor="middle" class="cap">(b)</text>
</svg>
</body></html>
